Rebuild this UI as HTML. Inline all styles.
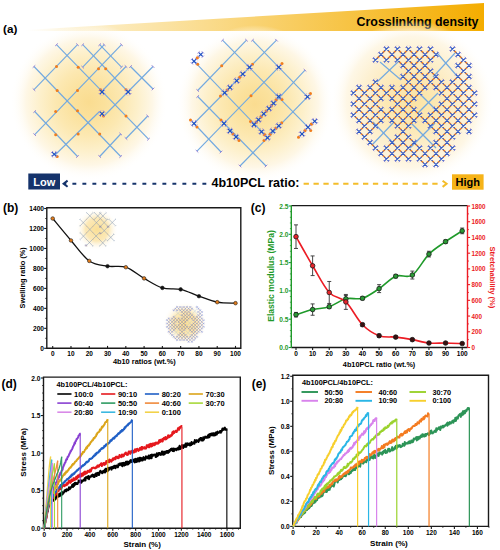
<!DOCTYPE html>
<html><head><meta charset="utf-8"><style>
html,body{margin:0;padding:0;background:#fff;width:500px;height:550px;overflow:hidden}
svg{display:block}
text{font-family:'Liberation Sans',sans-serif;font-weight:bold}
.mini1 line,.mini1 path,.mini1 circle{vector-effect:non-scaling-stroke}
.mini1 line{stroke:#8a9cb4;stroke-width:0.55px}
.mini1 path{stroke:#a08aa8;stroke-width:0.7px}
.mini1 circle{opacity:0.35}
.mini3 path,.mini3 line{vector-effect:non-scaling-stroke}
.mini3 line{stroke-width:0.4px}
.mini3 path{stroke-width:0.75px}
.mini3{opacity:0.5}
</style></head><body>
<svg width="500" height="550" viewBox="0 0 500 550">
<defs>
<linearGradient id="wedge" x1="25" y1="0" x2="484" y2="0" gradientUnits="userSpaceOnUse">
<stop offset="0" stop-color="#fdf6e0" stop-opacity="0"/>
<stop offset="0.12" stop-color="#fcecc0" stop-opacity="0.85"/>
<stop offset="0.5" stop-color="#f9d373"/>
<stop offset="1" stop-color="#f4ad00"/>
</linearGradient>
<radialGradient id="glow" cx="0.5" cy="0.5" r="0.5">
<stop offset="0" stop-color="#fadc90"/>
<stop offset="0.2" stop-color="#fbe19c"/>
<stop offset="0.42" stop-color="#fce8b1"/>
<stop offset="0.62" stop-color="#fdf0cb"/>
<stop offset="0.8" stop-color="#fef7e6"/>
<stop offset="1" stop-color="#ffffff" stop-opacity="0"/>
</radialGradient>
<radialGradient id="glow3" cx="0.5" cy="0.5" r="0.5">
<stop offset="0" stop-color="#fbe3a4"/>
<stop offset="0.3" stop-color="#fce8b4"/>
<stop offset="0.6" stop-color="#fdf0d0"/>
<stop offset="0.8" stop-color="#fef7e6"/>
<stop offset="1" stop-color="#ffffff" stop-opacity="0"/>
</radialGradient>
<radialGradient id="glow2" cx="0.5" cy="0.5" r="0.5">
<stop offset="0" stop-color="#fadf96"/>
<stop offset="0.55" stop-color="#fce9b8"/>
<stop offset="1" stop-color="#ffffff" stop-opacity="0"/>
</radialGradient>
</defs>
<rect x="0" y="0" width="500" height="550" fill="#fff"/>
<polygon points="25,30 484,3 484,31 25,31" fill="url(#wedge)"/>
<text x="10.2" y="28.4" font-size="11.7" fill="#000" text-anchor="middle" dominant-baseline="central" >(a)</text>
<text x="417.5" y="21.5" font-size="12.4" fill="#000" text-anchor="middle" dominant-baseline="central" >Crosslinking density</text>
<circle cx="89" cy="102" r="79" fill="url(#glow)"/>
<circle cx="255" cy="104" r="79" fill="url(#glow)"/>
<circle cx="412" cy="102" r="82" fill="url(#glow3)"/>
<line x1="56.50" y1="44.70" x2="148.50" y2="139.20" stroke="#72a9e0" stroke-width="1.15"/>
<line x1="57.79" y1="43.44" x2="55.21" y2="45.96" stroke="#9a86d6" stroke-width="1"/>
<line x1="149.79" y1="137.94" x2="147.21" y2="140.46" stroke="#9a86d6" stroke-width="1"/>
<line x1="82.70" y1="44.70" x2="128.20" y2="92.00" stroke="#72a9e0" stroke-width="1.15"/>
<line x1="84.00" y1="43.45" x2="81.40" y2="45.95" stroke="#9a86d6" stroke-width="1"/>
<line x1="34.00" y1="66.50" x2="120.70" y2="156.50" stroke="#72a9e0" stroke-width="1.15"/>
<line x1="35.30" y1="65.25" x2="32.70" y2="67.75" stroke="#9a86d6" stroke-width="1"/>
<line x1="122.00" y1="155.25" x2="119.40" y2="157.75" stroke="#9a86d6" stroke-width="1"/>
<line x1="34.70" y1="111.50" x2="77.50" y2="156.50" stroke="#72a9e0" stroke-width="1.15"/>
<line x1="36.00" y1="110.26" x2="33.40" y2="112.74" stroke="#9a86d6" stroke-width="1"/>
<line x1="78.80" y1="155.26" x2="76.20" y2="157.74" stroke="#9a86d6" stroke-width="1"/>
<line x1="130.50" y1="66.50" x2="153.00" y2="89.00" stroke="#72a9e0" stroke-width="1.15"/>
<line x1="131.77" y1="65.23" x2="129.23" y2="67.77" stroke="#9a86d6" stroke-width="1"/>
<line x1="154.27" y1="87.73" x2="151.73" y2="90.27" stroke="#9a86d6" stroke-width="1"/>
<line x1="99.70" y1="44.70" x2="121.50" y2="67.20" stroke="#72a9e0" stroke-width="1.15"/>
<line x1="100.99" y1="43.45" x2="98.41" y2="45.95" stroke="#9a86d6" stroke-width="1"/>
<line x1="122.79" y1="65.95" x2="120.21" y2="68.45" stroke="#9a86d6" stroke-width="1"/>
<line x1="77.50" y1="44.70" x2="34.00" y2="89.70" stroke="#72a9e0" stroke-width="1.15"/>
<line x1="78.79" y1="45.95" x2="76.21" y2="43.45" stroke="#9a86d6" stroke-width="1"/>
<line x1="35.29" y1="90.95" x2="32.71" y2="88.45" stroke="#9a86d6" stroke-width="1"/>
<line x1="104.20" y1="44.70" x2="82.70" y2="67.20" stroke="#72a9e0" stroke-width="1.15"/>
<line x1="105.50" y1="45.94" x2="102.90" y2="43.46" stroke="#9a86d6" stroke-width="1"/>
<line x1="84.00" y1="68.44" x2="81.40" y2="65.96" stroke="#9a86d6" stroke-width="1"/>
<line x1="121.50" y1="44.70" x2="34.70" y2="134.70" stroke="#72a9e0" stroke-width="1.15"/>
<line x1="122.80" y1="45.95" x2="120.20" y2="43.45" stroke="#9a86d6" stroke-width="1"/>
<line x1="36.00" y1="135.95" x2="33.40" y2="133.45" stroke="#9a86d6" stroke-width="1"/>
<line x1="126.00" y1="66.50" x2="101.20" y2="92.00" stroke="#72a9e0" stroke-width="1.15"/>
<line x1="127.29" y1="67.75" x2="124.71" y2="65.25" stroke="#9a86d6" stroke-width="1"/>
<line x1="153.00" y1="66.50" x2="104.50" y2="115.50" stroke="#72a9e0" stroke-width="1.15"/>
<line x1="154.28" y1="67.77" x2="151.72" y2="65.23" stroke="#9a86d6" stroke-width="1"/>
<line x1="99.50" y1="111.50" x2="55.00" y2="155.00" stroke="#72a9e0" stroke-width="1.15"/>
<line x1="147.70" y1="116.00" x2="126.00" y2="138.50" stroke="#72a9e0" stroke-width="1.15"/>
<line x1="149.00" y1="117.25" x2="146.40" y2="114.75" stroke="#9a86d6" stroke-width="1"/>
<line x1="127.30" y1="139.75" x2="124.70" y2="137.25" stroke="#9a86d6" stroke-width="1"/>
<line x1="120.70" y1="134.00" x2="99.70" y2="156.50" stroke="#72a9e0" stroke-width="1.15"/>
<line x1="122.02" y1="135.23" x2="119.38" y2="132.77" stroke="#9a86d6" stroke-width="1"/>
<line x1="101.02" y1="157.73" x2="98.38" y2="155.27" stroke="#9a86d6" stroke-width="1"/>
<circle cx="56.50" cy="66.50" r="1.5" fill="#f07d1e"/>
<circle cx="78.20" cy="67.20" r="1.5" fill="#f07d1e"/>
<circle cx="57.20" cy="90.50" r="1.5" fill="#f07d1e"/>
<circle cx="77.50" cy="90.50" r="1.5" fill="#f07d1e"/>
<circle cx="98.50" cy="68.70" r="1.5" fill="#f07d1e"/>
<circle cx="105.70" cy="68.70" r="1.5" fill="#f07d1e"/>
<circle cx="100.50" cy="89.70" r="1.5" fill="#f07d1e"/>
<circle cx="126.00" cy="89.70" r="1.5" fill="#f07d1e"/>
<circle cx="55.70" cy="111.50" r="1.5" fill="#f07d1e"/>
<circle cx="77.50" cy="110.70" r="1.5" fill="#f07d1e"/>
<circle cx="55.70" cy="134.70" r="1.5" fill="#f07d1e"/>
<circle cx="78.20" cy="134.00" r="1.5" fill="#f07d1e"/>
<circle cx="57.20" cy="156.50" r="1.5" fill="#f07d1e"/>
<circle cx="126.00" cy="116.00" r="1.5" fill="#f07d1e"/>
<circle cx="103.50" cy="116.00" r="1.5" fill="#f07d1e"/>
<circle cx="99.70" cy="134.00" r="1.5" fill="#f07d1e"/>
<path d="M99.85,89.85 L104.15,94.15 M99.85,94.15 L104.15,89.85" stroke="#1e4fc4" stroke-width="1.2"/>
<line x1="100.95" y1="88.75" x2="98.75" y2="90.95" stroke="#9a86d6" stroke-width="0.9"/>
<line x1="103.05" y1="95.25" x2="105.25" y2="93.05" stroke="#9a86d6" stroke-width="0.9"/>
<line x1="98.75" y1="93.05" x2="100.95" y2="95.25" stroke="#9a86d6" stroke-width="0.9"/>
<line x1="105.25" y1="90.95" x2="103.05" y2="88.75" stroke="#9a86d6" stroke-width="0.9"/>
<path d="M126.05,89.85 L130.35,94.15 M126.05,94.15 L130.35,89.85" stroke="#1e4fc4" stroke-width="1.2"/>
<line x1="127.15" y1="88.75" x2="124.95" y2="90.95" stroke="#9a86d6" stroke-width="0.9"/>
<line x1="129.25" y1="95.25" x2="131.45" y2="93.05" stroke="#9a86d6" stroke-width="0.9"/>
<line x1="124.95" y1="93.05" x2="127.15" y2="95.25" stroke="#9a86d6" stroke-width="0.9"/>
<line x1="131.45" y1="90.95" x2="129.25" y2="88.75" stroke="#9a86d6" stroke-width="0.9"/>
<path d="M52.05,152.05 L56.35,156.35 M52.05,156.35 L56.35,152.05" stroke="#1e4fc4" stroke-width="1.2"/>
<line x1="53.15" y1="150.95" x2="50.95" y2="153.15" stroke="#9a86d6" stroke-width="0.9"/>
<line x1="55.25" y1="157.45" x2="57.45" y2="155.25" stroke="#9a86d6" stroke-width="0.9"/>
<line x1="50.95" y1="155.25" x2="53.15" y2="157.45" stroke="#9a86d6" stroke-width="0.9"/>
<line x1="57.45" y1="153.15" x2="55.25" y2="150.95" stroke="#9a86d6" stroke-width="0.9"/>
<path d="M99.85,111.55 L104.15,115.85 M99.85,115.85 L104.15,111.55" stroke="#1e4fc4" stroke-width="1.2"/>
<line x1="100.95" y1="110.45" x2="98.75" y2="112.65" stroke="#9a86d6" stroke-width="0.9"/>
<line x1="103.05" y1="116.95" x2="105.25" y2="114.75" stroke="#9a86d6" stroke-width="0.9"/>
<line x1="98.75" y1="114.75" x2="100.95" y2="116.95" stroke="#9a86d6" stroke-width="0.9"/>
<line x1="105.25" y1="112.65" x2="103.05" y2="110.45" stroke="#9a86d6" stroke-width="0.9"/>
<line x1="197.70" y1="96.50" x2="266.00" y2="166.00" stroke="#72a9e0" stroke-width="1.15"/>
<line x1="198.98" y1="95.24" x2="196.42" y2="97.76" stroke="#9a86d6" stroke-width="1"/>
<line x1="267.28" y1="164.74" x2="264.72" y2="167.26" stroke="#9a86d6" stroke-width="1"/>
<line x1="194.00" y1="61.20" x2="267.50" y2="137.70" stroke="#72a9e0" stroke-width="1.15"/>
<line x1="222.50" y1="40.20" x2="308.00" y2="127.20" stroke="#72a9e0" stroke-width="1.15"/>
<line x1="223.78" y1="38.94" x2="221.22" y2="41.46" stroke="#9a86d6" stroke-width="1"/>
<line x1="252.50" y1="40.20" x2="307.50" y2="96.80" stroke="#72a9e0" stroke-width="1.15"/>
<line x1="253.79" y1="38.95" x2="251.21" y2="41.45" stroke="#9a86d6" stroke-width="1"/>
<line x1="194.00" y1="123.50" x2="221.00" y2="152.00" stroke="#72a9e0" stroke-width="1.15"/>
<line x1="222.31" y1="150.76" x2="219.69" y2="153.24" stroke="#9a86d6" stroke-width="1"/>
<line x1="246.50" y1="40.20" x2="197.70" y2="90.50" stroke="#72a9e0" stroke-width="1.15"/>
<line x1="247.79" y1="41.45" x2="245.21" y2="38.95" stroke="#9a86d6" stroke-width="1"/>
<line x1="198.99" y1="91.75" x2="196.41" y2="89.25" stroke="#9a86d6" stroke-width="1"/>
<line x1="276.50" y1="40.20" x2="194.00" y2="123.50" stroke="#72a9e0" stroke-width="1.15"/>
<line x1="277.78" y1="41.47" x2="275.22" y2="38.93" stroke="#9a86d6" stroke-width="1"/>
<line x1="278.70" y1="67.20" x2="197.00" y2="151.20" stroke="#72a9e0" stroke-width="1.15"/>
<line x1="198.29" y1="152.46" x2="195.71" y2="149.94" stroke="#9a86d6" stroke-width="1"/>
<line x1="305.00" y1="70.20" x2="254.00" y2="124.60" stroke="#72a9e0" stroke-width="1.15"/>
<line x1="306.31" y1="71.43" x2="303.69" y2="68.97" stroke="#9a86d6" stroke-width="1"/>
<line x1="307.50" y1="96.80" x2="240.00" y2="166.00" stroke="#72a9e0" stroke-width="1.15"/>
<line x1="241.29" y1="167.26" x2="238.71" y2="164.74" stroke="#9a86d6" stroke-width="1"/>
<circle cx="197.35" cy="57.85" r="1.6" fill="#f07d1e"/>
<circle cx="239.70" cy="77.35" r="1.6" fill="#f07d1e"/>
<circle cx="227.35" cy="90.10" r="1.6" fill="#f07d1e"/>
<circle cx="233.00" cy="134.00" r="1.6" fill="#f07d1e"/>
<circle cx="276.10" cy="99.85" r="1.6" fill="#f07d1e"/>
<circle cx="305.00" cy="130.60" r="1.6" fill="#f07d1e"/>
<circle cx="311.35" cy="124.20" r="1.6" fill="#f07d1e"/>
<circle cx="271.25" cy="105.85" r="1.6" fill="#f07d1e"/>
<circle cx="266.35" cy="111.10" r="1.6" fill="#f07d1e"/>
<circle cx="261.10" cy="116.70" r="1.6" fill="#f07d1e"/>
<circle cx="256.25" cy="122.15" r="1.6" fill="#f07d1e"/>
<circle cx="264.50" cy="134.70" r="1.6" fill="#f07d1e"/>
<circle cx="270.10" cy="134.35" r="1.6" fill="#f07d1e"/>
<circle cx="275.70" cy="128.35" r="1.6" fill="#f07d1e"/>
<circle cx="221.70" cy="65.70" r="1.5" fill="#f07d1e"/>
<circle cx="251.00" cy="95.70" r="1.5" fill="#f07d1e"/>
<circle cx="281.70" cy="122.70" r="1.5" fill="#f07d1e"/>
<circle cx="197.70" cy="64.20" r="1.5" fill="#f07d1e"/>
<circle cx="252.50" cy="64.20" r="1.5" fill="#f07d1e"/>
<circle cx="220.50" cy="96.00" r="1.5" fill="#f07d1e"/>
<circle cx="282.00" cy="63.50" r="1.5" fill="#f07d1e"/>
<circle cx="282.00" cy="99.50" r="1.5" fill="#f07d1e"/>
<circle cx="310.50" cy="93.50" r="1.5" fill="#f07d1e"/>
<circle cx="310.70" cy="130.50" r="1.5" fill="#f07d1e"/>
<circle cx="298.50" cy="137.20" r="1.5" fill="#f07d1e"/>
<circle cx="190.50" cy="120.00" r="1.5" fill="#f07d1e"/>
<circle cx="197.00" cy="127.00" r="1.5" fill="#f07d1e"/>
<circle cx="250.50" cy="121.50" r="1.5" fill="#f07d1e"/>
<circle cx="239.00" cy="140.50" r="1.5" fill="#f07d1e"/>
<circle cx="221.00" cy="120.00" r="1.5" fill="#f07d1e"/>
<circle cx="264.00" cy="140.50" r="1.5" fill="#f07d1e"/>
<path d="M191.85,59.05 L196.15,63.35 M191.85,63.35 L196.15,59.05" stroke="#1e4fc4" stroke-width="1.2"/>
<line x1="192.95" y1="57.95" x2="190.75" y2="60.15" stroke="#9a86d6" stroke-width="0.9"/>
<line x1="195.05" y1="64.45" x2="197.25" y2="62.25" stroke="#9a86d6" stroke-width="0.9"/>
<line x1="190.75" y1="62.25" x2="192.95" y2="64.45" stroke="#9a86d6" stroke-width="0.9"/>
<line x1="197.25" y1="60.15" x2="195.05" y2="57.95" stroke="#9a86d6" stroke-width="0.9"/>
<path d="M198.55,52.35 L202.85,56.65 M198.55,56.65 L202.85,52.35" stroke="#1e4fc4" stroke-width="1.2"/>
<line x1="199.65" y1="51.25" x2="197.45" y2="53.45" stroke="#9a86d6" stroke-width="0.9"/>
<line x1="201.75" y1="57.75" x2="203.95" y2="55.55" stroke="#9a86d6" stroke-width="0.9"/>
<line x1="197.45" y1="55.55" x2="199.65" y2="57.75" stroke="#9a86d6" stroke-width="0.9"/>
<line x1="203.95" y1="53.45" x2="201.75" y2="51.25" stroke="#9a86d6" stroke-width="0.9"/>
<path d="M247.35,65.05 L251.65,69.35 M247.35,69.35 L251.65,65.05" stroke="#1e4fc4" stroke-width="1.2"/>
<line x1="248.45" y1="63.95" x2="246.25" y2="66.15" stroke="#9a86d6" stroke-width="0.9"/>
<line x1="250.55" y1="70.45" x2="252.75" y2="68.25" stroke="#9a86d6" stroke-width="0.9"/>
<line x1="246.25" y1="68.25" x2="248.45" y2="70.45" stroke="#9a86d6" stroke-width="0.9"/>
<line x1="252.75" y1="66.15" x2="250.55" y2="63.95" stroke="#9a86d6" stroke-width="0.9"/>
<path d="M240.55,71.85 L244.85,76.15 M240.55,76.15 L244.85,71.85" stroke="#1e4fc4" stroke-width="1.2"/>
<line x1="241.65" y1="70.75" x2="239.45" y2="72.95" stroke="#9a86d6" stroke-width="0.9"/>
<line x1="243.75" y1="77.25" x2="245.95" y2="75.05" stroke="#9a86d6" stroke-width="0.9"/>
<line x1="239.45" y1="75.05" x2="241.65" y2="77.25" stroke="#9a86d6" stroke-width="0.9"/>
<line x1="245.95" y1="72.95" x2="243.75" y2="70.75" stroke="#9a86d6" stroke-width="0.9"/>
<path d="M234.55,78.55 L238.85,82.85 M234.55,82.85 L238.85,78.55" stroke="#1e4fc4" stroke-width="1.2"/>
<line x1="235.65" y1="77.45" x2="233.45" y2="79.65" stroke="#9a86d6" stroke-width="0.9"/>
<line x1="237.75" y1="83.95" x2="239.95" y2="81.75" stroke="#9a86d6" stroke-width="0.9"/>
<line x1="233.45" y1="81.75" x2="235.65" y2="83.95" stroke="#9a86d6" stroke-width="0.9"/>
<line x1="239.95" y1="79.65" x2="237.75" y2="77.45" stroke="#9a86d6" stroke-width="0.9"/>
<path d="M227.85,85.35 L232.15,89.65 M227.85,89.65 L232.15,85.35" stroke="#1e4fc4" stroke-width="1.2"/>
<line x1="228.95" y1="84.25" x2="226.75" y2="86.45" stroke="#9a86d6" stroke-width="0.9"/>
<line x1="231.05" y1="90.75" x2="233.25" y2="88.55" stroke="#9a86d6" stroke-width="0.9"/>
<line x1="226.75" y1="88.55" x2="228.95" y2="90.75" stroke="#9a86d6" stroke-width="0.9"/>
<line x1="233.25" y1="86.45" x2="231.05" y2="84.25" stroke="#9a86d6" stroke-width="0.9"/>
<path d="M222.55,90.55 L226.85,94.85 M222.55,94.85 L226.85,90.55" stroke="#1e4fc4" stroke-width="1.2"/>
<line x1="223.65" y1="89.45" x2="221.45" y2="91.65" stroke="#9a86d6" stroke-width="0.9"/>
<line x1="225.75" y1="95.95" x2="227.95" y2="93.75" stroke="#9a86d6" stroke-width="0.9"/>
<line x1="221.45" y1="93.75" x2="223.65" y2="95.95" stroke="#9a86d6" stroke-width="0.9"/>
<line x1="227.95" y1="91.65" x2="225.75" y2="89.45" stroke="#9a86d6" stroke-width="0.9"/>
<path d="M191.85,121.35 L196.15,125.65 M191.85,125.65 L196.15,121.35" stroke="#1e4fc4" stroke-width="1.2"/>
<line x1="192.95" y1="120.25" x2="190.75" y2="122.45" stroke="#9a86d6" stroke-width="0.9"/>
<line x1="195.05" y1="126.75" x2="197.25" y2="124.55" stroke="#9a86d6" stroke-width="0.9"/>
<line x1="190.75" y1="124.55" x2="192.95" y2="126.75" stroke="#9a86d6" stroke-width="0.9"/>
<line x1="197.25" y1="122.45" x2="195.05" y2="120.25" stroke="#9a86d6" stroke-width="0.9"/>
<path d="M221.85,121.35 L226.15,125.65 M221.85,125.65 L226.15,121.35" stroke="#1e4fc4" stroke-width="1.2"/>
<line x1="222.95" y1="120.25" x2="220.75" y2="122.45" stroke="#9a86d6" stroke-width="0.9"/>
<line x1="225.05" y1="126.75" x2="227.25" y2="124.55" stroke="#9a86d6" stroke-width="0.9"/>
<line x1="220.75" y1="124.55" x2="222.95" y2="126.75" stroke="#9a86d6" stroke-width="0.9"/>
<line x1="227.25" y1="122.45" x2="225.05" y2="120.25" stroke="#9a86d6" stroke-width="0.9"/>
<path d="M227.85,128.85 L232.15,133.15 M227.85,133.15 L232.15,128.85" stroke="#1e4fc4" stroke-width="1.2"/>
<line x1="228.95" y1="127.75" x2="226.75" y2="129.95" stroke="#9a86d6" stroke-width="0.9"/>
<line x1="231.05" y1="134.25" x2="233.25" y2="132.05" stroke="#9a86d6" stroke-width="0.9"/>
<line x1="226.75" y1="132.05" x2="228.95" y2="134.25" stroke="#9a86d6" stroke-width="0.9"/>
<line x1="233.25" y1="129.95" x2="231.05" y2="127.75" stroke="#9a86d6" stroke-width="0.9"/>
<path d="M233.85,134.85 L238.15,139.15 M233.85,139.15 L238.15,134.85" stroke="#1e4fc4" stroke-width="1.2"/>
<line x1="234.95" y1="133.75" x2="232.75" y2="135.95" stroke="#9a86d6" stroke-width="0.9"/>
<line x1="237.05" y1="140.25" x2="239.25" y2="138.05" stroke="#9a86d6" stroke-width="0.9"/>
<line x1="232.75" y1="138.05" x2="234.95" y2="140.25" stroke="#9a86d6" stroke-width="0.9"/>
<line x1="239.25" y1="135.95" x2="237.05" y2="133.75" stroke="#9a86d6" stroke-width="0.9"/>
<path d="M276.55,94.35 L280.85,98.65 M276.55,98.65 L280.85,94.35" stroke="#1e4fc4" stroke-width="1.2"/>
<line x1="277.65" y1="93.25" x2="275.45" y2="95.45" stroke="#9a86d6" stroke-width="0.9"/>
<line x1="279.75" y1="99.75" x2="281.95" y2="97.55" stroke="#9a86d6" stroke-width="0.9"/>
<line x1="275.45" y1="97.55" x2="277.65" y2="99.75" stroke="#9a86d6" stroke-width="0.9"/>
<line x1="281.95" y1="95.45" x2="279.75" y2="93.25" stroke="#9a86d6" stroke-width="0.9"/>
<path d="M305.85,125.05 L310.15,129.35 M305.85,129.35 L310.15,125.05" stroke="#1e4fc4" stroke-width="1.2"/>
<line x1="306.95" y1="123.95" x2="304.75" y2="126.15" stroke="#9a86d6" stroke-width="0.9"/>
<line x1="309.05" y1="130.45" x2="311.25" y2="128.25" stroke="#9a86d6" stroke-width="0.9"/>
<line x1="304.75" y1="128.25" x2="306.95" y2="130.45" stroke="#9a86d6" stroke-width="0.9"/>
<line x1="311.25" y1="126.15" x2="309.05" y2="123.95" stroke="#9a86d6" stroke-width="0.9"/>
<path d="M276.55,65.05 L280.85,69.35 M276.55,69.35 L280.85,65.05" stroke="#1e4fc4" stroke-width="1.2"/>
<line x1="277.65" y1="63.95" x2="275.45" y2="66.15" stroke="#9a86d6" stroke-width="0.9"/>
<line x1="279.75" y1="70.45" x2="281.95" y2="68.25" stroke="#9a86d6" stroke-width="0.9"/>
<line x1="275.45" y1="68.25" x2="277.65" y2="70.45" stroke="#9a86d6" stroke-width="0.9"/>
<line x1="281.95" y1="66.15" x2="279.75" y2="63.95" stroke="#9a86d6" stroke-width="0.9"/>
<path d="M305.35,94.65 L309.65,98.95 M305.35,98.95 L309.65,94.65" stroke="#1e4fc4" stroke-width="1.2"/>
<line x1="306.45" y1="93.55" x2="304.25" y2="95.75" stroke="#9a86d6" stroke-width="0.9"/>
<line x1="308.55" y1="100.05" x2="310.75" y2="97.85" stroke="#9a86d6" stroke-width="0.9"/>
<line x1="304.25" y1="97.85" x2="306.45" y2="100.05" stroke="#9a86d6" stroke-width="0.9"/>
<line x1="310.75" y1="95.75" x2="308.55" y2="93.55" stroke="#9a86d6" stroke-width="0.9"/>
<path d="M271.35,101.05 L275.65,105.35 M271.35,105.35 L275.65,101.05" stroke="#1e4fc4" stroke-width="1.2"/>
<line x1="272.45" y1="99.95" x2="270.25" y2="102.15" stroke="#9a86d6" stroke-width="0.9"/>
<line x1="274.55" y1="106.45" x2="276.75" y2="104.25" stroke="#9a86d6" stroke-width="0.9"/>
<line x1="270.25" y1="104.25" x2="272.45" y2="106.45" stroke="#9a86d6" stroke-width="0.9"/>
<line x1="276.75" y1="102.15" x2="274.55" y2="99.95" stroke="#9a86d6" stroke-width="0.9"/>
<path d="M266.85,106.35 L271.15,110.65 M266.85,110.65 L271.15,106.35" stroke="#1e4fc4" stroke-width="1.2"/>
<line x1="267.95" y1="105.25" x2="265.75" y2="107.45" stroke="#9a86d6" stroke-width="0.9"/>
<line x1="270.05" y1="111.75" x2="272.25" y2="109.55" stroke="#9a86d6" stroke-width="0.9"/>
<line x1="265.75" y1="109.55" x2="267.95" y2="111.75" stroke="#9a86d6" stroke-width="0.9"/>
<line x1="272.25" y1="107.45" x2="270.05" y2="105.25" stroke="#9a86d6" stroke-width="0.9"/>
<path d="M261.55,111.55 L265.85,115.85 M261.55,115.85 L265.85,111.55" stroke="#1e4fc4" stroke-width="1.2"/>
<line x1="262.65" y1="110.45" x2="260.45" y2="112.65" stroke="#9a86d6" stroke-width="0.9"/>
<line x1="264.75" y1="116.95" x2="266.95" y2="114.75" stroke="#9a86d6" stroke-width="0.9"/>
<line x1="260.45" y1="114.75" x2="262.65" y2="116.95" stroke="#9a86d6" stroke-width="0.9"/>
<line x1="266.95" y1="112.65" x2="264.75" y2="110.45" stroke="#9a86d6" stroke-width="0.9"/>
<path d="M256.35,117.55 L260.65,121.85 M256.35,121.85 L260.65,117.55" stroke="#1e4fc4" stroke-width="1.2"/>
<line x1="257.45" y1="116.45" x2="255.25" y2="118.65" stroke="#9a86d6" stroke-width="0.9"/>
<line x1="259.55" y1="122.95" x2="261.75" y2="120.75" stroke="#9a86d6" stroke-width="0.9"/>
<line x1="255.25" y1="120.75" x2="257.45" y2="122.95" stroke="#9a86d6" stroke-width="0.9"/>
<line x1="261.75" y1="118.65" x2="259.55" y2="116.45" stroke="#9a86d6" stroke-width="0.9"/>
<path d="M251.85,122.45 L256.15,126.75 M251.85,126.75 L256.15,122.45" stroke="#1e4fc4" stroke-width="1.2"/>
<line x1="252.95" y1="121.35" x2="250.75" y2="123.55" stroke="#9a86d6" stroke-width="0.9"/>
<line x1="255.05" y1="127.85" x2="257.25" y2="125.65" stroke="#9a86d6" stroke-width="0.9"/>
<line x1="250.75" y1="125.65" x2="252.95" y2="127.85" stroke="#9a86d6" stroke-width="0.9"/>
<line x1="257.25" y1="123.55" x2="255.05" y2="121.35" stroke="#9a86d6" stroke-width="0.9"/>
<path d="M259.35,129.55 L263.65,133.85 M259.35,133.85 L263.65,129.55" stroke="#1e4fc4" stroke-width="1.2"/>
<line x1="260.45" y1="128.45" x2="258.25" y2="130.65" stroke="#9a86d6" stroke-width="0.9"/>
<line x1="262.55" y1="134.95" x2="264.75" y2="132.75" stroke="#9a86d6" stroke-width="0.9"/>
<line x1="258.25" y1="132.75" x2="260.45" y2="134.95" stroke="#9a86d6" stroke-width="0.9"/>
<line x1="264.75" y1="130.65" x2="262.55" y2="128.45" stroke="#9a86d6" stroke-width="0.9"/>
<path d="M265.35,135.55 L269.65,139.85 M265.35,139.85 L269.65,135.55" stroke="#1e4fc4" stroke-width="1.2"/>
<line x1="266.45" y1="134.45" x2="264.25" y2="136.65" stroke="#9a86d6" stroke-width="0.9"/>
<line x1="268.55" y1="140.95" x2="270.75" y2="138.75" stroke="#9a86d6" stroke-width="0.9"/>
<line x1="264.25" y1="138.75" x2="266.45" y2="140.95" stroke="#9a86d6" stroke-width="0.9"/>
<line x1="270.75" y1="136.65" x2="268.55" y2="134.45" stroke="#9a86d6" stroke-width="0.9"/>
<path d="M276.55,123.55 L280.85,127.85 M276.55,127.85 L280.85,123.55" stroke="#1e4fc4" stroke-width="1.2"/>
<line x1="277.65" y1="122.45" x2="275.45" y2="124.65" stroke="#9a86d6" stroke-width="0.9"/>
<line x1="279.75" y1="128.95" x2="281.95" y2="126.75" stroke="#9a86d6" stroke-width="0.9"/>
<line x1="275.45" y1="126.75" x2="277.65" y2="128.95" stroke="#9a86d6" stroke-width="0.9"/>
<line x1="281.95" y1="124.65" x2="279.75" y2="122.45" stroke="#9a86d6" stroke-width="0.9"/>
<path d="M270.55,128.85 L274.85,133.15 M270.55,133.15 L274.85,128.85" stroke="#1e4fc4" stroke-width="1.2"/>
<line x1="271.65" y1="127.75" x2="269.45" y2="129.95" stroke="#9a86d6" stroke-width="0.9"/>
<line x1="273.75" y1="134.25" x2="275.95" y2="132.05" stroke="#9a86d6" stroke-width="0.9"/>
<line x1="269.45" y1="132.05" x2="271.65" y2="134.25" stroke="#9a86d6" stroke-width="0.9"/>
<line x1="275.95" y1="129.95" x2="273.75" y2="127.75" stroke="#9a86d6" stroke-width="0.9"/>
<path d="M299.85,131.85 L304.15,136.15 M299.85,136.15 L304.15,131.85" stroke="#1e4fc4" stroke-width="1.2"/>
<line x1="300.95" y1="130.75" x2="298.75" y2="132.95" stroke="#9a86d6" stroke-width="0.9"/>
<line x1="303.05" y1="137.25" x2="305.25" y2="135.05" stroke="#9a86d6" stroke-width="0.9"/>
<line x1="298.75" y1="135.05" x2="300.95" y2="137.25" stroke="#9a86d6" stroke-width="0.9"/>
<line x1="305.25" y1="132.95" x2="303.05" y2="130.75" stroke="#9a86d6" stroke-width="0.9"/>
<path d="M312.55,119.05 L316.85,123.35 M312.55,123.35 L316.85,119.05" stroke="#1e4fc4" stroke-width="1.2"/>
<line x1="313.65" y1="117.95" x2="311.45" y2="120.15" stroke="#9a86d6" stroke-width="0.9"/>
<line x1="315.75" y1="124.45" x2="317.95" y2="122.25" stroke="#9a86d6" stroke-width="0.9"/>
<line x1="311.45" y1="122.25" x2="313.65" y2="124.45" stroke="#9a86d6" stroke-width="0.9"/>
<line x1="317.95" y1="120.15" x2="315.75" y2="117.95" stroke="#9a86d6" stroke-width="0.9"/>
<line x1="380.00" y1="62.00" x2="401.00" y2="80.00" stroke="#72a9e0" stroke-width="1.15"/>
<line x1="399.00" y1="61.00" x2="377.00" y2="82.00" stroke="#72a9e0" stroke-width="1.15"/>
<line x1="437.00" y1="53.00" x2="457.00" y2="76.00" stroke="#72a9e0" stroke-width="1.15"/>
<line x1="455.00" y1="53.00" x2="433.00" y2="77.00" stroke="#72a9e0" stroke-width="1.15"/>
<line x1="419.00" y1="93.00" x2="439.00" y2="113.00" stroke="#72a9e0" stroke-width="1.15"/>
<line x1="438.00" y1="93.00" x2="418.00" y2="113.00" stroke="#72a9e0" stroke-width="1.15"/>
<line x1="411.00" y1="123.00" x2="436.00" y2="148.00" stroke="#72a9e0" stroke-width="1.15"/>
<line x1="435.00" y1="123.00" x2="410.00" y2="148.00" stroke="#72a9e0" stroke-width="1.15"/>
<line x1="373.00" y1="122.00" x2="395.00" y2="145.00" stroke="#72a9e0" stroke-width="1.15"/>
<line x1="394.00" y1="122.00" x2="372.00" y2="145.00" stroke="#72a9e0" stroke-width="1.15"/>
<path d="M384.2,86.3L382.2,84.3M401.8,84.3L399.8,86.3M415.2,123.7L417.2,121.7M422.7,113.8L420.7,111.8M388.8,99.7L390.8,101.7M382.2,101.7L384.2,99.7M444.7,80.8L442.7,78.8M461.2,53.3L459.2,51.3M454.8,55.7L456.8,57.7M390.8,106.3L388.8,108.3M451.3,78.8L449.3,80.8M466.7,58.8L464.7,56.8M432.8,132.7L434.8,134.7M362.2,86.3L360.2,84.3M357.8,84.3L355.8,86.3M454.8,66.7L456.8,68.7M456.8,62.3L454.8,64.3M388.8,121.7L390.8,123.7M470.2,134.7L472.2,132.7M472.2,130.3L470.2,128.3M465.8,132.7L467.8,134.7M422.7,47.8L420.7,45.8M418.3,45.8L416.3,47.8M434.8,139.3L432.8,141.3M453.7,140.2L455.7,138.2M429.3,111.8L427.3,113.8M456.8,73.3L454.8,75.3M394.3,127.2L396.3,129.2M437.2,57.7L439.2,55.7M439.2,53.3L437.2,51.3M455.7,47.8L453.7,45.8M449.3,50.2L451.3,52.2M451.3,45.8L449.3,47.8M421.8,121.7L423.8,123.7M453.7,151.2L455.7,149.2M455.7,146.8L453.7,144.8M409.7,129.2L411.7,127.2M427.3,127.2L429.3,129.2M442.7,162.2L444.7,160.2M448.2,156.7L450.2,154.7M396.3,133.8L394.3,135.8M389.7,47.8L387.7,45.8M385.3,45.8L383.3,47.8M384.2,108.3L382.2,106.3M385.3,144.8L383.3,146.8M437.2,167.7L439.2,165.7M432.8,165.7L434.8,167.7M411.7,135.8L409.7,133.8M400.7,47.8L398.7,45.8M396.3,45.8L394.3,47.8M417.2,141.3L415.2,139.3M470.2,68.7L472.2,66.7M472.2,64.3L470.2,62.3M378.7,80.8L376.7,78.8M374.3,78.8L372.3,80.8M387.7,63.2L389.7,61.2M383.3,61.2L385.3,63.2M439.2,75.3L437.2,73.3M411.7,47.8L409.7,45.8M407.3,45.8L405.3,47.8M376.7,129.2L378.7,127.2M382.2,123.7L384.2,121.7M387.7,162.2L389.7,160.2M383.3,160.2L385.3,162.2M433.7,47.8L431.7,45.8M429.3,45.8L427.3,47.8M394.3,61.2L396.3,63.2M361.3,138.2L363.3,140.2M371.2,134.7L373.2,132.7M422.7,146.8L420.7,144.8M429.3,144.8L427.3,146.8M470.2,79.7L472.2,77.7M472.2,75.3L470.2,73.3M432.8,88.7L434.8,90.7M431.7,63.2L433.7,61.2M416.3,160.2L418.3,162.2M373.2,141.3L371.2,139.3M366.8,143.7L368.8,145.7M472.2,86.3L470.2,84.3M390.8,139.3L388.8,141.3M426.2,167.7L428.2,165.7M421.8,165.7L423.8,167.7M378.7,146.8L376.7,144.8M372.3,149.2L374.3,151.2M433.7,69.8L431.7,67.8M355.8,121.7L357.8,123.7M475.7,96.2L477.7,94.2M477.7,91.8L475.7,89.8M376.7,63.2L378.7,61.2M372.3,61.2L374.3,63.2M374.3,56.8L372.3,58.8M379.8,51.3L377.8,53.3M434.8,106.3L432.8,108.3M377.8,154.7L379.8,156.7M355.8,132.7L357.8,134.7M357.8,128.3L355.8,130.3M350.3,94.2L352.3,96.2M352.3,89.8L350.3,91.8M426.2,90.7L428.2,88.7M475.7,107.2L477.7,105.2M477.7,102.8L475.7,100.8M398.7,162.2L400.7,160.2M394.3,160.2L396.3,162.2M399.8,66.7L401.8,68.7M415.2,101.7L417.2,99.7M420.7,96.2L422.7,94.2M409.7,162.2L411.7,160.2M405.3,160.2L407.3,162.2M438.3,94.2L440.3,96.2M470.2,123.7L472.2,121.7M350.3,105.2L352.3,107.2M352.3,100.8L350.3,102.8M475.7,118.2L477.7,116.2M477.7,113.8L475.7,111.8M399.8,77.7L401.8,79.7M401.8,73.3L399.8,75.3M417.2,108.3L415.2,106.3M368.8,84.3L366.8,86.3M440.3,100.8L438.3,102.8M395.2,86.3L393.2,84.3M390.8,84.3L388.8,86.3M459.2,134.7L461.2,132.7M350.3,116.2L352.3,118.2M352.3,111.8L350.3,113.8" stroke="#9a86d6" stroke-width="0.9" opacity="0.9"/>
<path d="M382.6,89.2L384.9,91.3M388.1,94.7L390.4,96.8M388.1,91.3L390.4,89.2M404.6,89.2L406.9,91.3M404.6,85.8L406.9,83.7M454.1,105.7L456.4,107.8M454.1,102.3L456.4,100.2M415.6,118.8L417.9,116.7M421.1,116.7L423.4,118.8M371.6,100.2L373.9,102.3M371.6,96.8L373.9,94.7M443.1,116.7L445.4,118.8M443.1,113.3L445.4,111.2M393.6,100.2L395.9,102.3M393.6,96.8L395.9,94.7M399.1,94.7L401.4,96.8M399.1,91.3L401.4,89.2M382.6,96.8L384.9,94.7M454.1,116.7L456.4,118.8M454.1,113.3L456.4,111.2M404.6,100.2L406.9,102.3M404.6,96.8L406.9,94.7M410.1,94.7L412.4,96.8M410.1,91.3L412.4,89.2M421.1,83.7L423.4,85.8M421.1,80.3L423.4,78.2M371.6,111.2L373.9,113.3M371.6,107.8L373.9,105.7M443.1,83.7L445.4,85.8M459.6,56.1L461.9,58.4M443.1,127.7L445.4,129.8M443.1,124.3L445.4,122.2M393.6,111.2L395.9,113.3M393.6,107.8L395.9,105.7M448.6,122.2L450.9,124.3M448.6,118.8L450.9,116.7M399.1,105.7L401.4,107.8M399.1,102.3L401.4,100.2M454.1,83.7L456.4,85.8M454.1,80.3L456.4,78.2M465.1,61.6L467.4,63.9M437.6,133.2L439.9,135.3M437.6,129.8L439.9,127.7M388.1,116.7L390.4,118.8M388.1,113.3L390.4,111.2M404.6,111.2L406.9,113.3M404.6,107.8L406.9,105.7M454.1,127.7L456.4,129.8M454.1,124.3L456.4,122.2M410.1,105.7L412.4,107.8M410.1,102.3L412.4,100.2M360.6,89.2L362.9,91.3M459.6,67.2L461.9,69.3M459.6,63.9L461.9,61.6M443.1,138.7L445.4,140.8M443.1,135.3L445.4,133.2M393.6,122.2L395.9,124.3M393.6,118.8L395.9,116.7M448.6,133.2L450.9,135.3M448.6,129.8L450.9,127.7M399.1,116.7L401.4,118.8M399.1,113.3L401.4,111.2M377.1,94.7L379.4,96.8M377.1,91.3L379.4,89.2M465.1,72.7L467.4,74.8M465.1,69.3L467.4,67.2M415.6,56.1L417.9,58.4M415.6,52.9L417.9,50.6M421.1,50.6L423.4,52.9M437.6,144.2L439.9,146.3M437.6,140.8L439.9,138.7M454.1,135.3L456.4,133.2M410.1,116.7L412.4,118.8M410.1,113.3L412.4,111.2M360.6,100.2L362.9,102.3M360.6,96.8L362.9,94.7M366.1,105.7L368.4,107.8M366.1,102.3L368.4,100.2M432.1,116.7L434.4,118.8M432.1,113.3L434.4,111.2M459.6,78.2L461.9,80.3M459.6,74.8L461.9,72.7M443.1,149.7L445.4,151.8M443.1,146.3L445.4,144.2M448.6,144.2L450.9,146.3M448.6,140.8L450.9,138.7M399.1,127.7L401.4,129.8M399.1,124.3L401.4,122.2M454.1,50.6L456.4,52.9M426.6,122.2L428.9,124.3M426.6,118.8L428.9,116.7M377.1,105.7L379.4,107.8M377.1,102.3L379.4,100.2M410.1,83.7L412.4,85.8M410.1,80.3L412.4,78.2M421.1,61.6L423.4,63.9M421.1,58.4L423.4,56.1M437.6,155.2L439.9,157.3M437.6,151.8L439.9,149.7M410.1,124.3L412.4,122.2M432.1,83.7L434.4,85.8M432.1,80.3L434.4,78.2M366.1,116.7L368.4,118.8M366.1,113.3L368.4,111.2M432.1,127.7L434.4,129.8M432.1,124.3L434.4,122.2M459.6,89.2L461.9,91.3M459.6,85.8L461.9,83.7M443.1,157.3L445.4,155.2M448.6,151.8L450.9,149.7M399.1,138.7L401.4,140.8M399.1,135.3L401.4,133.2M388.1,50.6L390.4,52.9M377.1,116.7L379.4,118.8M377.1,113.3L379.4,111.2M382.6,111.2L384.9,113.3M421.1,72.7L423.4,74.8M421.1,69.3L423.4,67.2M388.1,149.7L390.4,151.8M388.1,146.3L390.4,144.2M437.6,162.8L439.9,160.7M410.1,138.7L412.4,140.8M393.6,56.1L395.9,58.4M393.6,52.9L395.9,50.6M399.1,50.6L401.4,52.9M366.1,127.7L368.4,129.8M366.1,124.3L368.4,122.2M415.6,144.2L417.9,146.3M371.6,122.2L373.9,124.3M371.6,118.8L373.9,116.7M459.6,100.2L461.9,102.3M459.6,96.8L461.9,94.7M399.1,149.7L401.4,151.8M399.1,146.3L401.4,144.2M377.1,83.7L379.4,85.8M388.1,58.4L390.4,56.1M437.6,78.2L439.9,80.3M410.1,50.6L412.4,52.9M377.1,124.3L379.4,122.2M382.6,118.8L384.9,116.7M388.1,157.3L390.4,155.2M432.1,50.6L434.4,52.9M404.6,122.2L406.9,124.3M404.6,118.8L406.9,116.7M399.1,61.6L401.4,63.9M399.1,58.4L401.4,56.1M366.1,138.7L368.4,140.8M366.1,135.3L368.4,133.2M415.6,155.2L417.9,157.3M415.6,151.8L417.9,149.7M371.6,129.8L373.9,127.7M421.1,149.7L423.4,151.8M432.1,149.7L434.4,151.8M432.1,146.3L434.4,144.2M459.6,111.2L461.9,113.3M459.6,107.8L461.9,105.7M426.6,56.1L428.9,58.4M426.6,52.9L428.9,50.6M437.6,89.2L439.9,91.3M437.6,85.8L439.9,83.7M410.1,61.6L412.4,63.9M410.1,58.4L412.4,56.1M426.6,155.2L428.9,157.3M426.6,151.8L428.9,149.7M415.6,67.2L417.9,69.3M415.6,63.9L417.9,61.6M432.1,58.4L434.4,56.1M404.6,133.2L406.9,135.3M404.6,129.8L406.9,127.7M360.6,111.2L362.9,113.3M360.6,107.8L362.9,105.7M448.6,89.2L450.9,91.3M448.6,85.8L450.9,83.7M421.1,160.7L423.4,162.8M421.1,157.3L423.4,155.2M371.6,144.2L373.9,146.3M470.6,89.2L472.9,91.3M426.6,67.2L428.9,69.3M426.6,63.9L428.9,61.6M393.6,144.2L395.9,146.3M393.6,140.8L395.9,138.7M426.6,162.8L428.9,160.7M377.1,149.7L379.4,151.8M465.1,94.7L467.4,96.8M465.1,91.3L467.4,89.2M415.6,78.2L417.9,80.3M415.6,74.8L417.9,72.7M432.1,72.7L434.4,74.8M404.6,144.2L406.9,146.3M404.6,140.8L406.9,138.7M360.6,122.2L362.9,124.3M360.6,118.8L362.9,116.7M448.6,100.2L450.9,102.3M448.6,96.8L450.9,94.7M470.6,100.2L472.9,102.3M470.6,96.8L472.9,94.7M426.6,78.2L428.9,80.3M426.6,74.8L428.9,72.7M377.1,58.4L379.4,56.1M393.6,155.2L395.9,157.3M393.6,151.8L395.9,149.7M382.6,56.1L384.9,58.4M382.6,52.9L384.9,50.6M437.6,111.2L439.9,113.3M437.6,107.8L439.9,105.7M382.6,155.2L384.9,157.3M382.6,151.8L384.9,149.7M404.6,56.1L406.9,58.4M404.6,52.9L406.9,50.6M465.1,105.7L467.4,107.8M465.1,102.3L467.4,100.2M415.6,89.2L417.9,91.3M415.6,85.8L417.9,83.7M404.6,155.2L406.9,157.3M404.6,151.8L406.9,149.7M410.1,149.7L412.4,151.8M410.1,146.3L412.4,144.2M360.6,133.2L362.9,135.3M360.6,129.8L362.9,127.7M448.6,111.2L450.9,113.3M448.6,107.8L450.9,105.7M470.6,111.2L472.9,113.3M470.6,107.8L472.9,105.7M355.1,94.7L357.4,96.8M355.1,91.3L357.4,89.2M426.6,85.8L428.9,83.7M399.1,157.3L401.4,155.2M437.6,122.2L439.9,124.3M437.6,118.8L439.9,116.7M404.6,67.2L406.9,69.3M404.6,63.9L406.9,61.6M465.1,116.7L467.4,118.8M465.1,113.3L467.4,111.2M415.6,96.8L417.9,94.7M421.1,91.3L423.4,89.2M410.1,157.3L412.4,155.2M443.1,94.7L445.4,96.8M443.1,91.3L445.4,89.2M432.1,160.7L434.4,162.8M432.1,157.3L434.4,155.2M470.6,118.8L472.9,116.7M459.6,122.2L461.9,124.3M459.6,118.8L461.9,116.7M355.1,105.7L357.4,107.8M355.1,102.3L357.4,100.2M454.1,94.7L456.4,96.8M454.1,91.3L456.4,89.2M404.6,78.2L406.9,80.3M404.6,74.8L406.9,72.7M465.1,83.7L467.4,85.8M465.1,80.3L467.4,78.2M410.1,72.7L412.4,74.8M410.1,69.3L412.4,67.2M465.1,127.7L467.4,129.8M465.1,124.3L467.4,122.2M415.6,111.2L417.9,113.3M366.1,94.7L368.4,96.8M366.1,91.3L368.4,89.2M371.6,89.2L373.9,91.3M371.6,85.8L373.9,83.7M443.1,105.7L445.4,107.8M443.1,102.3L445.4,100.2M393.6,89.2L395.9,91.3M459.6,129.8L461.9,127.7M355.1,116.7L357.4,118.8M355.1,113.3L357.4,111.2" stroke="#f07d1e" stroke-width="1.5"/>
<path d="M378.8,85.3L383.2,89.7M378.8,89.7L383.2,85.3M384.3,90.8L388.7,95.2M384.3,95.2L388.7,90.8M400.8,85.3L405.2,89.7M400.8,89.7L405.2,85.3M450.3,101.8L454.7,106.2M450.3,106.2L454.7,101.8M411.8,118.3L416.2,122.7M411.8,122.7L416.2,118.3M417.3,112.8L421.7,117.2M417.3,117.2L421.7,112.8M367.8,96.3L372.2,100.7M367.8,100.7L372.2,96.3M439.3,112.8L443.7,117.2M439.3,117.2L443.7,112.8M389.8,96.3L394.2,100.7M389.8,100.7L394.2,96.3M395.3,90.8L399.7,95.2M395.3,95.2L399.7,90.8M378.8,96.3L383.2,100.7M378.8,100.7L383.2,96.3M450.3,112.8L454.7,117.2M450.3,117.2L454.7,112.8M400.8,96.3L405.2,100.7M400.8,100.7L405.2,96.3M406.3,90.8L410.7,95.2M406.3,95.2L410.7,90.8M417.3,79.8L421.7,84.2M417.3,84.2L421.7,79.8M367.8,107.3L372.2,111.7M367.8,111.7L372.2,107.3M439.3,79.8L443.7,84.2M439.3,84.2L443.7,79.8M455.8,52.3L460.2,56.7M455.8,56.7L460.2,52.3M439.3,123.8L443.7,128.2M439.3,128.2L443.7,123.8M389.8,107.3L394.2,111.7M389.8,111.7L394.2,107.3M444.8,118.3L449.2,122.7M444.8,122.7L449.2,118.3M395.3,101.8L399.7,106.2M395.3,106.2L399.7,101.8M450.3,79.8L454.7,84.2M450.3,84.2L454.7,79.8M461.3,57.8L465.7,62.2M461.3,62.2L465.7,57.8M433.8,129.3L438.2,133.7M433.8,133.7L438.2,129.3M384.3,112.8L388.7,117.2M384.3,117.2L388.7,112.8M400.8,107.3L405.2,111.7M400.8,111.7L405.2,107.3M450.3,123.8L454.7,128.2M450.3,128.2L454.7,123.8M406.3,101.8L410.7,106.2M406.3,106.2L410.7,101.8M356.8,85.3L361.2,89.7M356.8,89.7L361.2,85.3M455.8,63.3L460.2,67.7M455.8,67.7L460.2,63.3M439.3,134.8L443.7,139.2M439.3,139.2L443.7,134.8M389.8,118.3L394.2,122.7M389.8,122.7L394.2,118.3M444.8,129.3L449.2,133.7M444.8,133.7L449.2,129.3M395.3,112.8L399.7,117.2M395.3,117.2L399.7,112.8M466.8,129.3L471.2,133.7M466.8,133.7L471.2,129.3M373.3,90.8L377.7,95.2M373.3,95.2L377.7,90.8M461.3,68.8L465.7,73.2M461.3,73.2L465.7,68.8M411.8,52.3L416.2,56.7M411.8,56.7L416.2,52.3M417.3,46.8L421.7,51.2M417.3,51.2L421.7,46.8M433.8,140.3L438.2,144.7M433.8,144.7L438.2,140.3M450.3,134.8L454.7,139.2M450.3,139.2L454.7,134.8M406.3,112.8L410.7,117.2M406.3,117.2L410.7,112.8M356.8,96.3L361.2,100.7M356.8,100.7L361.2,96.3M362.3,101.8L366.7,106.2M362.3,106.2L366.7,101.8M428.3,112.8L432.7,117.2M428.3,117.2L432.7,112.8M455.8,74.3L460.2,78.7M455.8,78.7L460.2,74.3M439.3,145.8L443.7,150.2M439.3,150.2L443.7,145.8M444.8,140.3L449.2,144.7M444.8,144.7L449.2,140.3M395.3,123.8L399.7,128.2M395.3,128.2L399.7,123.8M433.8,52.3L438.2,56.7M433.8,56.7L438.2,52.3M450.3,46.8L454.7,51.2M450.3,51.2L454.7,46.8M422.8,118.3L427.2,122.7M422.8,122.7L427.2,118.3M373.3,101.8L377.7,106.2M373.3,106.2L377.7,101.8M406.3,79.8L410.7,84.2M406.3,84.2L410.7,79.8M417.3,57.8L421.7,62.2M417.3,62.2L421.7,57.8M433.8,151.3L438.2,155.7M433.8,155.7L438.2,151.3M450.3,145.8L454.7,150.2M450.3,150.2L454.7,145.8M406.3,123.8L410.7,128.2M406.3,128.2L410.7,123.8M428.3,79.8L432.7,84.2M428.3,84.2L432.7,79.8M362.3,112.8L366.7,117.2M362.3,117.2L366.7,112.8M428.3,123.8L432.7,128.2M428.3,128.2L432.7,123.8M455.8,85.3L460.2,89.7M455.8,89.7L460.2,85.3M439.3,156.8L443.7,161.2M439.3,161.2L443.7,156.8M444.8,151.3L449.2,155.7M444.8,155.7L449.2,151.3M395.3,134.8L399.7,139.2M395.3,139.2L399.7,134.8M384.3,46.8L388.7,51.2M384.3,51.2L388.7,46.8M373.3,112.8L377.7,117.2M373.3,117.2L377.7,112.8M378.8,107.3L383.2,111.7M378.8,111.7L383.2,107.3M417.3,68.8L421.7,73.2M417.3,73.2L421.7,68.8M384.3,145.8L388.7,150.2M384.3,150.2L388.7,145.8M433.8,162.3L438.2,166.7M433.8,166.7L438.2,162.3M406.3,134.8L410.7,139.2M406.3,139.2L410.7,134.8M389.8,52.3L394.2,56.7M389.8,56.7L394.2,52.3M395.3,46.8L399.7,51.2M395.3,51.2L399.7,46.8M362.3,123.8L366.7,128.2M362.3,128.2L366.7,123.8M411.8,140.3L416.2,144.7M411.8,144.7L416.2,140.3M367.8,118.3L372.2,122.7M367.8,122.7L372.2,118.3M455.8,96.3L460.2,100.7M455.8,100.7L460.2,96.3M395.3,145.8L399.7,150.2M395.3,150.2L399.7,145.8M466.8,63.3L471.2,67.7M466.8,67.7L471.2,63.3M373.3,79.8L377.7,84.2M373.3,84.2L377.7,79.8M384.3,57.8L388.7,62.2M384.3,62.2L388.7,57.8M433.8,74.3L438.2,78.7M433.8,78.7L438.2,74.3M406.3,46.8L410.7,51.2M406.3,51.2L410.7,46.8M373.3,123.8L377.7,128.2M373.3,128.2L377.7,123.8M378.8,118.3L383.2,122.7M378.8,122.7L383.2,118.3M384.3,156.8L388.7,161.2M384.3,161.2L388.7,156.8M428.3,46.8L432.7,51.2M428.3,51.2L432.7,46.8M400.8,118.3L405.2,122.7M400.8,122.7L405.2,118.3M395.3,57.8L399.7,62.2M395.3,62.2L399.7,57.8M362.3,134.8L366.7,139.2M362.3,139.2L366.7,134.8M411.8,151.3L416.2,155.7M411.8,155.7L416.2,151.3M367.8,129.3L372.2,133.7M367.8,133.7L372.2,129.3M417.3,145.8L421.7,150.2M417.3,150.2L421.7,145.8M428.3,145.8L432.7,150.2M428.3,150.2L432.7,145.8M455.8,107.3L460.2,111.7M455.8,111.7L460.2,107.3M466.8,74.3L471.2,78.7M466.8,78.7L471.2,74.3M422.8,52.3L427.2,56.7M422.8,56.7L427.2,52.3M433.8,85.3L438.2,89.7M433.8,89.7L438.2,85.3M406.3,57.8L410.7,62.2M406.3,62.2L410.7,57.8M422.8,151.3L427.2,155.7M422.8,155.7L427.2,151.3M411.8,63.3L416.2,67.7M411.8,67.7L416.2,63.3M428.3,57.8L432.7,62.2M428.3,62.2L432.7,57.8M400.8,129.3L405.2,133.7M400.8,133.7L405.2,129.3M356.8,107.3L361.2,111.7M356.8,111.7L361.2,107.3M444.8,85.3L449.2,89.7M444.8,89.7L449.2,85.3M417.3,156.8L421.7,161.2M417.3,161.2L421.7,156.8M367.8,140.3L372.2,144.7M367.8,144.7L372.2,140.3M466.8,85.3L471.2,89.7M466.8,89.7L471.2,85.3M422.8,63.3L427.2,67.7M422.8,67.7L427.2,63.3M389.8,140.3L394.2,144.7M389.8,144.7L394.2,140.3M422.8,162.3L427.2,166.7M422.8,166.7L427.2,162.3M373.3,145.8L377.7,150.2M373.3,150.2L377.7,145.8M461.3,90.8L465.7,95.2M461.3,95.2L465.7,90.8M411.8,74.3L416.2,78.7M411.8,78.7L416.2,74.3M428.3,68.8L432.7,73.2M428.3,73.2L432.7,68.8M400.8,140.3L405.2,144.7M400.8,144.7L405.2,140.3M356.8,118.3L361.2,122.7M356.8,122.7L361.2,118.3M444.8,96.3L449.2,100.7M444.8,100.7L449.2,96.3M466.8,96.3L471.2,100.7M466.8,100.7L471.2,96.3M472.3,90.8L476.7,95.2M472.3,95.2L476.7,90.8M422.8,74.3L427.2,78.7M422.8,78.7L427.2,74.3M373.3,57.8L377.7,62.2M373.3,62.2L377.7,57.8M389.8,151.3L394.2,155.7M389.8,155.7L394.2,151.3M378.8,52.3L383.2,56.7M378.8,56.7L383.2,52.3M433.8,107.3L438.2,111.7M433.8,111.7L438.2,107.3M378.8,151.3L383.2,155.7M378.8,155.7L383.2,151.3M400.8,52.3L405.2,56.7M400.8,56.7L405.2,52.3M461.3,101.8L465.7,106.2M461.3,106.2L465.7,101.8M411.8,85.3L416.2,89.7M411.8,89.7L416.2,85.3M400.8,151.3L405.2,155.7M400.8,155.7L405.2,151.3M406.3,145.8L410.7,150.2M406.3,150.2L410.7,145.8M356.8,129.3L361.2,133.7M356.8,133.7L361.2,129.3M444.8,107.3L449.2,111.7M444.8,111.7L449.2,107.3M466.8,107.3L471.2,111.7M466.8,111.7L471.2,107.3M351.3,90.8L355.7,95.2M351.3,95.2L355.7,90.8M422.8,85.3L427.2,89.7M422.8,89.7L427.2,85.3M472.3,101.8L476.7,106.2M472.3,106.2L476.7,101.8M395.3,156.8L399.7,161.2M395.3,161.2L399.7,156.8M433.8,118.3L438.2,122.7M433.8,122.7L438.2,118.3M400.8,63.3L405.2,67.7M400.8,67.7L405.2,63.3M461.3,112.8L465.7,117.2M461.3,117.2L465.7,112.8M411.8,96.3L416.2,100.7M411.8,100.7L416.2,96.3M417.3,90.8L421.7,95.2M417.3,95.2L421.7,90.8M406.3,156.8L410.7,161.2M406.3,161.2L410.7,156.8M439.3,90.8L443.7,95.2M439.3,95.2L443.7,90.8M428.3,156.8L432.7,161.2M428.3,161.2L432.7,156.8M466.8,118.3L471.2,122.7M466.8,122.7L471.2,118.3M455.8,118.3L460.2,122.7M455.8,122.7L460.2,118.3M351.3,101.8L355.7,106.2M351.3,106.2L355.7,101.8M472.3,112.8L476.7,117.2M472.3,117.2L476.7,112.8M450.3,90.8L454.7,95.2M450.3,95.2L454.7,90.8M400.8,74.3L405.2,78.7M400.8,78.7L405.2,74.3M461.3,79.8L465.7,84.2M461.3,84.2L465.7,79.8M406.3,68.8L410.7,73.2M406.3,73.2L410.7,68.8M461.3,123.8L465.7,128.2M461.3,128.2L465.7,123.8M411.8,107.3L416.2,111.7M411.8,111.7L416.2,107.3M362.3,90.8L366.7,95.2M362.3,95.2L366.7,90.8M367.8,85.3L372.2,89.7M367.8,89.7L372.2,85.3M439.3,101.8L443.7,106.2M439.3,106.2L443.7,101.8M389.8,85.3L394.2,89.7M389.8,89.7L394.2,85.3M455.8,129.3L460.2,133.7M455.8,133.7L460.2,129.3M351.3,112.8L355.7,117.2M351.3,117.2L355.7,112.8" stroke="#2d56c8" stroke-width="1.1"/>
<rect x="28.3" y="173.5" width="31.7" height="16" fill="#15336b"/>
<text x="44.2" y="182" font-size="11" fill="#fff" text-anchor="middle" dominant-baseline="central" >Low</text>
<path d="M67.6,180.6 L63.6,183.7 L67.6,186.8" fill="none" stroke="#15336b" stroke-width="2"/>
<line x1="64" y1="183.7" x2="207" y2="183.7" stroke="#15336b" stroke-width="1.9" stroke-dasharray="3.9,6.1" stroke-dashoffset="-8.4"/>
<text x="255.5" y="183.3" font-size="12.5" fill="#000" text-anchor="middle" dominant-baseline="central" >4b10PCL ratio:</text>
<line x1="303.6" y1="183.8" x2="441" y2="183.8" stroke="#f4bd2a" stroke-width="1.9" stroke-dasharray="5.3,4.6"/>
<path d="M442.6,180.7 L446.6,183.8 L442.6,186.9" fill="none" stroke="#f4bd2a" stroke-width="2"/>
<rect x="452" y="174.3" width="31.6" height="15.4" fill="#f6b318"/>
<text x="467.8" y="182.3" font-size="11" fill="#000" text-anchor="middle" dominant-baseline="central" >High</text>
<g>
<text x="10.6" y="207.9" font-size="12" fill="#000" text-anchor="middle" dominant-baseline="central" >(b)</text>
<path d="M46.8,207.7 H240.8 V348.3 H46.8 Z" fill="none" stroke="#1a1a1a" stroke-width="1.4"/>
<line x1="44.20" y1="348.30" x2="46.80" y2="348.30" stroke="#1a1a1a" stroke-width="1.1" />
<text x="44" y="348.3" font-size="6.6" fill="#000" text-anchor="end" dominant-baseline="central" >0</text>
<line x1="45.30" y1="338.31" x2="46.80" y2="338.31" stroke="#1a1a1a" stroke-width="0.9" />
<line x1="44.20" y1="328.33" x2="46.80" y2="328.33" stroke="#1a1a1a" stroke-width="1.1" />
<text x="44" y="328.33" font-size="6.6" fill="#000" text-anchor="end" dominant-baseline="central" >200</text>
<line x1="45.30" y1="318.35" x2="46.80" y2="318.35" stroke="#1a1a1a" stroke-width="0.9" />
<line x1="44.20" y1="308.36" x2="46.80" y2="308.36" stroke="#1a1a1a" stroke-width="1.1" />
<text x="44" y="308.36" font-size="6.6" fill="#000" text-anchor="end" dominant-baseline="central" >400</text>
<line x1="45.30" y1="298.38" x2="46.80" y2="298.38" stroke="#1a1a1a" stroke-width="0.9" />
<line x1="44.20" y1="288.39" x2="46.80" y2="288.39" stroke="#1a1a1a" stroke-width="1.1" />
<text x="44" y="288.39" font-size="6.6" fill="#000" text-anchor="end" dominant-baseline="central" >600</text>
<line x1="45.30" y1="278.41" x2="46.80" y2="278.41" stroke="#1a1a1a" stroke-width="0.9" />
<line x1="44.20" y1="268.42" x2="46.80" y2="268.42" stroke="#1a1a1a" stroke-width="1.1" />
<text x="44" y="268.42" font-size="6.6" fill="#000" text-anchor="end" dominant-baseline="central" >800</text>
<line x1="45.30" y1="258.44" x2="46.80" y2="258.44" stroke="#1a1a1a" stroke-width="0.9" />
<line x1="44.20" y1="248.45" x2="46.80" y2="248.45" stroke="#1a1a1a" stroke-width="1.1" />
<text x="44" y="248.45" font-size="6.6" fill="#000" text-anchor="end" dominant-baseline="central" >1000</text>
<line x1="45.30" y1="238.47" x2="46.80" y2="238.47" stroke="#1a1a1a" stroke-width="0.9" />
<line x1="44.20" y1="228.48" x2="46.80" y2="228.48" stroke="#1a1a1a" stroke-width="1.1" />
<text x="44" y="228.48" font-size="6.6" fill="#000" text-anchor="end" dominant-baseline="central" >1200</text>
<line x1="45.30" y1="218.50" x2="46.80" y2="218.50" stroke="#1a1a1a" stroke-width="0.9" />
<line x1="44.20" y1="208.51" x2="46.80" y2="208.51" stroke="#1a1a1a" stroke-width="1.1" />
<text x="44" y="208.51" font-size="6.6" fill="#000" text-anchor="end" dominant-baseline="central" >1400</text>
<line x1="52.70" y1="345.90" x2="52.70" y2="348.30" stroke="#1a1a1a" stroke-width="1.1" />
<text x="52.7" y="353.4" font-size="6.5" fill="#000" text-anchor="middle" dominant-baseline="central" >0</text>
<line x1="70.98" y1="345.90" x2="70.98" y2="348.30" stroke="#1a1a1a" stroke-width="1.1" />
<text x="70.98" y="353.4" font-size="6.5" fill="#000" text-anchor="middle" dominant-baseline="central" >10</text>
<line x1="89.26" y1="345.90" x2="89.26" y2="348.30" stroke="#1a1a1a" stroke-width="1.1" />
<text x="89.26" y="353.4" font-size="6.5" fill="#000" text-anchor="middle" dominant-baseline="central" >20</text>
<line x1="107.54" y1="345.90" x2="107.54" y2="348.30" stroke="#1a1a1a" stroke-width="1.1" />
<text x="107.54" y="353.4" font-size="6.5" fill="#000" text-anchor="middle" dominant-baseline="central" >30</text>
<line x1="125.82" y1="345.90" x2="125.82" y2="348.30" stroke="#1a1a1a" stroke-width="1.1" />
<text x="125.82" y="353.4" font-size="6.5" fill="#000" text-anchor="middle" dominant-baseline="central" >40</text>
<line x1="144.10" y1="345.90" x2="144.10" y2="348.30" stroke="#1a1a1a" stroke-width="1.1" />
<text x="144.1" y="353.4" font-size="6.5" fill="#000" text-anchor="middle" dominant-baseline="central" >50</text>
<line x1="162.38" y1="345.90" x2="162.38" y2="348.30" stroke="#1a1a1a" stroke-width="1.1" />
<text x="162.38" y="353.4" font-size="6.5" fill="#000" text-anchor="middle" dominant-baseline="central" >60</text>
<line x1="180.66" y1="345.90" x2="180.66" y2="348.30" stroke="#1a1a1a" stroke-width="1.1" />
<text x="180.66" y="353.4" font-size="6.5" fill="#000" text-anchor="middle" dominant-baseline="central" >70</text>
<line x1="198.94" y1="345.90" x2="198.94" y2="348.30" stroke="#1a1a1a" stroke-width="1.1" />
<text x="198.94" y="353.4" font-size="6.5" fill="#000" text-anchor="middle" dominant-baseline="central" >80</text>
<line x1="217.22" y1="345.90" x2="217.22" y2="348.30" stroke="#1a1a1a" stroke-width="1.1" />
<text x="217.22" y="353.4" font-size="6.5" fill="#000" text-anchor="middle" dominant-baseline="central" >90</text>
<line x1="235.50" y1="345.90" x2="235.50" y2="348.30" stroke="#1a1a1a" stroke-width="1.1" />
<text x="235.5" y="353.4" font-size="6.5" fill="#000" text-anchor="middle" dominant-baseline="central" >100</text>
<text x="144.3" y="361.8" font-size="7.4" fill="#000" text-anchor="middle" dominant-baseline="central" >4b10 ratios (wt.%)</text>
<text x="22.2" y="277.8" font-size="7.35" fill="#000" text-anchor="middle" dominant-baseline="central" transform="rotate(-90 22.2 277.8)" >Swelling ratio (%)</text>
<circle cx="97" cy="229.5" r="21" fill="url(#glow2)"/>
<g class="mini1" transform="translate(97 229.5) scale(0.3) translate(-91 -101)"><line x1="56.50" y1="44.70" x2="148.50" y2="139.20" stroke="#72a9e0" stroke-width="1.15"/><line x1="57.79" y1="43.44" x2="55.21" y2="45.96" stroke="#9a86d6" stroke-width="1"/><line x1="149.79" y1="137.94" x2="147.21" y2="140.46" stroke="#9a86d6" stroke-width="1"/><line x1="82.70" y1="44.70" x2="128.20" y2="92.00" stroke="#72a9e0" stroke-width="1.15"/><line x1="84.00" y1="43.45" x2="81.40" y2="45.95" stroke="#9a86d6" stroke-width="1"/><line x1="34.00" y1="66.50" x2="120.70" y2="156.50" stroke="#72a9e0" stroke-width="1.15"/><line x1="35.30" y1="65.25" x2="32.70" y2="67.75" stroke="#9a86d6" stroke-width="1"/><line x1="122.00" y1="155.25" x2="119.40" y2="157.75" stroke="#9a86d6" stroke-width="1"/><line x1="34.70" y1="111.50" x2="77.50" y2="156.50" stroke="#72a9e0" stroke-width="1.15"/><line x1="36.00" y1="110.26" x2="33.40" y2="112.74" stroke="#9a86d6" stroke-width="1"/><line x1="78.80" y1="155.26" x2="76.20" y2="157.74" stroke="#9a86d6" stroke-width="1"/><line x1="130.50" y1="66.50" x2="153.00" y2="89.00" stroke="#72a9e0" stroke-width="1.15"/><line x1="131.77" y1="65.23" x2="129.23" y2="67.77" stroke="#9a86d6" stroke-width="1"/><line x1="154.27" y1="87.73" x2="151.73" y2="90.27" stroke="#9a86d6" stroke-width="1"/><line x1="99.70" y1="44.70" x2="121.50" y2="67.20" stroke="#72a9e0" stroke-width="1.15"/><line x1="100.99" y1="43.45" x2="98.41" y2="45.95" stroke="#9a86d6" stroke-width="1"/><line x1="122.79" y1="65.95" x2="120.21" y2="68.45" stroke="#9a86d6" stroke-width="1"/><line x1="77.50" y1="44.70" x2="34.00" y2="89.70" stroke="#72a9e0" stroke-width="1.15"/><line x1="78.79" y1="45.95" x2="76.21" y2="43.45" stroke="#9a86d6" stroke-width="1"/><line x1="35.29" y1="90.95" x2="32.71" y2="88.45" stroke="#9a86d6" stroke-width="1"/><line x1="104.20" y1="44.70" x2="82.70" y2="67.20" stroke="#72a9e0" stroke-width="1.15"/><line x1="105.50" y1="45.94" x2="102.90" y2="43.46" stroke="#9a86d6" stroke-width="1"/><line x1="84.00" y1="68.44" x2="81.40" y2="65.96" stroke="#9a86d6" stroke-width="1"/><line x1="121.50" y1="44.70" x2="34.70" y2="134.70" stroke="#72a9e0" stroke-width="1.15"/><line x1="122.80" y1="45.95" x2="120.20" y2="43.45" stroke="#9a86d6" stroke-width="1"/><line x1="36.00" y1="135.95" x2="33.40" y2="133.45" stroke="#9a86d6" stroke-width="1"/><line x1="126.00" y1="66.50" x2="101.20" y2="92.00" stroke="#72a9e0" stroke-width="1.15"/><line x1="127.29" y1="67.75" x2="124.71" y2="65.25" stroke="#9a86d6" stroke-width="1"/><line x1="153.00" y1="66.50" x2="104.50" y2="115.50" stroke="#72a9e0" stroke-width="1.15"/><line x1="154.28" y1="67.77" x2="151.72" y2="65.23" stroke="#9a86d6" stroke-width="1"/><line x1="99.50" y1="111.50" x2="55.00" y2="155.00" stroke="#72a9e0" stroke-width="1.15"/><line x1="147.70" y1="116.00" x2="126.00" y2="138.50" stroke="#72a9e0" stroke-width="1.15"/><line x1="149.00" y1="117.25" x2="146.40" y2="114.75" stroke="#9a86d6" stroke-width="1"/><line x1="127.30" y1="139.75" x2="124.70" y2="137.25" stroke="#9a86d6" stroke-width="1"/><line x1="120.70" y1="134.00" x2="99.70" y2="156.50" stroke="#72a9e0" stroke-width="1.15"/><line x1="122.02" y1="135.23" x2="119.38" y2="132.77" stroke="#9a86d6" stroke-width="1"/><line x1="101.02" y1="157.73" x2="98.38" y2="155.27" stroke="#9a86d6" stroke-width="1"/><circle cx="56.50" cy="66.50" r="1.5" fill="#f07d1e"/><circle cx="78.20" cy="67.20" r="1.5" fill="#f07d1e"/><circle cx="57.20" cy="90.50" r="1.5" fill="#f07d1e"/><circle cx="77.50" cy="90.50" r="1.5" fill="#f07d1e"/><circle cx="98.50" cy="68.70" r="1.5" fill="#f07d1e"/><circle cx="105.70" cy="68.70" r="1.5" fill="#f07d1e"/><circle cx="100.50" cy="89.70" r="1.5" fill="#f07d1e"/><circle cx="126.00" cy="89.70" r="1.5" fill="#f07d1e"/><circle cx="55.70" cy="111.50" r="1.5" fill="#f07d1e"/><circle cx="77.50" cy="110.70" r="1.5" fill="#f07d1e"/><circle cx="55.70" cy="134.70" r="1.5" fill="#f07d1e"/><circle cx="78.20" cy="134.00" r="1.5" fill="#f07d1e"/><circle cx="57.20" cy="156.50" r="1.5" fill="#f07d1e"/><circle cx="126.00" cy="116.00" r="1.5" fill="#f07d1e"/><circle cx="103.50" cy="116.00" r="1.5" fill="#f07d1e"/><circle cx="99.70" cy="134.00" r="1.5" fill="#f07d1e"/><path d="M99.85,89.85 L104.15,94.15 M99.85,94.15 L104.15,89.85" stroke="#1e4fc4" stroke-width="1.2"/><line x1="100.95" y1="88.75" x2="98.75" y2="90.95" stroke="#9a86d6" stroke-width="0.9"/><line x1="103.05" y1="95.25" x2="105.25" y2="93.05" stroke="#9a86d6" stroke-width="0.9"/><line x1="98.75" y1="93.05" x2="100.95" y2="95.25" stroke="#9a86d6" stroke-width="0.9"/><line x1="105.25" y1="90.95" x2="103.05" y2="88.75" stroke="#9a86d6" stroke-width="0.9"/><path d="M126.05,89.85 L130.35,94.15 M126.05,94.15 L130.35,89.85" stroke="#1e4fc4" stroke-width="1.2"/><line x1="127.15" y1="88.75" x2="124.95" y2="90.95" stroke="#9a86d6" stroke-width="0.9"/><line x1="129.25" y1="95.25" x2="131.45" y2="93.05" stroke="#9a86d6" stroke-width="0.9"/><line x1="124.95" y1="93.05" x2="127.15" y2="95.25" stroke="#9a86d6" stroke-width="0.9"/><line x1="131.45" y1="90.95" x2="129.25" y2="88.75" stroke="#9a86d6" stroke-width="0.9"/><path d="M52.05,152.05 L56.35,156.35 M52.05,156.35 L56.35,152.05" stroke="#1e4fc4" stroke-width="1.2"/><line x1="53.15" y1="150.95" x2="50.95" y2="153.15" stroke="#9a86d6" stroke-width="0.9"/><line x1="55.25" y1="157.45" x2="57.45" y2="155.25" stroke="#9a86d6" stroke-width="0.9"/><line x1="50.95" y1="155.25" x2="53.15" y2="157.45" stroke="#9a86d6" stroke-width="0.9"/><line x1="57.45" y1="153.15" x2="55.25" y2="150.95" stroke="#9a86d6" stroke-width="0.9"/><path d="M99.85,111.55 L104.15,115.85 M99.85,115.85 L104.15,111.55" stroke="#1e4fc4" stroke-width="1.2"/><line x1="100.95" y1="110.45" x2="98.75" y2="112.65" stroke="#9a86d6" stroke-width="0.9"/><line x1="103.05" y1="116.95" x2="105.25" y2="114.75" stroke="#9a86d6" stroke-width="0.9"/><line x1="98.75" y1="114.75" x2="100.95" y2="116.95" stroke="#9a86d6" stroke-width="0.9"/><line x1="105.25" y1="112.65" x2="103.05" y2="110.45" stroke="#9a86d6" stroke-width="0.9"/></g>
<circle cx="185" cy="323.5" r="22" fill="url(#glow2)"/>
<g class="mini3" transform="translate(185 323.5) scale(0.3) translate(-413 -104)"><line x1="380.00" y1="62.00" x2="401.00" y2="80.00" stroke="#72a9e0" stroke-width="1.15"/><line x1="399.00" y1="61.00" x2="377.00" y2="82.00" stroke="#72a9e0" stroke-width="1.15"/><line x1="437.00" y1="53.00" x2="457.00" y2="76.00" stroke="#72a9e0" stroke-width="1.15"/><line x1="455.00" y1="53.00" x2="433.00" y2="77.00" stroke="#72a9e0" stroke-width="1.15"/><line x1="419.00" y1="93.00" x2="439.00" y2="113.00" stroke="#72a9e0" stroke-width="1.15"/><line x1="438.00" y1="93.00" x2="418.00" y2="113.00" stroke="#72a9e0" stroke-width="1.15"/><line x1="411.00" y1="123.00" x2="436.00" y2="148.00" stroke="#72a9e0" stroke-width="1.15"/><line x1="435.00" y1="123.00" x2="410.00" y2="148.00" stroke="#72a9e0" stroke-width="1.15"/><line x1="373.00" y1="122.00" x2="395.00" y2="145.00" stroke="#72a9e0" stroke-width="1.15"/><line x1="394.00" y1="122.00" x2="372.00" y2="145.00" stroke="#72a9e0" stroke-width="1.15"/><path d="M384.2,86.3L382.2,84.3M401.8,84.3L399.8,86.3M415.2,123.7L417.2,121.7M422.7,113.8L420.7,111.8M388.8,99.7L390.8,101.7M382.2,101.7L384.2,99.7M444.7,80.8L442.7,78.8M461.2,53.3L459.2,51.3M454.8,55.7L456.8,57.7M390.8,106.3L388.8,108.3M451.3,78.8L449.3,80.8M466.7,58.8L464.7,56.8M432.8,132.7L434.8,134.7M362.2,86.3L360.2,84.3M357.8,84.3L355.8,86.3M454.8,66.7L456.8,68.7M456.8,62.3L454.8,64.3M388.8,121.7L390.8,123.7M470.2,134.7L472.2,132.7M472.2,130.3L470.2,128.3M465.8,132.7L467.8,134.7M422.7,47.8L420.7,45.8M418.3,45.8L416.3,47.8M434.8,139.3L432.8,141.3M453.7,140.2L455.7,138.2M429.3,111.8L427.3,113.8M456.8,73.3L454.8,75.3M394.3,127.2L396.3,129.2M437.2,57.7L439.2,55.7M439.2,53.3L437.2,51.3M455.7,47.8L453.7,45.8M449.3,50.2L451.3,52.2M451.3,45.8L449.3,47.8M421.8,121.7L423.8,123.7M453.7,151.2L455.7,149.2M455.7,146.8L453.7,144.8M409.7,129.2L411.7,127.2M427.3,127.2L429.3,129.2M442.7,162.2L444.7,160.2M448.2,156.7L450.2,154.7M396.3,133.8L394.3,135.8M389.7,47.8L387.7,45.8M385.3,45.8L383.3,47.8M384.2,108.3L382.2,106.3M385.3,144.8L383.3,146.8M437.2,167.7L439.2,165.7M432.8,165.7L434.8,167.7M411.7,135.8L409.7,133.8M400.7,47.8L398.7,45.8M396.3,45.8L394.3,47.8M417.2,141.3L415.2,139.3M470.2,68.7L472.2,66.7M472.2,64.3L470.2,62.3M378.7,80.8L376.7,78.8M374.3,78.8L372.3,80.8M387.7,63.2L389.7,61.2M383.3,61.2L385.3,63.2M439.2,75.3L437.2,73.3M411.7,47.8L409.7,45.8M407.3,45.8L405.3,47.8M376.7,129.2L378.7,127.2M382.2,123.7L384.2,121.7M387.7,162.2L389.7,160.2M383.3,160.2L385.3,162.2M433.7,47.8L431.7,45.8M429.3,45.8L427.3,47.8M394.3,61.2L396.3,63.2M361.3,138.2L363.3,140.2M371.2,134.7L373.2,132.7M422.7,146.8L420.7,144.8M429.3,144.8L427.3,146.8M470.2,79.7L472.2,77.7M472.2,75.3L470.2,73.3M432.8,88.7L434.8,90.7M431.7,63.2L433.7,61.2M416.3,160.2L418.3,162.2M373.2,141.3L371.2,139.3M366.8,143.7L368.8,145.7M472.2,86.3L470.2,84.3M390.8,139.3L388.8,141.3M426.2,167.7L428.2,165.7M421.8,165.7L423.8,167.7M378.7,146.8L376.7,144.8M372.3,149.2L374.3,151.2M433.7,69.8L431.7,67.8M355.8,121.7L357.8,123.7M475.7,96.2L477.7,94.2M477.7,91.8L475.7,89.8M376.7,63.2L378.7,61.2M372.3,61.2L374.3,63.2M374.3,56.8L372.3,58.8M379.8,51.3L377.8,53.3M434.8,106.3L432.8,108.3M377.8,154.7L379.8,156.7M355.8,132.7L357.8,134.7M357.8,128.3L355.8,130.3M350.3,94.2L352.3,96.2M352.3,89.8L350.3,91.8M426.2,90.7L428.2,88.7M475.7,107.2L477.7,105.2M477.7,102.8L475.7,100.8M398.7,162.2L400.7,160.2M394.3,160.2L396.3,162.2M399.8,66.7L401.8,68.7M415.2,101.7L417.2,99.7M420.7,96.2L422.7,94.2M409.7,162.2L411.7,160.2M405.3,160.2L407.3,162.2M438.3,94.2L440.3,96.2M470.2,123.7L472.2,121.7M350.3,105.2L352.3,107.2M352.3,100.8L350.3,102.8M475.7,118.2L477.7,116.2M477.7,113.8L475.7,111.8M399.8,77.7L401.8,79.7M401.8,73.3L399.8,75.3M417.2,108.3L415.2,106.3M368.8,84.3L366.8,86.3M440.3,100.8L438.3,102.8M395.2,86.3L393.2,84.3M390.8,84.3L388.8,86.3M459.2,134.7L461.2,132.7M350.3,116.2L352.3,118.2M352.3,111.8L350.3,113.8" stroke="#9a86d6" stroke-width="0.9" opacity="0.9"/><path d="M382.6,89.2L384.9,91.3M388.1,94.7L390.4,96.8M388.1,91.3L390.4,89.2M404.6,89.2L406.9,91.3M404.6,85.8L406.9,83.7M454.1,105.7L456.4,107.8M454.1,102.3L456.4,100.2M415.6,118.8L417.9,116.7M421.1,116.7L423.4,118.8M371.6,100.2L373.9,102.3M371.6,96.8L373.9,94.7M443.1,116.7L445.4,118.8M443.1,113.3L445.4,111.2M393.6,100.2L395.9,102.3M393.6,96.8L395.9,94.7M399.1,94.7L401.4,96.8M399.1,91.3L401.4,89.2M382.6,96.8L384.9,94.7M454.1,116.7L456.4,118.8M454.1,113.3L456.4,111.2M404.6,100.2L406.9,102.3M404.6,96.8L406.9,94.7M410.1,94.7L412.4,96.8M410.1,91.3L412.4,89.2M421.1,83.7L423.4,85.8M421.1,80.3L423.4,78.2M371.6,111.2L373.9,113.3M371.6,107.8L373.9,105.7M443.1,83.7L445.4,85.8M459.6,56.1L461.9,58.4M443.1,127.7L445.4,129.8M443.1,124.3L445.4,122.2M393.6,111.2L395.9,113.3M393.6,107.8L395.9,105.7M448.6,122.2L450.9,124.3M448.6,118.8L450.9,116.7M399.1,105.7L401.4,107.8M399.1,102.3L401.4,100.2M454.1,83.7L456.4,85.8M454.1,80.3L456.4,78.2M465.1,61.6L467.4,63.9M437.6,133.2L439.9,135.3M437.6,129.8L439.9,127.7M388.1,116.7L390.4,118.8M388.1,113.3L390.4,111.2M404.6,111.2L406.9,113.3M404.6,107.8L406.9,105.7M454.1,127.7L456.4,129.8M454.1,124.3L456.4,122.2M410.1,105.7L412.4,107.8M410.1,102.3L412.4,100.2M360.6,89.2L362.9,91.3M459.6,67.2L461.9,69.3M459.6,63.9L461.9,61.6M443.1,138.7L445.4,140.8M443.1,135.3L445.4,133.2M393.6,122.2L395.9,124.3M393.6,118.8L395.9,116.7M448.6,133.2L450.9,135.3M448.6,129.8L450.9,127.7M399.1,116.7L401.4,118.8M399.1,113.3L401.4,111.2M377.1,94.7L379.4,96.8M377.1,91.3L379.4,89.2M465.1,72.7L467.4,74.8M465.1,69.3L467.4,67.2M415.6,56.1L417.9,58.4M415.6,52.9L417.9,50.6M421.1,50.6L423.4,52.9M437.6,144.2L439.9,146.3M437.6,140.8L439.9,138.7M454.1,135.3L456.4,133.2M410.1,116.7L412.4,118.8M410.1,113.3L412.4,111.2M360.6,100.2L362.9,102.3M360.6,96.8L362.9,94.7M366.1,105.7L368.4,107.8M366.1,102.3L368.4,100.2M432.1,116.7L434.4,118.8M432.1,113.3L434.4,111.2M459.6,78.2L461.9,80.3M459.6,74.8L461.9,72.7M443.1,149.7L445.4,151.8M443.1,146.3L445.4,144.2M448.6,144.2L450.9,146.3M448.6,140.8L450.9,138.7M399.1,127.7L401.4,129.8M399.1,124.3L401.4,122.2M454.1,50.6L456.4,52.9M426.6,122.2L428.9,124.3M426.6,118.8L428.9,116.7M377.1,105.7L379.4,107.8M377.1,102.3L379.4,100.2M410.1,83.7L412.4,85.8M410.1,80.3L412.4,78.2M421.1,61.6L423.4,63.9M421.1,58.4L423.4,56.1M437.6,155.2L439.9,157.3M437.6,151.8L439.9,149.7M410.1,124.3L412.4,122.2M432.1,83.7L434.4,85.8M432.1,80.3L434.4,78.2M366.1,116.7L368.4,118.8M366.1,113.3L368.4,111.2M432.1,127.7L434.4,129.8M432.1,124.3L434.4,122.2M459.6,89.2L461.9,91.3M459.6,85.8L461.9,83.7M443.1,157.3L445.4,155.2M448.6,151.8L450.9,149.7M399.1,138.7L401.4,140.8M399.1,135.3L401.4,133.2M388.1,50.6L390.4,52.9M377.1,116.7L379.4,118.8M377.1,113.3L379.4,111.2M382.6,111.2L384.9,113.3M421.1,72.7L423.4,74.8M421.1,69.3L423.4,67.2M388.1,149.7L390.4,151.8M388.1,146.3L390.4,144.2M437.6,162.8L439.9,160.7M410.1,138.7L412.4,140.8M393.6,56.1L395.9,58.4M393.6,52.9L395.9,50.6M399.1,50.6L401.4,52.9M366.1,127.7L368.4,129.8M366.1,124.3L368.4,122.2M415.6,144.2L417.9,146.3M371.6,122.2L373.9,124.3M371.6,118.8L373.9,116.7M459.6,100.2L461.9,102.3M459.6,96.8L461.9,94.7M399.1,149.7L401.4,151.8M399.1,146.3L401.4,144.2M377.1,83.7L379.4,85.8M388.1,58.4L390.4,56.1M437.6,78.2L439.9,80.3M410.1,50.6L412.4,52.9M377.1,124.3L379.4,122.2M382.6,118.8L384.9,116.7M388.1,157.3L390.4,155.2M432.1,50.6L434.4,52.9M404.6,122.2L406.9,124.3M404.6,118.8L406.9,116.7M399.1,61.6L401.4,63.9M399.1,58.4L401.4,56.1M366.1,138.7L368.4,140.8M366.1,135.3L368.4,133.2M415.6,155.2L417.9,157.3M415.6,151.8L417.9,149.7M371.6,129.8L373.9,127.7M421.1,149.7L423.4,151.8M432.1,149.7L434.4,151.8M432.1,146.3L434.4,144.2M459.6,111.2L461.9,113.3M459.6,107.8L461.9,105.7M426.6,56.1L428.9,58.4M426.6,52.9L428.9,50.6M437.6,89.2L439.9,91.3M437.6,85.8L439.9,83.7M410.1,61.6L412.4,63.9M410.1,58.4L412.4,56.1M426.6,155.2L428.9,157.3M426.6,151.8L428.9,149.7M415.6,67.2L417.9,69.3M415.6,63.9L417.9,61.6M432.1,58.4L434.4,56.1M404.6,133.2L406.9,135.3M404.6,129.8L406.9,127.7M360.6,111.2L362.9,113.3M360.6,107.8L362.9,105.7M448.6,89.2L450.9,91.3M448.6,85.8L450.9,83.7M421.1,160.7L423.4,162.8M421.1,157.3L423.4,155.2M371.6,144.2L373.9,146.3M470.6,89.2L472.9,91.3M426.6,67.2L428.9,69.3M426.6,63.9L428.9,61.6M393.6,144.2L395.9,146.3M393.6,140.8L395.9,138.7M426.6,162.8L428.9,160.7M377.1,149.7L379.4,151.8M465.1,94.7L467.4,96.8M465.1,91.3L467.4,89.2M415.6,78.2L417.9,80.3M415.6,74.8L417.9,72.7M432.1,72.7L434.4,74.8M404.6,144.2L406.9,146.3M404.6,140.8L406.9,138.7M360.6,122.2L362.9,124.3M360.6,118.8L362.9,116.7M448.6,100.2L450.9,102.3M448.6,96.8L450.9,94.7M470.6,100.2L472.9,102.3M470.6,96.8L472.9,94.7M426.6,78.2L428.9,80.3M426.6,74.8L428.9,72.7M377.1,58.4L379.4,56.1M393.6,155.2L395.9,157.3M393.6,151.8L395.9,149.7M382.6,56.1L384.9,58.4M382.6,52.9L384.9,50.6M437.6,111.2L439.9,113.3M437.6,107.8L439.9,105.7M382.6,155.2L384.9,157.3M382.6,151.8L384.9,149.7M404.6,56.1L406.9,58.4M404.6,52.9L406.9,50.6M465.1,105.7L467.4,107.8M465.1,102.3L467.4,100.2M415.6,89.2L417.9,91.3M415.6,85.8L417.9,83.7M404.6,155.2L406.9,157.3M404.6,151.8L406.9,149.7M410.1,149.7L412.4,151.8M410.1,146.3L412.4,144.2M360.6,133.2L362.9,135.3M360.6,129.8L362.9,127.7M448.6,111.2L450.9,113.3M448.6,107.8L450.9,105.7M470.6,111.2L472.9,113.3M470.6,107.8L472.9,105.7M355.1,94.7L357.4,96.8M355.1,91.3L357.4,89.2M426.6,85.8L428.9,83.7M399.1,157.3L401.4,155.2M437.6,122.2L439.9,124.3M437.6,118.8L439.9,116.7M404.6,67.2L406.9,69.3M404.6,63.9L406.9,61.6M465.1,116.7L467.4,118.8M465.1,113.3L467.4,111.2M415.6,96.8L417.9,94.7M421.1,91.3L423.4,89.2M410.1,157.3L412.4,155.2M443.1,94.7L445.4,96.8M443.1,91.3L445.4,89.2M432.1,160.7L434.4,162.8M432.1,157.3L434.4,155.2M470.6,118.8L472.9,116.7M459.6,122.2L461.9,124.3M459.6,118.8L461.9,116.7M355.1,105.7L357.4,107.8M355.1,102.3L357.4,100.2M454.1,94.7L456.4,96.8M454.1,91.3L456.4,89.2M404.6,78.2L406.9,80.3M404.6,74.8L406.9,72.7M465.1,83.7L467.4,85.8M465.1,80.3L467.4,78.2M410.1,72.7L412.4,74.8M410.1,69.3L412.4,67.2M465.1,127.7L467.4,129.8M465.1,124.3L467.4,122.2M415.6,111.2L417.9,113.3M366.1,94.7L368.4,96.8M366.1,91.3L368.4,89.2M371.6,89.2L373.9,91.3M371.6,85.8L373.9,83.7M443.1,105.7L445.4,107.8M443.1,102.3L445.4,100.2M393.6,89.2L395.9,91.3M459.6,129.8L461.9,127.7M355.1,116.7L357.4,118.8M355.1,113.3L357.4,111.2" stroke="#f07d1e" stroke-width="1.5"/><path d="M378.8,85.3L383.2,89.7M378.8,89.7L383.2,85.3M384.3,90.8L388.7,95.2M384.3,95.2L388.7,90.8M400.8,85.3L405.2,89.7M400.8,89.7L405.2,85.3M450.3,101.8L454.7,106.2M450.3,106.2L454.7,101.8M411.8,118.3L416.2,122.7M411.8,122.7L416.2,118.3M417.3,112.8L421.7,117.2M417.3,117.2L421.7,112.8M367.8,96.3L372.2,100.7M367.8,100.7L372.2,96.3M439.3,112.8L443.7,117.2M439.3,117.2L443.7,112.8M389.8,96.3L394.2,100.7M389.8,100.7L394.2,96.3M395.3,90.8L399.7,95.2M395.3,95.2L399.7,90.8M378.8,96.3L383.2,100.7M378.8,100.7L383.2,96.3M450.3,112.8L454.7,117.2M450.3,117.2L454.7,112.8M400.8,96.3L405.2,100.7M400.8,100.7L405.2,96.3M406.3,90.8L410.7,95.2M406.3,95.2L410.7,90.8M417.3,79.8L421.7,84.2M417.3,84.2L421.7,79.8M367.8,107.3L372.2,111.7M367.8,111.7L372.2,107.3M439.3,79.8L443.7,84.2M439.3,84.2L443.7,79.8M455.8,52.3L460.2,56.7M455.8,56.7L460.2,52.3M439.3,123.8L443.7,128.2M439.3,128.2L443.7,123.8M389.8,107.3L394.2,111.7M389.8,111.7L394.2,107.3M444.8,118.3L449.2,122.7M444.8,122.7L449.2,118.3M395.3,101.8L399.7,106.2M395.3,106.2L399.7,101.8M450.3,79.8L454.7,84.2M450.3,84.2L454.7,79.8M461.3,57.8L465.7,62.2M461.3,62.2L465.7,57.8M433.8,129.3L438.2,133.7M433.8,133.7L438.2,129.3M384.3,112.8L388.7,117.2M384.3,117.2L388.7,112.8M400.8,107.3L405.2,111.7M400.8,111.7L405.2,107.3M450.3,123.8L454.7,128.2M450.3,128.2L454.7,123.8M406.3,101.8L410.7,106.2M406.3,106.2L410.7,101.8M356.8,85.3L361.2,89.7M356.8,89.7L361.2,85.3M455.8,63.3L460.2,67.7M455.8,67.7L460.2,63.3M439.3,134.8L443.7,139.2M439.3,139.2L443.7,134.8M389.8,118.3L394.2,122.7M389.8,122.7L394.2,118.3M444.8,129.3L449.2,133.7M444.8,133.7L449.2,129.3M395.3,112.8L399.7,117.2M395.3,117.2L399.7,112.8M466.8,129.3L471.2,133.7M466.8,133.7L471.2,129.3M373.3,90.8L377.7,95.2M373.3,95.2L377.7,90.8M461.3,68.8L465.7,73.2M461.3,73.2L465.7,68.8M411.8,52.3L416.2,56.7M411.8,56.7L416.2,52.3M417.3,46.8L421.7,51.2M417.3,51.2L421.7,46.8M433.8,140.3L438.2,144.7M433.8,144.7L438.2,140.3M450.3,134.8L454.7,139.2M450.3,139.2L454.7,134.8M406.3,112.8L410.7,117.2M406.3,117.2L410.7,112.8M356.8,96.3L361.2,100.7M356.8,100.7L361.2,96.3M362.3,101.8L366.7,106.2M362.3,106.2L366.7,101.8M428.3,112.8L432.7,117.2M428.3,117.2L432.7,112.8M455.8,74.3L460.2,78.7M455.8,78.7L460.2,74.3M439.3,145.8L443.7,150.2M439.3,150.2L443.7,145.8M444.8,140.3L449.2,144.7M444.8,144.7L449.2,140.3M395.3,123.8L399.7,128.2M395.3,128.2L399.7,123.8M433.8,52.3L438.2,56.7M433.8,56.7L438.2,52.3M450.3,46.8L454.7,51.2M450.3,51.2L454.7,46.8M422.8,118.3L427.2,122.7M422.8,122.7L427.2,118.3M373.3,101.8L377.7,106.2M373.3,106.2L377.7,101.8M406.3,79.8L410.7,84.2M406.3,84.2L410.7,79.8M417.3,57.8L421.7,62.2M417.3,62.2L421.7,57.8M433.8,151.3L438.2,155.7M433.8,155.7L438.2,151.3M450.3,145.8L454.7,150.2M450.3,150.2L454.7,145.8M406.3,123.8L410.7,128.2M406.3,128.2L410.7,123.8M428.3,79.8L432.7,84.2M428.3,84.2L432.7,79.8M362.3,112.8L366.7,117.2M362.3,117.2L366.7,112.8M428.3,123.8L432.7,128.2M428.3,128.2L432.7,123.8M455.8,85.3L460.2,89.7M455.8,89.7L460.2,85.3M439.3,156.8L443.7,161.2M439.3,161.2L443.7,156.8M444.8,151.3L449.2,155.7M444.8,155.7L449.2,151.3M395.3,134.8L399.7,139.2M395.3,139.2L399.7,134.8M384.3,46.8L388.7,51.2M384.3,51.2L388.7,46.8M373.3,112.8L377.7,117.2M373.3,117.2L377.7,112.8M378.8,107.3L383.2,111.7M378.8,111.7L383.2,107.3M417.3,68.8L421.7,73.2M417.3,73.2L421.7,68.8M384.3,145.8L388.7,150.2M384.3,150.2L388.7,145.8M433.8,162.3L438.2,166.7M433.8,166.7L438.2,162.3M406.3,134.8L410.7,139.2M406.3,139.2L410.7,134.8M389.8,52.3L394.2,56.7M389.8,56.7L394.2,52.3M395.3,46.8L399.7,51.2M395.3,51.2L399.7,46.8M362.3,123.8L366.7,128.2M362.3,128.2L366.7,123.8M411.8,140.3L416.2,144.7M411.8,144.7L416.2,140.3M367.8,118.3L372.2,122.7M367.8,122.7L372.2,118.3M455.8,96.3L460.2,100.7M455.8,100.7L460.2,96.3M395.3,145.8L399.7,150.2M395.3,150.2L399.7,145.8M466.8,63.3L471.2,67.7M466.8,67.7L471.2,63.3M373.3,79.8L377.7,84.2M373.3,84.2L377.7,79.8M384.3,57.8L388.7,62.2M384.3,62.2L388.7,57.8M433.8,74.3L438.2,78.7M433.8,78.7L438.2,74.3M406.3,46.8L410.7,51.2M406.3,51.2L410.7,46.8M373.3,123.8L377.7,128.2M373.3,128.2L377.7,123.8M378.8,118.3L383.2,122.7M378.8,122.7L383.2,118.3M384.3,156.8L388.7,161.2M384.3,161.2L388.7,156.8M428.3,46.8L432.7,51.2M428.3,51.2L432.7,46.8M400.8,118.3L405.2,122.7M400.8,122.7L405.2,118.3M395.3,57.8L399.7,62.2M395.3,62.2L399.7,57.8M362.3,134.8L366.7,139.2M362.3,139.2L366.7,134.8M411.8,151.3L416.2,155.7M411.8,155.7L416.2,151.3M367.8,129.3L372.2,133.7M367.8,133.7L372.2,129.3M417.3,145.8L421.7,150.2M417.3,150.2L421.7,145.8M428.3,145.8L432.7,150.2M428.3,150.2L432.7,145.8M455.8,107.3L460.2,111.7M455.8,111.7L460.2,107.3M466.8,74.3L471.2,78.7M466.8,78.7L471.2,74.3M422.8,52.3L427.2,56.7M422.8,56.7L427.2,52.3M433.8,85.3L438.2,89.7M433.8,89.7L438.2,85.3M406.3,57.8L410.7,62.2M406.3,62.2L410.7,57.8M422.8,151.3L427.2,155.7M422.8,155.7L427.2,151.3M411.8,63.3L416.2,67.7M411.8,67.7L416.2,63.3M428.3,57.8L432.7,62.2M428.3,62.2L432.7,57.8M400.8,129.3L405.2,133.7M400.8,133.7L405.2,129.3M356.8,107.3L361.2,111.7M356.8,111.7L361.2,107.3M444.8,85.3L449.2,89.7M444.8,89.7L449.2,85.3M417.3,156.8L421.7,161.2M417.3,161.2L421.7,156.8M367.8,140.3L372.2,144.7M367.8,144.7L372.2,140.3M466.8,85.3L471.2,89.7M466.8,89.7L471.2,85.3M422.8,63.3L427.2,67.7M422.8,67.7L427.2,63.3M389.8,140.3L394.2,144.7M389.8,144.7L394.2,140.3M422.8,162.3L427.2,166.7M422.8,166.7L427.2,162.3M373.3,145.8L377.7,150.2M373.3,150.2L377.7,145.8M461.3,90.8L465.7,95.2M461.3,95.2L465.7,90.8M411.8,74.3L416.2,78.7M411.8,78.7L416.2,74.3M428.3,68.8L432.7,73.2M428.3,73.2L432.7,68.8M400.8,140.3L405.2,144.7M400.8,144.7L405.2,140.3M356.8,118.3L361.2,122.7M356.8,122.7L361.2,118.3M444.8,96.3L449.2,100.7M444.8,100.7L449.2,96.3M466.8,96.3L471.2,100.7M466.8,100.7L471.2,96.3M472.3,90.8L476.7,95.2M472.3,95.2L476.7,90.8M422.8,74.3L427.2,78.7M422.8,78.7L427.2,74.3M373.3,57.8L377.7,62.2M373.3,62.2L377.7,57.8M389.8,151.3L394.2,155.7M389.8,155.7L394.2,151.3M378.8,52.3L383.2,56.7M378.8,56.7L383.2,52.3M433.8,107.3L438.2,111.7M433.8,111.7L438.2,107.3M378.8,151.3L383.2,155.7M378.8,155.7L383.2,151.3M400.8,52.3L405.2,56.7M400.8,56.7L405.2,52.3M461.3,101.8L465.7,106.2M461.3,106.2L465.7,101.8M411.8,85.3L416.2,89.7M411.8,89.7L416.2,85.3M400.8,151.3L405.2,155.7M400.8,155.7L405.2,151.3M406.3,145.8L410.7,150.2M406.3,150.2L410.7,145.8M356.8,129.3L361.2,133.7M356.8,133.7L361.2,129.3M444.8,107.3L449.2,111.7M444.8,111.7L449.2,107.3M466.8,107.3L471.2,111.7M466.8,111.7L471.2,107.3M351.3,90.8L355.7,95.2M351.3,95.2L355.7,90.8M422.8,85.3L427.2,89.7M422.8,89.7L427.2,85.3M472.3,101.8L476.7,106.2M472.3,106.2L476.7,101.8M395.3,156.8L399.7,161.2M395.3,161.2L399.7,156.8M433.8,118.3L438.2,122.7M433.8,122.7L438.2,118.3M400.8,63.3L405.2,67.7M400.8,67.7L405.2,63.3M461.3,112.8L465.7,117.2M461.3,117.2L465.7,112.8M411.8,96.3L416.2,100.7M411.8,100.7L416.2,96.3M417.3,90.8L421.7,95.2M417.3,95.2L421.7,90.8M406.3,156.8L410.7,161.2M406.3,161.2L410.7,156.8M439.3,90.8L443.7,95.2M439.3,95.2L443.7,90.8M428.3,156.8L432.7,161.2M428.3,161.2L432.7,156.8M466.8,118.3L471.2,122.7M466.8,122.7L471.2,118.3M455.8,118.3L460.2,122.7M455.8,122.7L460.2,118.3M351.3,101.8L355.7,106.2M351.3,106.2L355.7,101.8M472.3,112.8L476.7,117.2M472.3,117.2L476.7,112.8M450.3,90.8L454.7,95.2M450.3,95.2L454.7,90.8M400.8,74.3L405.2,78.7M400.8,78.7L405.2,74.3M461.3,79.8L465.7,84.2M461.3,84.2L465.7,79.8M406.3,68.8L410.7,73.2M406.3,73.2L410.7,68.8M461.3,123.8L465.7,128.2M461.3,128.2L465.7,123.8M411.8,107.3L416.2,111.7M411.8,111.7L416.2,107.3M362.3,90.8L366.7,95.2M362.3,95.2L366.7,90.8M367.8,85.3L372.2,89.7M367.8,89.7L372.2,85.3M439.3,101.8L443.7,106.2M439.3,106.2L443.7,101.8M389.8,85.3L394.2,89.7M389.8,89.7L394.2,85.3M455.8,129.3L460.2,133.7M455.8,133.7L460.2,129.3M351.3,112.8L355.7,117.2M351.3,117.2L355.7,112.8" stroke="#2d56c8" stroke-width="1.1"/></g>
<path d="M52.70,218.50 C55.75,222.16 64.89,233.39 70.98,240.46 C77.07,247.53 83.17,256.64 89.26,260.93 C95.35,265.22 101.45,265.17 107.54,266.22 C113.63,267.27 119.73,265.19 125.82,267.22 C131.91,269.25 138.01,274.96 144.10,278.41 C150.19,281.85 156.29,286.06 162.38,287.89 C168.47,289.72 174.57,288.01 180.66,289.39 C186.75,290.77 192.85,294.05 198.94,296.18 C205.03,298.31 211.13,301.00 217.22,302.17 C223.31,303.33 232.45,303.00 235.50,303.17" fill="none" stroke="#111" stroke-width="1.3"/>
<circle cx="52.70" cy="218.50" r="1.8" fill="#e07b1c" stroke="#222" stroke-width="0.6"/>
<circle cx="70.98" cy="240.46" r="1.8" fill="#e07b1c" stroke="#222" stroke-width="0.6"/>
<circle cx="89.26" cy="260.93" r="1.8" fill="#e07b1c" stroke="#222" stroke-width="0.6"/>
<circle cx="107.54" cy="266.22" r="1.8" fill="#111" stroke="#222" stroke-width="0.6"/>
<circle cx="125.82" cy="267.22" r="1.8" fill="#e07b1c" stroke="#222" stroke-width="0.6"/>
<circle cx="144.10" cy="278.41" r="1.8" fill="#e07b1c" stroke="#222" stroke-width="0.6"/>
<circle cx="162.38" cy="287.89" r="1.8" fill="#111" stroke="#222" stroke-width="0.6"/>
<circle cx="180.66" cy="289.39" r="1.8" fill="#111" stroke="#222" stroke-width="0.6"/>
<circle cx="198.94" cy="296.18" r="1.8" fill="#111" stroke="#222" stroke-width="0.6"/>
<circle cx="217.22" cy="302.17" r="1.8" fill="#e07b1c" stroke="#222" stroke-width="0.6"/>
<circle cx="235.50" cy="303.17" r="1.8" fill="#e07b1c" stroke="#222" stroke-width="0.6"/>
</g>
<text x="258.2" y="207.9" font-size="12" fill="#000" text-anchor="middle" dominant-baseline="central" >(c)</text>
<line x1="291.30" y1="205.60" x2="467.50" y2="205.60" stroke="#1a1a1a" stroke-width="1.4" />
<line x1="291.30" y1="347.50" x2="467.50" y2="347.50" stroke="#1a1a1a" stroke-width="1.4" />
<line x1="291.30" y1="205.60" x2="291.30" y2="347.50" stroke="#1f9a2a" stroke-width="1.4" />
<line x1="467.50" y1="205.60" x2="467.50" y2="347.50" stroke="#ec1c24" stroke-width="1.4" />
<line x1="288.70" y1="347.50" x2="291.30" y2="347.50" stroke="#1f9a2a" stroke-width="1.1" />
<text x="288.5" y="347.5" font-size="6.6" fill="#1f9a2a" text-anchor="end" dominant-baseline="central" >0.0</text>
<line x1="289.90" y1="341.84" x2="291.30" y2="341.84" stroke="#1f9a2a" stroke-width="0.8" />
<line x1="289.90" y1="336.18" x2="291.30" y2="336.18" stroke="#1f9a2a" stroke-width="0.8" />
<line x1="289.90" y1="330.52" x2="291.30" y2="330.52" stroke="#1f9a2a" stroke-width="0.8" />
<line x1="289.90" y1="324.86" x2="291.30" y2="324.86" stroke="#1f9a2a" stroke-width="0.8" />
<line x1="288.70" y1="319.20" x2="291.30" y2="319.20" stroke="#1f9a2a" stroke-width="1.1" />
<text x="288.5" y="319.2" font-size="6.6" fill="#1f9a2a" text-anchor="end" dominant-baseline="central" >0.5</text>
<line x1="289.90" y1="313.54" x2="291.30" y2="313.54" stroke="#1f9a2a" stroke-width="0.8" />
<line x1="289.90" y1="307.88" x2="291.30" y2="307.88" stroke="#1f9a2a" stroke-width="0.8" />
<line x1="289.90" y1="302.22" x2="291.30" y2="302.22" stroke="#1f9a2a" stroke-width="0.8" />
<line x1="289.90" y1="296.56" x2="291.30" y2="296.56" stroke="#1f9a2a" stroke-width="0.8" />
<line x1="288.70" y1="290.90" x2="291.30" y2="290.90" stroke="#1f9a2a" stroke-width="1.1" />
<text x="288.5" y="290.9" font-size="6.6" fill="#1f9a2a" text-anchor="end" dominant-baseline="central" >1.0</text>
<line x1="289.90" y1="285.24" x2="291.30" y2="285.24" stroke="#1f9a2a" stroke-width="0.8" />
<line x1="289.90" y1="279.58" x2="291.30" y2="279.58" stroke="#1f9a2a" stroke-width="0.8" />
<line x1="289.90" y1="273.92" x2="291.30" y2="273.92" stroke="#1f9a2a" stroke-width="0.8" />
<line x1="289.90" y1="268.26" x2="291.30" y2="268.26" stroke="#1f9a2a" stroke-width="0.8" />
<line x1="288.70" y1="262.60" x2="291.30" y2="262.60" stroke="#1f9a2a" stroke-width="1.1" />
<text x="288.5" y="262.6" font-size="6.6" fill="#1f9a2a" text-anchor="end" dominant-baseline="central" >1.5</text>
<line x1="289.90" y1="256.94" x2="291.30" y2="256.94" stroke="#1f9a2a" stroke-width="0.8" />
<line x1="289.90" y1="251.28" x2="291.30" y2="251.28" stroke="#1f9a2a" stroke-width="0.8" />
<line x1="289.90" y1="245.62" x2="291.30" y2="245.62" stroke="#1f9a2a" stroke-width="0.8" />
<line x1="289.90" y1="239.96" x2="291.30" y2="239.96" stroke="#1f9a2a" stroke-width="0.8" />
<line x1="288.70" y1="234.30" x2="291.30" y2="234.30" stroke="#1f9a2a" stroke-width="1.1" />
<text x="288.5" y="234.3" font-size="6.6" fill="#1f9a2a" text-anchor="end" dominant-baseline="central" >2.0</text>
<line x1="289.90" y1="228.64" x2="291.30" y2="228.64" stroke="#1f9a2a" stroke-width="0.8" />
<line x1="289.90" y1="222.98" x2="291.30" y2="222.98" stroke="#1f9a2a" stroke-width="0.8" />
<line x1="289.90" y1="217.32" x2="291.30" y2="217.32" stroke="#1f9a2a" stroke-width="0.8" />
<line x1="289.90" y1="211.66" x2="291.30" y2="211.66" stroke="#1f9a2a" stroke-width="0.8" />
<line x1="288.70" y1="206.00" x2="291.30" y2="206.00" stroke="#1f9a2a" stroke-width="1.1" />
<text x="288.5" y="206" font-size="6.6" fill="#1f9a2a" text-anchor="end" dominant-baseline="central" >2.5</text>
<line x1="467.50" y1="347.50" x2="470.10" y2="347.50" stroke="#ec1c24" stroke-width="1.1" />
<text x="471.4" y="347.5" font-size="6.3" fill="#ec1c24" text-anchor="start" dominant-baseline="central" >0</text>
<line x1="467.50" y1="339.64" x2="469.00" y2="339.64" stroke="#ec1c24" stroke-width="0.8" />
<line x1="467.50" y1="331.78" x2="470.10" y2="331.78" stroke="#ec1c24" stroke-width="1.1" />
<text x="471.4" y="331.78" font-size="6.3" fill="#ec1c24" text-anchor="start" dominant-baseline="central" >200</text>
<line x1="467.50" y1="323.92" x2="469.00" y2="323.92" stroke="#ec1c24" stroke-width="0.8" />
<line x1="467.50" y1="316.06" x2="470.10" y2="316.06" stroke="#ec1c24" stroke-width="1.1" />
<text x="471.4" y="316.06" font-size="6.3" fill="#ec1c24" text-anchor="start" dominant-baseline="central" >400</text>
<line x1="467.50" y1="308.20" x2="469.00" y2="308.20" stroke="#ec1c24" stroke-width="0.8" />
<line x1="467.50" y1="300.34" x2="470.10" y2="300.34" stroke="#ec1c24" stroke-width="1.1" />
<text x="471.4" y="300.34" font-size="6.3" fill="#ec1c24" text-anchor="start" dominant-baseline="central" >600</text>
<line x1="467.50" y1="292.48" x2="469.00" y2="292.48" stroke="#ec1c24" stroke-width="0.8" />
<line x1="467.50" y1="284.62" x2="470.10" y2="284.62" stroke="#ec1c24" stroke-width="1.1" />
<text x="471.4" y="284.62" font-size="6.3" fill="#ec1c24" text-anchor="start" dominant-baseline="central" >800</text>
<line x1="467.50" y1="276.76" x2="469.00" y2="276.76" stroke="#ec1c24" stroke-width="0.8" />
<line x1="467.50" y1="268.90" x2="470.10" y2="268.90" stroke="#ec1c24" stroke-width="1.1" />
<text x="471.4" y="268.9" font-size="6.3" fill="#ec1c24" text-anchor="start" dominant-baseline="central" >1000</text>
<line x1="467.50" y1="261.04" x2="469.00" y2="261.04" stroke="#ec1c24" stroke-width="0.8" />
<line x1="467.50" y1="253.18" x2="470.10" y2="253.18" stroke="#ec1c24" stroke-width="1.1" />
<text x="471.4" y="253.18" font-size="6.3" fill="#ec1c24" text-anchor="start" dominant-baseline="central" >1200</text>
<line x1="467.50" y1="245.32" x2="469.00" y2="245.32" stroke="#ec1c24" stroke-width="0.8" />
<line x1="467.50" y1="237.46" x2="470.10" y2="237.46" stroke="#ec1c24" stroke-width="1.1" />
<text x="471.4" y="237.46" font-size="6.3" fill="#ec1c24" text-anchor="start" dominant-baseline="central" >1400</text>
<line x1="467.50" y1="229.60" x2="469.00" y2="229.60" stroke="#ec1c24" stroke-width="0.8" />
<line x1="467.50" y1="221.74" x2="470.10" y2="221.74" stroke="#ec1c24" stroke-width="1.1" />
<text x="471.4" y="221.74" font-size="6.3" fill="#ec1c24" text-anchor="start" dominant-baseline="central" >1600</text>
<line x1="467.50" y1="213.88" x2="469.00" y2="213.88" stroke="#ec1c24" stroke-width="0.8" />
<line x1="467.50" y1="206.02" x2="470.10" y2="206.02" stroke="#ec1c24" stroke-width="1.1" />
<text x="471.4" y="206.02" font-size="6.3" fill="#ec1c24" text-anchor="start" dominant-baseline="central" >1800</text>
<line x1="296.00" y1="347.50" x2="296.00" y2="349.90" stroke="#1a1a1a" stroke-width="1.1" />
<text x="296" y="353.6" font-size="6.5" fill="#000" text-anchor="middle" dominant-baseline="central" >0</text>
<line x1="312.62" y1="347.50" x2="312.62" y2="349.90" stroke="#1a1a1a" stroke-width="1.1" />
<text x="312.62" y="353.6" font-size="6.5" fill="#000" text-anchor="middle" dominant-baseline="central" >10</text>
<line x1="329.24" y1="347.50" x2="329.24" y2="349.90" stroke="#1a1a1a" stroke-width="1.1" />
<text x="329.24" y="353.6" font-size="6.5" fill="#000" text-anchor="middle" dominant-baseline="central" >20</text>
<line x1="345.86" y1="347.50" x2="345.86" y2="349.90" stroke="#1a1a1a" stroke-width="1.1" />
<text x="345.86" y="353.6" font-size="6.5" fill="#000" text-anchor="middle" dominant-baseline="central" >30</text>
<line x1="362.48" y1="347.50" x2="362.48" y2="349.90" stroke="#1a1a1a" stroke-width="1.1" />
<text x="362.48" y="353.6" font-size="6.5" fill="#000" text-anchor="middle" dominant-baseline="central" >40</text>
<line x1="379.10" y1="347.50" x2="379.10" y2="349.90" stroke="#1a1a1a" stroke-width="1.1" />
<text x="379.1" y="353.6" font-size="6.5" fill="#000" text-anchor="middle" dominant-baseline="central" >50</text>
<line x1="395.72" y1="347.50" x2="395.72" y2="349.90" stroke="#1a1a1a" stroke-width="1.1" />
<text x="395.72" y="353.6" font-size="6.5" fill="#000" text-anchor="middle" dominant-baseline="central" >60</text>
<line x1="412.34" y1="347.50" x2="412.34" y2="349.90" stroke="#1a1a1a" stroke-width="1.1" />
<text x="412.34" y="353.6" font-size="6.5" fill="#000" text-anchor="middle" dominant-baseline="central" >70</text>
<line x1="428.96" y1="347.50" x2="428.96" y2="349.90" stroke="#1a1a1a" stroke-width="1.1" />
<text x="428.96" y="353.6" font-size="6.5" fill="#000" text-anchor="middle" dominant-baseline="central" >80</text>
<line x1="445.58" y1="347.50" x2="445.58" y2="349.90" stroke="#1a1a1a" stroke-width="1.1" />
<text x="445.58" y="353.6" font-size="6.5" fill="#000" text-anchor="middle" dominant-baseline="central" >90</text>
<line x1="462.20" y1="347.50" x2="462.20" y2="349.90" stroke="#1a1a1a" stroke-width="1.1" />
<text x="462.2" y="353.6" font-size="6.5" fill="#000" text-anchor="middle" dominant-baseline="central" >100</text>
<text x="379.1" y="364.8" font-size="7.3" fill="#000" text-anchor="middle" dominant-baseline="central" >4b10PCL ratio (wt.%)</text>
<text x="270.8" y="276" font-size="8.6" fill="#1f9a2a" text-anchor="middle" dominant-baseline="central" transform="rotate(-90 270.8 276)" >Elastic modulus (MPa)</text>
<text x="492.2" y="277.4" font-size="7.55" fill="#ec1c24" text-anchor="middle" dominant-baseline="central" transform="rotate(90 492.2 277.4)" >Stretchability (%)</text>
<line x1="296.00" y1="316.94" x2="296.00" y2="312.41" stroke="#333" stroke-width="0.9" />
<line x1="294.00" y1="316.94" x2="298.00" y2="316.94" stroke="#333" stroke-width="0.9" />
<line x1="294.00" y1="312.41" x2="298.00" y2="312.41" stroke="#333" stroke-width="0.9" />
<line x1="312.62" y1="315.24" x2="312.62" y2="303.92" stroke="#333" stroke-width="0.9" />
<line x1="310.62" y1="315.24" x2="314.62" y2="315.24" stroke="#333" stroke-width="0.9" />
<line x1="310.62" y1="303.92" x2="314.62" y2="303.92" stroke="#333" stroke-width="0.9" />
<line x1="329.24" y1="308.45" x2="329.24" y2="305.05" stroke="#333" stroke-width="0.9" />
<line x1="327.24" y1="308.45" x2="331.24" y2="308.45" stroke="#333" stroke-width="0.9" />
<line x1="327.24" y1="305.05" x2="331.24" y2="305.05" stroke="#333" stroke-width="0.9" />
<line x1="345.86" y1="302.22" x2="345.86" y2="295.43" stroke="#333" stroke-width="0.9" />
<line x1="343.86" y1="302.22" x2="347.86" y2="302.22" stroke="#333" stroke-width="0.9" />
<line x1="343.86" y1="295.43" x2="347.86" y2="295.43" stroke="#333" stroke-width="0.9" />
<line x1="362.48" y1="299.96" x2="362.48" y2="296.56" stroke="#333" stroke-width="0.9" />
<line x1="360.48" y1="299.96" x2="364.48" y2="299.96" stroke="#333" stroke-width="0.9" />
<line x1="360.48" y1="296.56" x2="364.48" y2="296.56" stroke="#333" stroke-width="0.9" />
<line x1="379.10" y1="292.60" x2="379.10" y2="284.67" stroke="#333" stroke-width="0.9" />
<line x1="377.10" y1="292.60" x2="381.10" y2="292.60" stroke="#333" stroke-width="0.9" />
<line x1="377.10" y1="284.67" x2="381.10" y2="284.67" stroke="#333" stroke-width="0.9" />
<line x1="395.72" y1="277.88" x2="395.72" y2="274.49" stroke="#333" stroke-width="0.9" />
<line x1="393.72" y1="277.88" x2="397.72" y2="277.88" stroke="#333" stroke-width="0.9" />
<line x1="393.72" y1="274.49" x2="397.72" y2="274.49" stroke="#333" stroke-width="0.9" />
<line x1="412.34" y1="279.01" x2="412.34" y2="271.09" stroke="#333" stroke-width="0.9" />
<line x1="410.34" y1="279.01" x2="414.34" y2="279.01" stroke="#333" stroke-width="0.9" />
<line x1="410.34" y1="271.09" x2="414.34" y2="271.09" stroke="#333" stroke-width="0.9" />
<line x1="428.96" y1="256.94" x2="428.96" y2="251.28" stroke="#333" stroke-width="0.9" />
<line x1="426.96" y1="256.94" x2="430.96" y2="256.94" stroke="#333" stroke-width="0.9" />
<line x1="426.96" y1="251.28" x2="430.96" y2="251.28" stroke="#333" stroke-width="0.9" />
<line x1="445.58" y1="243.36" x2="445.58" y2="239.96" stroke="#333" stroke-width="0.9" />
<line x1="443.58" y1="243.36" x2="447.58" y2="243.36" stroke="#333" stroke-width="0.9" />
<line x1="443.58" y1="239.96" x2="447.58" y2="239.96" stroke="#333" stroke-width="0.9" />
<line x1="462.20" y1="233.73" x2="462.20" y2="228.07" stroke="#333" stroke-width="0.9" />
<line x1="460.20" y1="233.73" x2="464.20" y2="233.73" stroke="#333" stroke-width="0.9" />
<line x1="460.20" y1="228.07" x2="464.20" y2="228.07" stroke="#333" stroke-width="0.9" />
<line x1="296.00" y1="248.46" x2="296.00" y2="224.88" stroke="#333" stroke-width="0.9" />
<line x1="294.00" y1="248.46" x2="298.00" y2="248.46" stroke="#333" stroke-width="0.9" />
<line x1="294.00" y1="224.88" x2="298.00" y2="224.88" stroke="#333" stroke-width="0.9" />
<line x1="312.62" y1="275.58" x2="312.62" y2="255.93" stroke="#333" stroke-width="0.9" />
<line x1="310.62" y1="275.58" x2="314.62" y2="275.58" stroke="#333" stroke-width="0.9" />
<line x1="310.62" y1="255.93" x2="314.62" y2="255.93" stroke="#333" stroke-width="0.9" />
<line x1="329.24" y1="303.48" x2="329.24" y2="281.48" stroke="#333" stroke-width="0.9" />
<line x1="327.24" y1="303.48" x2="331.24" y2="303.48" stroke="#333" stroke-width="0.9" />
<line x1="327.24" y1="281.48" x2="331.24" y2="281.48" stroke="#333" stroke-width="0.9" />
<line x1="345.86" y1="309.38" x2="345.86" y2="294.44" stroke="#333" stroke-width="0.9" />
<line x1="343.86" y1="309.38" x2="347.86" y2="309.38" stroke="#333" stroke-width="0.9" />
<line x1="343.86" y1="294.44" x2="347.86" y2="294.44" stroke="#333" stroke-width="0.9" />
<line x1="362.48" y1="326.28" x2="362.48" y2="323.13" stroke="#333" stroke-width="0.9" />
<line x1="360.48" y1="326.28" x2="364.48" y2="326.28" stroke="#333" stroke-width="0.9" />
<line x1="360.48" y1="323.13" x2="364.48" y2="323.13" stroke="#333" stroke-width="0.9" />
<line x1="379.10" y1="337.28" x2="379.10" y2="334.14" stroke="#333" stroke-width="0.9" />
<line x1="377.10" y1="337.28" x2="381.10" y2="337.28" stroke="#333" stroke-width="0.9" />
<line x1="377.10" y1="334.14" x2="381.10" y2="334.14" stroke="#333" stroke-width="0.9" />
<line x1="395.72" y1="338.30" x2="395.72" y2="335.95" stroke="#333" stroke-width="0.9" />
<line x1="393.72" y1="338.30" x2="397.72" y2="338.30" stroke="#333" stroke-width="0.9" />
<line x1="393.72" y1="335.95" x2="397.72" y2="335.95" stroke="#333" stroke-width="0.9" />
<line x1="412.34" y1="340.82" x2="412.34" y2="338.46" stroke="#333" stroke-width="0.9" />
<line x1="410.34" y1="340.82" x2="414.34" y2="340.82" stroke="#333" stroke-width="0.9" />
<line x1="410.34" y1="338.46" x2="414.34" y2="338.46" stroke="#333" stroke-width="0.9" />
<line x1="428.96" y1="343.81" x2="428.96" y2="342.23" stroke="#333" stroke-width="0.9" />
<line x1="426.96" y1="343.81" x2="430.96" y2="343.81" stroke="#333" stroke-width="0.9" />
<line x1="426.96" y1="342.23" x2="430.96" y2="342.23" stroke="#333" stroke-width="0.9" />
<line x1="445.58" y1="343.81" x2="445.58" y2="342.23" stroke="#333" stroke-width="0.9" />
<line x1="443.58" y1="343.81" x2="447.58" y2="343.81" stroke="#333" stroke-width="0.9" />
<line x1="443.58" y1="342.23" x2="447.58" y2="342.23" stroke="#333" stroke-width="0.9" />
<line x1="462.20" y1="344.36" x2="462.20" y2="342.78" stroke="#333" stroke-width="0.9" />
<line x1="460.20" y1="344.36" x2="464.20" y2="344.36" stroke="#333" stroke-width="0.9" />
<line x1="460.20" y1="342.78" x2="464.20" y2="342.78" stroke="#333" stroke-width="0.9" />
<path d="M296.00,314.67 C298.77,313.82 307.08,310.90 312.62,309.58 C318.16,308.26 323.70,308.54 329.24,306.75 C334.78,304.96 340.32,300.24 345.86,298.82 C351.40,297.41 356.94,299.96 362.48,298.26 C368.02,296.56 373.56,292.31 379.10,288.64 C384.64,284.96 390.18,278.45 395.72,276.18 C401.26,273.92 406.80,278.73 412.34,275.05 C417.88,271.37 423.42,259.68 428.96,254.11 C434.50,248.54 440.04,245.53 445.58,241.66 C451.12,237.79 459.43,232.70 462.20,230.90" fill="none" stroke="#1f9a2a" stroke-width="1.6"/>
<path d="M296.00,236.67 C298.77,241.52 307.08,256.45 312.62,265.76 C318.16,275.06 323.70,286.45 329.24,292.48 C334.78,298.51 340.32,296.54 345.86,301.91 C351.40,307.28 356.94,319.07 362.48,324.71 C368.02,330.34 373.56,333.64 379.10,335.71 C384.64,337.78 390.18,336.47 395.72,337.12 C401.26,337.78 406.80,338.66 412.34,339.64 C417.88,340.62 423.42,342.46 428.96,343.02 C434.50,343.58 440.04,342.93 445.58,343.02 C451.12,343.11 459.43,343.48 462.20,343.57" fill="none" stroke="#ec1c24" stroke-width="1.6"/>
<circle cx="296.00" cy="314.67" r="2.3" fill="#2a9a35" stroke="#1a1a1a" stroke-width="0.8"/>
<circle cx="312.62" cy="309.58" r="2.3" fill="#2a9a35" stroke="#1a1a1a" stroke-width="0.8"/>
<circle cx="329.24" cy="306.75" r="2.3" fill="#2a9a35" stroke="#1a1a1a" stroke-width="0.8"/>
<circle cx="345.86" cy="298.82" r="2.3" fill="#2a9a35" stroke="#1a1a1a" stroke-width="0.8"/>
<circle cx="362.48" cy="298.26" r="2.3" fill="#2a9a35" stroke="#1a1a1a" stroke-width="0.8"/>
<circle cx="379.10" cy="288.64" r="2.3" fill="#2a9a35" stroke="#1a1a1a" stroke-width="0.8"/>
<circle cx="395.72" cy="276.18" r="2.3" fill="#2a9a35" stroke="#1a1a1a" stroke-width="0.8"/>
<circle cx="412.34" cy="275.05" r="2.3" fill="#2a9a35" stroke="#1a1a1a" stroke-width="0.8"/>
<circle cx="428.96" cy="254.11" r="2.3" fill="#2a9a35" stroke="#1a1a1a" stroke-width="0.8"/>
<circle cx="445.58" cy="241.66" r="2.3" fill="#2a9a35" stroke="#1a1a1a" stroke-width="0.8"/>
<circle cx="462.20" cy="230.90" r="2.3" fill="#2a9a35" stroke="#1a1a1a" stroke-width="0.8"/>
<circle cx="296.00" cy="236.67" r="2.3" fill="#e8262b" stroke="#1a1a1a" stroke-width="0.8"/>
<circle cx="312.62" cy="265.76" r="2.3" fill="#e8262b" stroke="#1a1a1a" stroke-width="0.8"/>
<circle cx="329.24" cy="292.48" r="2.3" fill="#e8262b" stroke="#1a1a1a" stroke-width="0.8"/>
<circle cx="345.86" cy="301.91" r="2.3" fill="#e8262b" stroke="#1a1a1a" stroke-width="0.8"/>
<circle cx="362.48" cy="324.71" r="2.3" fill="#3a1010" stroke="#1a1a1a" stroke-width="0.8"/>
<circle cx="379.10" cy="335.71" r="2.3" fill="#3a1010" stroke="#1a1a1a" stroke-width="0.8"/>
<circle cx="395.72" cy="337.12" r="2.3" fill="#3a1010" stroke="#1a1a1a" stroke-width="0.8"/>
<circle cx="412.34" cy="339.64" r="2.3" fill="#3a1010" stroke="#1a1a1a" stroke-width="0.8"/>
<circle cx="428.96" cy="343.02" r="2.3" fill="#3a1010" stroke="#1a1a1a" stroke-width="0.8"/>
<circle cx="445.58" cy="343.02" r="2.3" fill="#3a1010" stroke="#1a1a1a" stroke-width="0.8"/>
<circle cx="462.20" cy="343.57" r="2.3" fill="#3a1010" stroke="#1a1a1a" stroke-width="0.8"/>
<text x="9.2" y="384" font-size="12" fill="#000" text-anchor="middle" dominant-baseline="central" >(d)</text>
<path d="M43.5,377.1 H240.3 V528.2 H43.5 Z" fill="none" stroke="#1a1a1a" stroke-width="1.4"/>
<line x1="40.90" y1="528.20" x2="43.50" y2="528.20" stroke="#1a1a1a" stroke-width="1.1" />
<text x="40.5" y="528.2" font-size="6.6" fill="#000" text-anchor="end" dominant-baseline="central" >0.0</text>
<line x1="42.10" y1="520.69" x2="43.50" y2="520.69" stroke="#1a1a1a" stroke-width="0.8" />
<line x1="42.10" y1="513.18" x2="43.50" y2="513.18" stroke="#1a1a1a" stroke-width="0.8" />
<line x1="42.10" y1="505.67" x2="43.50" y2="505.67" stroke="#1a1a1a" stroke-width="0.8" />
<line x1="42.10" y1="498.16" x2="43.50" y2="498.16" stroke="#1a1a1a" stroke-width="0.8" />
<line x1="40.90" y1="490.65" x2="43.50" y2="490.65" stroke="#1a1a1a" stroke-width="1.1" />
<text x="40.5" y="490.65" font-size="6.6" fill="#000" text-anchor="end" dominant-baseline="central" >0.5</text>
<line x1="42.10" y1="483.14" x2="43.50" y2="483.14" stroke="#1a1a1a" stroke-width="0.8" />
<line x1="42.10" y1="475.63" x2="43.50" y2="475.63" stroke="#1a1a1a" stroke-width="0.8" />
<line x1="42.10" y1="468.12" x2="43.50" y2="468.12" stroke="#1a1a1a" stroke-width="0.8" />
<line x1="42.10" y1="460.61" x2="43.50" y2="460.61" stroke="#1a1a1a" stroke-width="0.8" />
<line x1="40.90" y1="453.10" x2="43.50" y2="453.10" stroke="#1a1a1a" stroke-width="1.1" />
<text x="40.5" y="453.1" font-size="6.6" fill="#000" text-anchor="end" dominant-baseline="central" >1.0</text>
<line x1="42.10" y1="445.59" x2="43.50" y2="445.59" stroke="#1a1a1a" stroke-width="0.8" />
<line x1="42.10" y1="438.08" x2="43.50" y2="438.08" stroke="#1a1a1a" stroke-width="0.8" />
<line x1="42.10" y1="430.57" x2="43.50" y2="430.57" stroke="#1a1a1a" stroke-width="0.8" />
<line x1="42.10" y1="423.06" x2="43.50" y2="423.06" stroke="#1a1a1a" stroke-width="0.8" />
<line x1="40.90" y1="415.55" x2="43.50" y2="415.55" stroke="#1a1a1a" stroke-width="1.1" />
<text x="40.5" y="415.55" font-size="6.6" fill="#000" text-anchor="end" dominant-baseline="central" >1.5</text>
<line x1="42.10" y1="408.04" x2="43.50" y2="408.04" stroke="#1a1a1a" stroke-width="0.8" />
<line x1="42.10" y1="400.53" x2="43.50" y2="400.53" stroke="#1a1a1a" stroke-width="0.8" />
<line x1="42.10" y1="393.02" x2="43.50" y2="393.02" stroke="#1a1a1a" stroke-width="0.8" />
<line x1="42.10" y1="385.51" x2="43.50" y2="385.51" stroke="#1a1a1a" stroke-width="0.8" />
<line x1="40.90" y1="378.00" x2="43.50" y2="378.00" stroke="#1a1a1a" stroke-width="1.1" />
<text x="40.5" y="378" font-size="6.6" fill="#000" text-anchor="end" dominant-baseline="central" >2.0</text>
<line x1="44.20" y1="528.20" x2="44.20" y2="530.80" stroke="#1a1a1a" stroke-width="1.1" />
<text x="44.2" y="534.5" font-size="6.5" fill="#000" text-anchor="middle" dominant-baseline="central" >0</text>
<line x1="49.92" y1="528.20" x2="49.92" y2="529.70" stroke="#1a1a1a" stroke-width="0.8" />
<line x1="55.63" y1="528.20" x2="55.63" y2="529.70" stroke="#1a1a1a" stroke-width="0.8" />
<line x1="61.34" y1="528.20" x2="61.34" y2="529.70" stroke="#1a1a1a" stroke-width="0.8" />
<line x1="67.06" y1="528.20" x2="67.06" y2="530.80" stroke="#1a1a1a" stroke-width="1.1" />
<text x="67.06" y="534.5" font-size="6.5" fill="#000" text-anchor="middle" dominant-baseline="central" >200</text>
<line x1="72.78" y1="528.20" x2="72.78" y2="529.70" stroke="#1a1a1a" stroke-width="0.8" />
<line x1="78.49" y1="528.20" x2="78.49" y2="529.70" stroke="#1a1a1a" stroke-width="0.8" />
<line x1="84.21" y1="528.20" x2="84.21" y2="529.70" stroke="#1a1a1a" stroke-width="0.8" />
<line x1="89.92" y1="528.20" x2="89.92" y2="530.80" stroke="#1a1a1a" stroke-width="1.1" />
<text x="89.92" y="534.5" font-size="6.5" fill="#000" text-anchor="middle" dominant-baseline="central" >400</text>
<line x1="95.64" y1="528.20" x2="95.64" y2="529.70" stroke="#1a1a1a" stroke-width="0.8" />
<line x1="101.35" y1="528.20" x2="101.35" y2="529.70" stroke="#1a1a1a" stroke-width="0.8" />
<line x1="107.06" y1="528.20" x2="107.06" y2="529.70" stroke="#1a1a1a" stroke-width="0.8" />
<line x1="112.78" y1="528.20" x2="112.78" y2="530.80" stroke="#1a1a1a" stroke-width="1.1" />
<text x="112.78" y="534.5" font-size="6.5" fill="#000" text-anchor="middle" dominant-baseline="central" >600</text>
<line x1="118.50" y1="528.20" x2="118.50" y2="529.70" stroke="#1a1a1a" stroke-width="0.8" />
<line x1="124.21" y1="528.20" x2="124.21" y2="529.70" stroke="#1a1a1a" stroke-width="0.8" />
<line x1="129.93" y1="528.20" x2="129.93" y2="529.70" stroke="#1a1a1a" stroke-width="0.8" />
<line x1="135.64" y1="528.20" x2="135.64" y2="530.80" stroke="#1a1a1a" stroke-width="1.1" />
<text x="135.64" y="534.5" font-size="6.5" fill="#000" text-anchor="middle" dominant-baseline="central" >800</text>
<line x1="141.36" y1="528.20" x2="141.36" y2="529.70" stroke="#1a1a1a" stroke-width="0.8" />
<line x1="147.07" y1="528.20" x2="147.07" y2="529.70" stroke="#1a1a1a" stroke-width="0.8" />
<line x1="152.78" y1="528.20" x2="152.78" y2="529.70" stroke="#1a1a1a" stroke-width="0.8" />
<line x1="158.50" y1="528.20" x2="158.50" y2="530.80" stroke="#1a1a1a" stroke-width="1.1" />
<text x="158.5" y="534.5" font-size="6.5" fill="#000" text-anchor="middle" dominant-baseline="central" >1000</text>
<line x1="164.22" y1="528.20" x2="164.22" y2="529.70" stroke="#1a1a1a" stroke-width="0.8" />
<line x1="169.93" y1="528.20" x2="169.93" y2="529.70" stroke="#1a1a1a" stroke-width="0.8" />
<line x1="175.64" y1="528.20" x2="175.64" y2="529.70" stroke="#1a1a1a" stroke-width="0.8" />
<line x1="181.36" y1="528.20" x2="181.36" y2="530.80" stroke="#1a1a1a" stroke-width="1.1" />
<text x="181.36" y="534.5" font-size="6.5" fill="#000" text-anchor="middle" dominant-baseline="central" >1200</text>
<line x1="187.07" y1="528.20" x2="187.07" y2="529.70" stroke="#1a1a1a" stroke-width="0.8" />
<line x1="192.79" y1="528.20" x2="192.79" y2="529.70" stroke="#1a1a1a" stroke-width="0.8" />
<line x1="198.50" y1="528.20" x2="198.50" y2="529.70" stroke="#1a1a1a" stroke-width="0.8" />
<line x1="204.22" y1="528.20" x2="204.22" y2="530.80" stroke="#1a1a1a" stroke-width="1.1" />
<text x="204.22" y="534.5" font-size="6.5" fill="#000" text-anchor="middle" dominant-baseline="central" >1400</text>
<line x1="209.94" y1="528.20" x2="209.94" y2="529.70" stroke="#1a1a1a" stroke-width="0.8" />
<line x1="215.65" y1="528.20" x2="215.65" y2="529.70" stroke="#1a1a1a" stroke-width="0.8" />
<line x1="221.37" y1="528.20" x2="221.37" y2="529.70" stroke="#1a1a1a" stroke-width="0.8" />
<line x1="227.08" y1="528.20" x2="227.08" y2="530.80" stroke="#1a1a1a" stroke-width="1.1" />
<text x="227.08" y="534.5" font-size="6.5" fill="#000" text-anchor="middle" dominant-baseline="central" >1600</text>
<line x1="232.80" y1="528.20" x2="232.80" y2="529.70" stroke="#1a1a1a" stroke-width="0.8" />
<line x1="238.51" y1="528.20" x2="238.51" y2="529.70" stroke="#1a1a1a" stroke-width="0.8" />
<text x="142.2" y="544.2" font-size="8" fill="#000" text-anchor="middle" dominant-baseline="central" >Strain (%)</text>
<text x="23.4" y="452.4" font-size="8" fill="#000" text-anchor="middle" dominant-baseline="central" transform="rotate(-90 23.4 452.4)" >Stress (MPa)</text>
<polyline points="44.20,528.20 44.60,526.05 45.00,523.83 45.40,520.24 45.80,519.21 46.20,518.28 46.60,516.03 47.00,514.29 47.40,511.46 47.80,511.20 48.21,508.61 48.61,505.44 49.01,505.57 49.41,502.93 49.81,505.43 50.21,504.86 50.61,501.99 51.01,501.36 51.41,502.61 51.81,499.99 52.21,499.45 52.61,499.06 53.01,499.25 53.41,499.92 53.81,500.83 54.21,497.61 54.61,500.10 55.01,498.25 55.42,499.25 55.82,498.63 56.22,495.83 56.62,497.39 57.02,495.11 57.42,494.38 57.82,495.59 58.22,496.75 58.62,495.69 59.02,493.99 59.42,496.18 59.82,496.17 60.22,493.31 60.62,493.82 61.02,494.25 61.42,494.97 61.82,491.74 62.22,493.07 62.63,494.36 63.03,492.71 63.43,492.84 63.83,492.78 64.23,491.48 64.63,490.37 65.03,491.23 65.43,490.72 65.83,489.73 66.23,491.40 66.63,489.26 67.03,489.44 67.43,490.23 67.83,490.15 68.23,490.17 68.63,489.00 69.03,487.22 69.43,489.21 69.84,489.18 70.24,488.18 70.64,488.12 71.04,486.90 71.44,486.57 71.84,486.66 72.24,484.75 72.64,486.51 73.04,486.97 73.44,484.08 73.84,486.08 74.24,485.66 74.64,483.20 75.04,482.70 75.44,484.53 75.84,482.87 76.24,482.99 76.64,483.95 77.05,483.84 77.45,484.00 77.85,483.10 78.25,482.00 78.65,480.57 79.05,480.75 79.45,480.84 79.85,481.91 80.25,482.45 80.65,480.32 81.05,480.81 81.45,482.69 81.85,480.47 82.25,481.46 82.65,480.91 83.05,480.88 83.45,479.99 83.85,480.07 84.26,480.47 84.66,478.23 85.06,480.47 85.46,480.56 85.86,477.24 86.26,477.63 86.66,477.64 87.06,476.87 87.46,476.86 87.86,478.58 88.26,476.43 88.66,476.03 89.06,479.19 89.46,476.95 89.86,477.29 90.26,476.86 90.66,476.19 91.06,476.43 91.47,475.27 91.87,476.56 92.27,475.13 92.67,474.56 93.07,474.62 93.47,475.22 93.87,477.02 94.27,475.58 94.67,476.86 95.07,474.49 95.47,473.78 95.87,475.33 96.27,473.18 96.67,476.08 97.07,473.60 97.47,472.98 97.87,472.81 98.27,472.77 98.67,475.01 99.08,475.05 99.48,473.24 99.88,471.84 100.28,470.83 100.68,470.93 101.08,471.60 101.48,472.75 101.88,472.52 102.28,473.22 102.68,472.94 103.08,471.00 103.48,472.06 103.88,471.03 104.28,471.95 104.68,469.72 105.08,472.58 105.48,468.80 105.88,470.90 106.29,469.74 106.69,471.29 107.09,468.63 107.49,471.32 107.89,467.79 108.29,470.42 108.69,470.15 109.09,469.25 109.49,467.83 109.89,468.47 110.29,468.57 110.69,467.53 111.09,467.18 111.49,469.62 111.89,468.36 112.29,467.15 112.69,468.35 113.09,468.23 113.50,466.20 113.90,467.76 114.30,467.61 114.70,465.67 115.10,466.24 115.50,468.24 115.90,467.01 116.30,465.52 116.70,466.02 117.10,466.13 117.50,466.93 117.90,467.37 118.30,464.29 118.70,464.00 119.10,465.36 119.50,463.62 119.90,463.99 120.30,463.67 120.71,463.46 121.11,465.36 121.51,463.21 121.91,464.87 122.31,466.26 122.71,462.99 123.11,465.21 123.51,464.41 123.91,462.71 124.31,465.55 124.71,464.61 125.11,463.13 125.51,464.94 125.91,461.84 126.31,464.49 126.71,464.40 127.11,461.52 127.51,464.44 127.92,463.82 128.32,464.20 128.72,461.68 129.12,463.30 129.52,463.34 129.92,461.59 130.32,460.28 130.72,460.09 131.12,461.85 131.52,461.90 131.92,460.18 132.32,461.99 132.72,459.68 133.12,461.19 133.52,461.21 133.92,459.94 134.32,459.24 134.72,462.38 135.13,462.08 135.53,460.97 135.93,458.75 136.33,460.53 136.73,462.08 137.13,461.24 137.53,460.83 137.93,458.26 138.33,460.21 138.73,458.79 139.13,461.55 139.53,457.75 139.93,458.45 140.33,460.84 140.73,457.85 141.13,458.44 141.53,458.36 141.93,460.44 142.34,459.64 142.74,460.44 143.14,457.52 143.54,457.02 143.94,457.89 144.34,459.39 144.74,458.73 145.14,459.83 145.54,458.88 145.94,456.38 146.34,457.17 146.74,456.64 147.14,456.78 147.54,458.19 147.94,457.24 148.34,458.33 148.74,455.41 149.14,458.70 149.54,455.75 149.95,457.85 150.35,458.14 150.75,454.98 151.15,456.77 151.55,458.31 151.95,454.52 152.35,456.28 152.75,455.89 153.15,455.62 153.55,454.80 153.95,454.63 154.35,454.84 154.75,454.55 155.15,454.72 155.55,456.92 155.95,456.98 156.35,454.25 156.75,453.25 157.16,454.04 157.56,456.16 157.96,453.46 158.36,455.18 158.76,452.90 159.16,453.76 159.56,452.94 159.96,454.52 160.36,453.46 160.76,454.86 161.16,453.76 161.56,453.20 161.96,451.62 162.36,454.60 162.76,451.43 163.16,453.05 163.56,454.78 163.96,453.90 164.37,452.12 164.77,454.17 165.17,451.48 165.57,452.58 165.97,452.43 166.37,452.85 166.77,451.07 167.17,451.36 167.57,450.95 167.97,453.07 168.37,452.25 168.77,450.60 169.17,452.12 169.57,451.39 169.97,449.85 170.37,450.67 170.77,449.01 171.17,449.31 171.58,448.66 171.98,448.54 172.38,450.43 172.78,451.11 173.18,450.99 173.58,448.52 173.98,451.15 174.38,448.68 174.78,449.90 175.18,449.39 175.58,448.80 175.98,449.47 176.38,450.10 176.78,449.22 177.18,448.37 177.58,449.57 177.98,448.99 178.38,447.44 178.79,449.59 179.19,447.26 179.59,445.74 179.99,449.11 180.39,448.89 180.79,447.20 181.19,447.87 181.59,447.52 181.99,445.11 182.39,447.61 182.79,446.83 183.19,447.97 183.59,445.98 183.99,445.07 184.39,446.79 184.79,445.82 185.19,446.89 185.59,443.59 186.00,445.88 186.40,446.59 186.80,443.68 187.20,443.19 187.60,444.56 188.00,445.03 188.40,444.80 188.80,444.27 189.20,443.39 189.60,444.66 190.00,445.57 190.40,443.59 190.80,443.02 191.20,445.05 191.60,441.89 192.00,443.20 192.40,444.11 192.80,443.77 193.21,443.46 193.61,443.05 194.01,442.02 194.41,443.83 194.81,440.02 195.21,441.47 195.61,441.42 196.01,442.28 196.41,440.50 196.81,440.00 197.21,440.80 197.61,441.36 198.01,440.80 198.41,441.96 198.81,440.28 199.21,439.11 199.61,440.62 200.01,439.51 200.42,437.97 200.82,439.24 201.22,437.98 201.62,439.84 202.02,440.68 202.42,439.87 202.82,440.57 203.22,437.31 203.62,439.78 204.02,439.35 204.42,437.20 204.82,437.92 205.22,436.61 205.62,436.96 206.02,437.61 206.42,436.93 206.82,436.76 207.22,437.82 207.62,437.52 208.03,435.21 208.43,436.77 208.83,437.38 209.23,434.38 209.63,436.92 210.03,433.98 210.43,435.36 210.83,435.01 211.23,433.46 211.63,433.49 212.03,435.57 212.43,433.86 212.83,434.64 213.23,433.11 213.63,434.66 214.03,435.69 214.43,434.82 214.83,433.17 215.24,435.24 215.64,432.75 216.04,432.30 216.44,432.66 216.84,434.62 217.24,432.17 217.64,431.62 218.04,432.40 218.44,432.58 218.84,432.86 219.24,432.49 219.64,432.17 220.04,431.00 220.44,430.92 220.84,432.81 221.24,430.78 221.64,431.61 222.04,429.90 222.45,428.40 222.85,429.67 223.25,429.99 223.65,429.34 224.05,428.44 224.45,428.08 224.85,427.48 225.25,429.80 225.65,428.95 226.05,429.87 226.45,429.87 226.85,429.28" fill="none" stroke="#000000" stroke-width="2" stroke-linejoin="round"/>
<line x1="226.85" y1="428.32" x2="226.85" y2="528.20" stroke="#000000" stroke-width="1.1" />
<polyline points="44.20,528.20 44.60,526.05 45.00,523.85 45.40,521.89 45.80,518.46 46.20,518.80 46.60,516.65 47.00,513.32 47.40,512.19 47.80,509.04 48.20,507.41 48.60,506.08 49.00,505.97 49.40,503.21 49.81,504.63 50.21,500.97 50.61,500.64 51.01,499.60 51.41,501.09 51.81,499.13 52.21,498.81 52.61,497.71 53.01,498.09 53.41,496.73 53.81,495.52 54.21,495.66 54.61,494.69 55.01,493.53 55.41,495.29 55.81,494.32 56.21,493.77 56.61,493.98 57.01,491.95 57.41,491.45 57.81,491.15 58.21,490.66 58.61,491.10 59.01,488.58 59.41,489.65 59.81,489.51 60.22,488.54 60.62,487.15 61.02,488.98 61.42,486.42 61.82,487.85 62.22,486.20 62.62,485.49 63.02,485.63 63.42,484.94 63.82,484.90 64.22,486.30 64.62,486.13 65.02,484.65 65.42,485.28 65.82,484.41 66.22,484.20 66.62,485.11 67.02,483.02 67.42,484.53 67.82,483.68 68.22,483.38 68.62,480.94 69.02,480.92 69.42,480.49 69.82,481.23 70.22,482.89 70.63,482.41 71.03,482.03 71.43,479.48 71.83,481.11 72.23,481.08 72.63,480.95 73.03,480.65 73.43,478.32 73.83,478.21 74.23,479.93 74.63,479.53 75.03,479.79 75.43,478.13 75.83,479.32 76.23,476.69 76.63,479.08 77.03,478.62 77.43,476.64 77.83,475.56 78.23,476.87 78.63,477.10 79.03,475.79 79.43,474.64 79.83,475.12 80.23,476.65 80.63,474.08 81.04,476.58 81.44,474.16 81.84,473.80 82.24,473.28 82.64,475.85 83.04,475.38 83.44,473.30 83.84,472.37 84.24,473.94 84.64,474.48 85.04,471.46 85.44,473.24 85.84,473.74 86.24,472.25 86.64,472.40 87.04,472.94 87.44,470.92 87.84,470.82 88.24,471.85 88.64,471.30 89.04,471.03 89.44,470.18 89.84,471.91 90.24,469.62 90.64,470.67 91.04,471.15 91.45,469.37 91.85,468.05 92.25,468.38 92.65,467.69 93.05,467.74 93.45,467.45 93.85,467.96 94.25,467.85 94.65,467.90 95.05,468.39 95.45,468.23 95.85,468.06 96.25,466.83 96.65,467.59 97.05,467.03 97.45,465.48 97.85,466.62 98.25,465.70 98.65,466.65 99.05,466.64 99.45,464.86 99.85,465.29 100.25,465.16 100.65,464.46 101.05,463.45 101.45,463.28 101.86,466.11 102.26,465.11 102.66,463.96 103.06,464.49 103.46,463.03 103.86,464.25 104.26,464.83 104.66,464.08 105.06,462.90 105.46,464.37 105.86,463.99 106.26,461.04 106.66,461.98 107.06,461.92 107.46,461.17 107.86,462.08 108.26,460.38 108.66,462.13 109.06,462.30 109.46,459.57 109.86,461.40 110.26,459.86 110.66,460.86 111.06,460.85 111.46,461.58 111.86,460.83 112.26,459.18 112.67,460.25 113.07,458.21 113.47,459.84 113.87,458.71 114.27,458.05 114.67,457.79 115.07,457.54 115.47,459.22 115.87,456.80 116.27,457.06 116.67,456.76 117.07,456.47 117.47,458.13 117.87,457.49 118.27,457.57 118.67,458.15 119.07,456.53 119.47,455.04 119.87,455.35 120.27,456.23 120.67,456.69 121.07,457.17 121.47,455.70 121.87,454.62 122.27,455.63 122.67,456.56 123.08,454.47 123.48,456.23 123.88,455.98 124.28,454.78 124.68,454.31 125.08,453.03 125.48,452.82 125.88,452.44 126.28,454.12 126.68,454.29 127.08,455.04 127.48,453.64 127.88,454.74 128.28,452.71 128.68,451.70 129.08,451.32 129.48,451.91 129.88,452.54 130.28,453.86 130.68,451.51 131.08,451.17 131.48,452.60 131.88,451.39 132.28,451.79 132.68,450.35 133.08,452.46 133.49,452.54 133.89,451.87 134.29,452.32 134.69,450.25 135.09,449.16 135.49,449.89 135.89,451.66 136.29,450.15 136.69,449.16 137.09,448.87 137.49,448.78 137.89,449.52 138.29,450.95 138.69,450.68 139.09,450.14 139.49,450.00 139.89,448.06 140.29,449.81 140.69,447.90 141.09,448.73 141.49,447.02 141.89,449.64 142.29,447.06 142.69,448.41 143.09,448.50 143.49,448.30 143.90,448.29 144.30,447.15 144.70,448.37 145.10,448.70 145.50,447.53 145.90,448.55 146.30,448.00 146.70,445.31 147.10,447.14 147.50,445.15 147.90,446.83 148.30,445.75 148.70,447.16 149.10,444.42 149.50,447.16 149.90,444.12 150.30,444.01 150.70,443.69 151.10,443.93 151.50,446.54 151.90,445.90 152.30,446.01 152.70,443.51 153.10,444.96 153.50,445.14 153.90,444.77 154.31,443.14 154.71,445.22 155.11,444.28 155.51,443.97 155.91,442.53 156.31,442.72 156.71,443.70 157.11,442.76 157.51,442.49 157.91,443.70 158.31,441.92 158.71,443.14 159.11,440.36 159.51,441.73 159.91,442.12 160.31,439.69 160.71,441.69 161.11,440.19 161.51,441.07 161.91,440.86 162.31,439.09 162.71,441.46 163.11,438.99 163.51,438.43 163.91,439.18 164.31,437.73 164.72,437.61 165.12,439.48 165.52,437.11 165.92,438.28 166.32,439.12 166.72,437.48 167.12,438.37 167.52,438.16 167.92,435.76 168.32,435.21 168.72,437.20 169.12,437.18 169.52,436.86 169.92,436.14 170.32,435.20 170.72,436.35 171.12,435.36 171.52,435.15 171.92,435.34 172.32,432.30 172.72,434.21 173.12,433.41 173.52,431.29 173.92,431.77 174.32,432.95 174.72,432.06 175.13,431.87 175.53,430.70 175.93,431.30 176.33,432.00 176.73,432.03 177.13,430.37 177.53,430.65 177.93,428.30 178.33,428.18 178.73,429.23 179.13,429.80 179.53,427.26 179.93,427.06 180.33,427.91 180.73,427.01 181.13,426.21 181.53,425.99 181.93,426.57" fill="none" stroke="#e5181d" stroke-width="2" stroke-linejoin="round"/>
<line x1="181.93" y1="426.82" x2="181.93" y2="528.20" stroke="#e5181d" stroke-width="1.1" />
<polyline points="44.20,528.20 44.60,525.94 45.00,523.62 45.40,520.71 45.80,519.14 46.20,516.19 46.60,514.95 47.00,512.84 47.40,510.70 47.81,509.35 48.21,507.64 48.61,505.29 49.01,504.69 49.41,503.62 49.81,502.43 50.21,502.16 50.61,501.14 51.01,499.78 51.41,498.78 51.81,497.87 52.21,498.22 52.61,497.31 53.01,496.47 53.41,495.51 53.81,494.92 54.21,493.81 54.61,493.65 55.02,492.40 55.42,492.54 55.82,491.95 56.22,491.42 56.62,490.16 57.02,489.35 57.42,489.18 57.82,489.21 58.22,488.41 58.62,488.28 59.02,487.28 59.42,486.75 59.82,487.10 60.22,485.46 60.62,485.08 61.02,485.26 61.42,484.90 61.83,484.16 62.23,483.94 62.63,483.34 63.03,483.30 63.43,483.25 63.83,482.76 64.23,482.07 64.63,481.42 65.03,481.80 65.43,480.63 65.83,480.54 66.23,480.57 66.63,479.91 67.03,479.08 67.43,479.29 67.83,478.71 68.23,478.86 68.63,478.05 69.04,477.56 69.44,477.93 69.84,476.87 70.24,476.33 70.64,476.86 71.04,476.53 71.44,474.97 71.84,474.48 72.24,475.40 72.64,475.11 73.04,473.99 73.44,473.45 73.84,473.81 74.24,473.89 74.64,472.39 75.04,472.44 75.44,472.45 75.84,471.41 76.25,471.39 76.65,470.62 77.05,470.82 77.45,470.09 77.85,469.51 78.25,469.66 78.65,468.93 79.05,468.53 79.45,468.23 79.85,468.30 80.25,467.79 80.65,468.08 81.05,467.22 81.45,466.59 81.85,466.14 82.25,465.96 82.65,466.31 83.06,465.09 83.46,465.15 83.86,465.34 84.26,465.02 84.66,464.07 85.06,464.32 85.46,463.64 85.86,462.62 86.26,462.04 86.66,461.81 87.06,462.44 87.46,461.44 87.86,461.80 88.26,461.65 88.66,461.21 89.06,460.13 89.46,459.04 89.86,459.11 90.27,458.66 90.67,458.99 91.07,458.71 91.47,458.70 91.87,458.00 92.27,458.05 92.67,457.17 93.07,456.55 93.47,456.77 93.87,455.51 94.27,455.96 94.67,455.52 95.07,455.39 95.47,453.74 95.87,453.58 96.27,454.44 96.67,452.79 97.08,452.93 97.48,452.81 97.88,452.26 98.28,452.53 98.68,452.30 99.08,450.96 99.48,450.27 99.88,451.16 100.28,450.06 100.68,449.37 101.08,448.84 101.48,448.27 101.88,448.83 102.28,448.00 102.68,448.08 103.08,448.31 103.48,447.25 103.88,447.65 104.29,445.88 104.69,446.63 105.09,446.27 105.49,446.24 105.89,444.41 106.29,444.81 106.69,444.54 107.09,444.25 107.49,443.70 107.89,443.03 108.29,443.68 108.69,443.29 109.09,442.65 109.49,442.71 109.89,441.71 110.29,440.59 110.69,441.22 111.10,439.93 111.50,440.60 111.90,440.08 112.30,439.02 112.70,438.58 113.10,438.08 113.50,437.90 113.90,438.82 114.30,437.26 114.70,437.95 115.10,436.39 115.50,436.36 115.90,436.21 116.30,435.66 116.70,436.27 117.10,434.74 117.50,434.77 117.90,433.95 118.31,433.43 118.71,433.99 119.11,433.06 119.51,432.92 119.91,432.88 120.31,431.54 120.71,431.10 121.11,431.74 121.51,431.84 121.91,429.89 122.31,430.20 122.71,430.67 123.11,430.02 123.51,429.87 123.91,428.73 124.31,429.04 124.71,427.17 125.12,427.42 125.52,427.62 125.92,426.47 126.32,426.14 126.72,425.74 127.12,425.22 127.52,425.50 127.92,425.34 128.32,423.74 128.72,423.47 129.12,423.83 129.52,423.32 129.92,423.02 130.32,422.39 130.72,422.35 131.12,421.83 131.52,421.08 131.92,420.12 132.33,419.39" fill="none" stroke="#1f5fc6" stroke-width="2" stroke-linejoin="round"/>
<line x1="132.33" y1="420.06" x2="132.33" y2="528.20" stroke="#1f5fc6" stroke-width="1.1" />
<polyline points="44.20,528.20 44.60,525.83 45.00,523.40 45.41,521.73 45.81,518.48 46.21,516.55 46.61,514.34 47.02,511.43 47.42,509.25 47.82,508.16 48.22,505.55 48.62,504.22 49.03,503.43 49.43,501.98 49.83,499.56 50.23,498.50 50.64,497.77 51.04,497.79 51.44,495.58 51.84,494.99 52.24,493.90 52.65,493.05 53.05,492.81 53.45,491.42 53.85,490.94 54.26,490.64 54.66,489.81 55.06,488.53 55.46,488.35 55.86,487.25 56.27,486.91 56.67,485.26 57.07,484.74 57.47,484.39 57.88,484.29 58.28,483.11 58.68,482.23 59.08,481.24 59.48,480.68 59.89,479.97 60.29,480.62 60.69,479.89 61.09,479.34 61.50,478.20 61.90,477.94 62.30,476.74 62.70,476.51 63.10,475.44 63.51,475.36 63.91,474.58 64.31,473.83 64.71,474.64 65.12,472.83 65.52,473.49 65.92,472.82 66.32,471.37 66.72,471.52 67.13,471.87 67.53,471.39 67.93,470.25 68.33,470.12 68.74,469.56 69.14,468.44 69.54,468.39 69.94,468.02 70.34,467.24 70.75,467.48 71.15,466.43 71.55,466.47 71.95,464.93 72.36,465.09 72.76,464.00 73.16,464.52 73.56,464.44 73.96,463.46 74.37,463.05 74.77,462.69 75.17,461.61 75.57,461.40 75.98,461.25 76.38,460.90 76.78,460.01 77.18,459.70 77.58,459.00 77.99,458.88 78.39,458.60 78.79,457.56 79.19,457.65 79.60,457.42 80.00,456.42 80.40,456.63 80.80,455.05 81.20,455.52 81.61,453.83 82.01,453.62 82.41,453.83 82.81,452.07 83.22,452.49 83.62,452.38 84.02,451.99 84.42,451.05 84.82,450.00 85.23,449.46 85.63,449.42 86.03,448.00 86.43,447.42 86.84,448.26 87.24,447.33 87.64,446.07 88.04,445.97 88.44,445.22 88.85,445.62 89.25,444.16 89.65,444.34 90.05,443.84 90.46,442.63 90.86,442.00 91.26,441.90 91.66,441.17 92.06,440.95 92.47,440.00 92.87,440.21 93.27,439.08 93.67,438.09 94.08,438.58 94.48,438.24 94.88,437.36 95.28,436.61 95.68,436.60 96.09,436.16 96.49,434.15 96.89,434.38 97.29,433.09 97.70,433.06 98.10,432.38 98.50,432.19 98.90,432.00 99.30,431.75 99.71,430.26 100.11,429.32 100.51,430.36 100.91,429.47 101.32,428.55 101.72,427.30 102.12,426.64 102.52,427.49 102.92,426.27 103.33,426.23 103.73,425.53 104.13,424.90 104.53,424.41 104.94,422.95 105.34,422.36 105.74,422.08 106.14,422.03 106.54,421.50 106.95,420.86 107.35,420.00 107.75,419.27" fill="none" stroke="#dba418" stroke-width="2" stroke-linejoin="round"/>
<line x1="107.75" y1="419.31" x2="107.75" y2="528.20" stroke="#dba418" stroke-width="1.1" />
<polyline points="44.20,528.20 44.60,525.52 45.00,522.76 45.40,520.80 45.80,517.90 46.20,514.99 46.60,511.56 47.00,509.43 47.40,507.98 47.80,506.10 48.20,502.73 48.60,501.19 49.00,500.83 49.40,497.93 49.80,497.59 50.20,495.89 50.60,495.40 51.00,494.76 51.40,493.25 51.80,491.92 52.20,490.83 52.60,490.43 53.00,489.52 53.40,488.22 53.80,487.42 54.20,486.67 54.60,485.30 55.00,484.30 55.40,484.15 55.80,482.47 56.20,482.52 56.60,482.05 57.00,481.27 57.40,479.40 57.80,478.86 58.20,478.93 58.60,477.06 59.00,477.36 59.40,475.08 59.80,475.37 60.20,473.05 60.60,473.30 61.00,472.66 61.40,471.31 61.80,470.58 62.20,470.21 62.60,469.47 63.00,467.12 63.40,466.85 63.80,465.10 64.20,464.83 64.60,463.54 65.00,462.69 65.40,462.65 65.80,460.81 66.20,460.07 66.60,458.94 67.00,459.53 67.40,457.64 67.80,456.48 68.20,456.62 68.60,455.95 69.00,454.95 69.40,453.97 69.80,453.12 70.20,452.63 70.60,451.07 71.00,451.22 71.40,450.15 71.80,449.65 72.20,448.91 72.60,448.03 73.00,446.67 73.40,445.90 73.80,445.50 74.20,444.45 74.60,442.69 75.00,443.52 75.40,441.47 75.80,441.22 76.20,440.40 76.60,438.99 77.00,439.10 77.40,438.36 77.80,438.00 78.20,436.87 78.60,435.56 79.00,435.26 79.40,435.20 79.80,433.84 80.20,433.44" fill="none" stroke="#8840d2" stroke-width="2" stroke-linejoin="round"/>
<line x1="80.20" y1="432.82" x2="80.20" y2="528.20" stroke="#8840d2" stroke-width="1.1" />
<polyline points="44.20,528.20 44.73,521.33 45.27,514.46 45.80,507.37 46.33,500.98 46.87,494.97 47.40,488.20 47.93,482.54 48.47,475.76 49.00,469.45 49.53,464.36 50.07,460.13 50.60,456.47" fill="none" stroke="#f2d24a" stroke-width="1.3" stroke-linejoin="round"/>
<line x1="50.60" y1="456.86" x2="50.60" y2="528.20" stroke="#f2d24a" stroke-width="1.1" />
<polyline points="44.20,528.20 44.73,522.79 45.27,517.37 45.80,511.73 46.34,506.83 46.87,501.57 47.41,496.85 47.94,492.32 48.48,487.37 49.01,482.33 49.55,477.79 50.08,472.92 50.62,468.83 51.15,464.29 51.69,459.57" fill="none" stroke="#3cb8e0" stroke-width="1.3" stroke-linejoin="round"/>
<line x1="51.69" y1="459.86" x2="51.69" y2="528.20" stroke="#3cb8e0" stroke-width="1.1" />
<polyline points="44.20,528.20 44.72,522.99 45.24,517.92 45.75,513.43 46.27,508.69 46.79,503.94 47.31,499.36 47.83,495.55 48.34,491.97 48.86,488.11 49.38,485.12 49.90,480.99 50.42,477.74 50.93,473.78 51.45,470.30 51.97,466.66 52.49,463.15" fill="none" stroke="#d98ae8" stroke-width="1.3" stroke-linejoin="round"/>
<line x1="52.49" y1="462.86" x2="52.49" y2="528.20" stroke="#d98ae8" stroke-width="1.1" />
<polyline points="44.20,528.20 44.71,523.66 45.23,519.31 45.74,515.18 46.26,512.12 46.77,508.37 47.29,504.62 47.80,501.75 48.31,498.51 48.83,495.87 49.34,492.92 49.86,490.08 50.37,486.87 50.89,483.12 51.40,479.57 51.92,477.13 52.43,473.70 52.94,471.39 53.46,469.17 53.97,466.10 54.49,463.42" fill="none" stroke="#a8d83a" stroke-width="1.3" stroke-linejoin="round"/>
<line x1="54.49" y1="463.61" x2="54.49" y2="528.20" stroke="#a8d83a" stroke-width="1.1" />
<polyline points="44.20,528.20 44.72,523.54 45.24,519.18 45.76,515.60 46.27,512.05 46.79,509.31 47.31,506.00 47.83,503.54 48.35,500.83 48.87,498.64 49.39,495.82 49.91,494.14 50.42,491.16 50.94,488.92 51.46,487.20 51.98,485.26 52.50,483.05 53.02,480.99 53.54,478.46 54.06,476.53 54.57,474.62 55.09,472.55 55.61,470.39 56.13,468.26 56.65,465.80 57.17,463.10 57.69,460.86" fill="none" stroke="#f08a3c" stroke-width="1.3" stroke-linejoin="round"/>
<line x1="57.69" y1="460.61" x2="57.69" y2="528.20" stroke="#f08a3c" stroke-width="1.1" />
<polyline points="44.20,528.20 44.71,523.95 45.23,519.95 45.74,516.63 46.26,513.75 46.77,510.63 47.29,507.81 47.80,505.46 48.31,502.50 48.83,500.66 49.34,497.92 49.86,495.28 50.37,493.57 50.89,491.06 51.40,489.67 51.92,487.60 52.43,485.56 52.94,484.70 53.46,482.85 53.97,482.10 54.49,480.14 55.00,479.15 55.52,478.14 56.03,476.49 56.54,475.18 57.06,473.66 57.57,472.72 58.09,471.54 58.60,469.67 59.12,468.43 59.63,466.67 60.14,464.91 60.66,462.69 61.17,459.57 61.69,456.75" fill="none" stroke="#2e9b62" stroke-width="1.3" stroke-linejoin="round"/>
<line x1="61.69" y1="456.86" x2="61.69" y2="528.20" stroke="#2e9b62" stroke-width="1.1" />
<text x="56.5" y="384.8" font-size="7.3" fill="#000" text-anchor="start" dominant-baseline="central" >4b100PCL/4b10PCL:</text>
<line x1="57.30" y1="394.00" x2="71.50" y2="394.00" stroke="#000" stroke-width="1.6" />
<text x="74.1" y="394" font-size="7.5" fill="#000" text-anchor="start" dominant-baseline="central" >100:0</text>
<line x1="101.10" y1="394.00" x2="115.30" y2="394.00" stroke="#e5181d" stroke-width="1.6" />
<text x="117.9" y="394" font-size="7.5" fill="#000" text-anchor="start" dominant-baseline="central" >90:10</text>
<line x1="144.90" y1="394.00" x2="159.10" y2="394.00" stroke="#1f5fc6" stroke-width="1.6" />
<text x="161.7" y="394" font-size="7.5" fill="#000" text-anchor="start" dominant-baseline="central" >80:20</text>
<line x1="188.70" y1="394.00" x2="202.90" y2="394.00" stroke="#dba418" stroke-width="1.6" />
<text x="205.5" y="394" font-size="7.5" fill="#000" text-anchor="start" dominant-baseline="central" >70:30</text>
<line x1="57.30" y1="403.10" x2="71.50" y2="403.10" stroke="#8840d2" stroke-width="1.6" />
<text x="74.1" y="403.1" font-size="7.5" fill="#000" text-anchor="start" dominant-baseline="central" >60:40</text>
<line x1="101.10" y1="403.10" x2="115.30" y2="403.10" stroke="#2e9b62" stroke-width="1.6" />
<text x="117.9" y="403.1" font-size="7.5" fill="#000" text-anchor="start" dominant-baseline="central" >50:50</text>
<line x1="144.90" y1="403.10" x2="159.10" y2="403.10" stroke="#f08a3c" stroke-width="1.6" />
<text x="161.7" y="403.1" font-size="7.5" fill="#000" text-anchor="start" dominant-baseline="central" >40:60</text>
<line x1="188.70" y1="403.10" x2="202.90" y2="403.10" stroke="#a8d83a" stroke-width="1.6" />
<text x="205.5" y="403.1" font-size="7.5" fill="#000" text-anchor="start" dominant-baseline="central" >30:70</text>
<line x1="57.30" y1="412.20" x2="71.50" y2="412.20" stroke="#d98ae8" stroke-width="1.6" />
<text x="74.1" y="412.2" font-size="7.5" fill="#000" text-anchor="start" dominant-baseline="central" >20:80</text>
<line x1="101.10" y1="412.20" x2="115.30" y2="412.20" stroke="#3cb8e0" stroke-width="1.6" />
<text x="117.9" y="412.2" font-size="7.5" fill="#000" text-anchor="start" dominant-baseline="central" >10:90</text>
<line x1="144.90" y1="412.20" x2="159.10" y2="412.20" stroke="#f2d24a" stroke-width="1.6" />
<text x="161.7" y="412.2" font-size="7.5" fill="#000" text-anchor="start" dominant-baseline="central" >0:100</text>
<text x="259" y="383.5" font-size="12" fill="#000" text-anchor="middle" dominant-baseline="central" >(e)</text>
<path d="M292.8,375.3 H488.5 V526.4 H292.8 Z" fill="none" stroke="#1a1a1a" stroke-width="1.4"/>
<line x1="290.20" y1="526.40" x2="292.80" y2="526.40" stroke="#1a1a1a" stroke-width="1.1" />
<text x="289.8" y="526.4" font-size="6.6" fill="#000" text-anchor="end" dominant-baseline="central" >0.0</text>
<line x1="291.40" y1="513.89" x2="292.80" y2="513.89" stroke="#1a1a1a" stroke-width="0.8" />
<line x1="290.20" y1="501.38" x2="292.80" y2="501.38" stroke="#1a1a1a" stroke-width="1.1" />
<text x="289.8" y="501.38" font-size="6.6" fill="#000" text-anchor="end" dominant-baseline="central" >0.2</text>
<line x1="291.40" y1="488.87" x2="292.80" y2="488.87" stroke="#1a1a1a" stroke-width="0.8" />
<line x1="290.20" y1="476.36" x2="292.80" y2="476.36" stroke="#1a1a1a" stroke-width="1.1" />
<text x="289.8" y="476.36" font-size="6.6" fill="#000" text-anchor="end" dominant-baseline="central" >0.4</text>
<line x1="291.40" y1="463.85" x2="292.80" y2="463.85" stroke="#1a1a1a" stroke-width="0.8" />
<line x1="290.20" y1="451.34" x2="292.80" y2="451.34" stroke="#1a1a1a" stroke-width="1.1" />
<text x="289.8" y="451.34" font-size="6.6" fill="#000" text-anchor="end" dominant-baseline="central" >0.6</text>
<line x1="291.40" y1="438.83" x2="292.80" y2="438.83" stroke="#1a1a1a" stroke-width="0.8" />
<line x1="290.20" y1="426.32" x2="292.80" y2="426.32" stroke="#1a1a1a" stroke-width="1.1" />
<text x="289.8" y="426.32" font-size="6.6" fill="#000" text-anchor="end" dominant-baseline="central" >0.8</text>
<line x1="291.40" y1="413.81" x2="292.80" y2="413.81" stroke="#1a1a1a" stroke-width="0.8" />
<line x1="290.20" y1="401.30" x2="292.80" y2="401.30" stroke="#1a1a1a" stroke-width="1.1" />
<text x="289.8" y="401.3" font-size="6.6" fill="#000" text-anchor="end" dominant-baseline="central" >1.0</text>
<line x1="291.40" y1="388.79" x2="292.80" y2="388.79" stroke="#1a1a1a" stroke-width="0.8" />
<line x1="290.20" y1="376.28" x2="292.80" y2="376.28" stroke="#1a1a1a" stroke-width="1.1" />
<text x="289.8" y="376.28" font-size="6.6" fill="#000" text-anchor="end" dominant-baseline="central" >1.2</text>
<line x1="293.10" y1="526.40" x2="293.10" y2="529.00" stroke="#1a1a1a" stroke-width="1.1" />
<text x="293.1" y="532.8" font-size="6.5" fill="#000" text-anchor="middle" dominant-baseline="central" >0</text>
<line x1="304.62" y1="526.40" x2="304.62" y2="527.90" stroke="#1a1a1a" stroke-width="0.8" />
<line x1="316.14" y1="526.40" x2="316.14" y2="529.00" stroke="#1a1a1a" stroke-width="1.1" />
<text x="316.14" y="532.8" font-size="6.5" fill="#000" text-anchor="middle" dominant-baseline="central" >20</text>
<line x1="327.66" y1="526.40" x2="327.66" y2="527.90" stroke="#1a1a1a" stroke-width="0.8" />
<line x1="339.18" y1="526.40" x2="339.18" y2="529.00" stroke="#1a1a1a" stroke-width="1.1" />
<text x="339.18" y="532.8" font-size="6.5" fill="#000" text-anchor="middle" dominant-baseline="central" >40</text>
<line x1="350.70" y1="526.40" x2="350.70" y2="527.90" stroke="#1a1a1a" stroke-width="0.8" />
<line x1="362.22" y1="526.40" x2="362.22" y2="529.00" stroke="#1a1a1a" stroke-width="1.1" />
<text x="362.22" y="532.8" font-size="6.5" fill="#000" text-anchor="middle" dominant-baseline="central" >60</text>
<line x1="373.74" y1="526.40" x2="373.74" y2="527.90" stroke="#1a1a1a" stroke-width="0.8" />
<line x1="385.26" y1="526.40" x2="385.26" y2="529.00" stroke="#1a1a1a" stroke-width="1.1" />
<text x="385.26" y="532.8" font-size="6.5" fill="#000" text-anchor="middle" dominant-baseline="central" >80</text>
<line x1="396.78" y1="526.40" x2="396.78" y2="527.90" stroke="#1a1a1a" stroke-width="0.8" />
<line x1="408.30" y1="526.40" x2="408.30" y2="529.00" stroke="#1a1a1a" stroke-width="1.1" />
<text x="408.3" y="532.8" font-size="6.5" fill="#000" text-anchor="middle" dominant-baseline="central" >100</text>
<line x1="419.82" y1="526.40" x2="419.82" y2="527.90" stroke="#1a1a1a" stroke-width="0.8" />
<line x1="431.34" y1="526.40" x2="431.34" y2="529.00" stroke="#1a1a1a" stroke-width="1.1" />
<text x="431.34" y="532.8" font-size="6.5" fill="#000" text-anchor="middle" dominant-baseline="central" >120</text>
<line x1="442.86" y1="526.40" x2="442.86" y2="527.90" stroke="#1a1a1a" stroke-width="0.8" />
<line x1="454.38" y1="526.40" x2="454.38" y2="529.00" stroke="#1a1a1a" stroke-width="1.1" />
<text x="454.38" y="532.8" font-size="6.5" fill="#000" text-anchor="middle" dominant-baseline="central" >140</text>
<line x1="465.90" y1="526.40" x2="465.90" y2="527.90" stroke="#1a1a1a" stroke-width="0.8" />
<line x1="477.42" y1="526.40" x2="477.42" y2="529.00" stroke="#1a1a1a" stroke-width="1.1" />
<text x="477.42" y="532.8" font-size="6.5" fill="#000" text-anchor="middle" dominant-baseline="central" >160</text>
<line x1="488.94" y1="526.40" x2="488.94" y2="527.90" stroke="#1a1a1a" stroke-width="0.8" />
<text x="388.9" y="543" font-size="8.1" fill="#000" text-anchor="middle" dominant-baseline="central" >Strain (%)</text>
<text x="271.2" y="450.6" font-size="8.05" fill="#000" text-anchor="middle" dominant-baseline="central" transform="rotate(-90 271.2 450.6)" >Stress (MPa)</text>
<polyline points="293.10,526.40 293.60,525.74 294.10,525.08 294.60,524.77 295.10,523.12 295.60,521.12 296.10,521.75 296.61,522.89 297.11,520.66 297.61,520.56 298.11,518.27 298.61,518.60 299.11,517.69 299.61,516.13 300.11,515.87 300.61,514.63 301.11,516.95 301.61,514.91 302.11,514.33 302.61,514.70 303.11,513.80 303.62,511.71 304.12,513.41 304.62,511.61 305.12,512.62 305.62,509.48 306.12,509.24 306.62,507.63 307.12,509.95 307.62,508.74 308.12,508.94 308.62,506.76 309.12,508.34 309.62,507.18 310.12,506.92 310.63,503.42 311.13,505.95 311.63,505.95 312.13,504.60 312.63,503.00 313.13,503.17 313.63,501.35 314.13,500.57 314.63,502.76 315.13,501.31 315.63,501.73 316.13,498.80 316.63,498.98 317.13,500.09 317.64,497.00 318.14,497.99 318.64,497.27 319.14,495.98 319.64,497.49 320.14,496.67 320.64,495.23 321.14,496.16 321.64,496.53 322.14,492.67 322.64,495.71 323.14,492.47 323.64,492.66 324.15,491.36 324.65,490.33 325.15,491.87 325.65,489.72 326.15,491.14 326.65,492.01 327.15,491.13 327.65,488.26 328.15,487.92 328.65,490.06 329.15,488.34 329.65,489.77 330.15,486.94 330.65,487.36 331.16,486.29 331.66,484.69 332.16,485.84 332.66,485.52 333.16,484.61 333.66,486.57 334.16,485.08 334.66,482.68 335.16,481.59 335.66,481.52 336.16,481.36 336.66,480.85 337.16,480.22 337.66,482.60 338.17,480.40 338.67,480.21 339.17,479.95 339.67,479.76 340.17,478.97 340.67,479.27 341.17,479.08 341.67,477.62 342.17,478.05 342.67,476.33 343.17,476.14 343.67,476.23 344.17,475.89 344.67,475.40 345.18,475.80 345.68,476.12 346.18,475.31 346.68,473.18 347.18,472.37 347.68,472.69 348.18,472.29 348.68,474.28 349.18,474.03 349.68,471.22 350.18,473.22 350.68,473.10 351.18,471.90 351.69,471.22 352.19,469.98 352.69,470.70 353.19,468.98 353.69,468.96 354.19,469.87 354.69,467.87 355.19,470.10 355.69,467.44 356.19,466.29 356.69,467.87 357.19,466.23 357.69,466.45 358.19,466.63 358.70,464.92 359.20,464.58 359.70,466.09 360.20,466.68 360.70,463.19 361.20,462.91 361.70,462.65 362.20,462.26 362.70,461.73 363.20,463.62 363.70,462.85 364.20,461.64 364.70,461.69 365.20,461.56 365.71,460.94 366.21,462.23 366.71,459.44 367.21,460.14 367.71,460.20 368.21,458.58 368.71,459.50 369.21,458.31 369.71,459.92 370.21,457.34 370.71,457.46 371.21,456.92 371.71,456.41 372.21,458.09 372.72,456.39 373.22,458.51 373.72,456.94 374.22,454.84 374.72,455.79 375.22,458.00 375.72,457.04 376.22,457.28 376.72,454.07 377.22,453.73 377.72,453.52 378.22,455.47 378.72,455.92 379.23,452.67 379.73,452.40 380.23,453.79 380.73,452.70 381.23,452.90 381.73,452.79 382.23,454.65 382.73,451.66 383.23,453.35 383.73,451.05 384.23,452.20 384.73,451.71 385.23,449.82 385.73,453.08 386.24,451.84 386.74,451.25 387.24,452.49 387.74,451.04 388.24,448.77 388.74,449.52 389.24,448.87 389.74,451.62 390.24,451.16 390.74,450.19 391.24,450.41 391.74,448.93 392.24,447.12 392.74,450.41 393.25,449.52 393.75,449.77 394.25,448.97 394.75,447.40 395.25,447.97 395.75,445.89 396.25,448.92 396.75,448.32 397.25,445.76 397.75,447.00 398.25,445.40 398.75,445.85 399.25,446.55 399.75,445.08 400.26,445.52 400.76,447.11 401.26,446.73 401.76,446.13 402.26,446.23 402.76,443.76 403.26,444.81 403.76,444.66 404.26,445.75 404.76,442.07 405.26,444.56 405.76,444.00 406.26,443.36 406.77,442.90 407.27,443.12 407.77,443.70 408.27,442.12 408.77,442.86 409.27,441.31 409.77,443.29 410.27,441.92 410.77,442.70 411.27,440.40 411.77,442.30 412.27,440.45 412.77,442.13 413.27,441.33 413.78,438.45 414.28,439.60 414.78,439.11 415.28,438.27 415.78,438.27 416.28,437.13 416.78,440.47 417.28,437.07 417.78,439.66 418.28,438.85 418.78,436.96 419.28,436.76 419.78,438.61 420.28,436.77 420.79,435.52 421.29,436.50 421.79,436.90 422.29,434.33 422.79,436.52 423.29,434.53 423.79,435.78 424.29,436.50 424.79,436.32 425.29,434.01 425.79,435.93 426.29,434.22 426.79,433.93 427.29,434.27 427.80,433.37 428.30,433.65 428.80,435.14 429.30,434.36 429.80,432.33 430.30,431.15 430.80,433.55 431.30,430.53 431.80,432.34 432.30,432.29 432.80,433.36 433.30,432.24 433.80,432.32 434.31,431.16 434.81,430.58 435.31,430.38 435.81,432.09 436.31,428.23 436.81,430.59 437.31,428.45 437.81,429.13 438.31,429.05 438.81,427.45 439.31,427.22 439.81,428.97 440.31,429.98 440.81,426.46 441.32,426.73 441.82,427.63 442.32,426.89 442.82,425.70 443.32,427.39 443.82,426.87 444.32,425.64 444.82,426.07 445.32,425.17 445.82,424.77 446.32,424.40 446.82,423.38 447.32,425.82 447.82,422.49 448.33,424.15 448.83,424.60 449.33,423.76 449.83,421.96 450.33,423.11 450.83,423.62 451.33,422.26 451.83,422.51 452.33,420.81 452.83,420.62 453.33,422.79 453.83,420.33 454.33,421.20 454.83,421.10 455.34,417.71 455.84,421.04 456.34,419.32 456.84,417.21 457.34,418.19 457.84,418.59 458.34,415.99 458.84,414.95 459.34,414.91 459.84,414.01 460.34,415.67 460.84,416.91 461.34,413.14 461.85,415.26 462.35,414.62 462.85,411.34 463.35,414.49 463.85,412.72 464.35,410.87 464.85,413.27 465.35,412.22 465.85,410.15 466.35,411.20 466.85,410.16 467.35,408.88 467.85,408.06 468.35,407.91 468.86,409.49 469.36,409.08" fill="none" stroke="#2c9457" stroke-width="2" stroke-linejoin="round"/>
<line x1="469.36" y1="407.56" x2="469.36" y2="526.40" stroke="#2c9457" stroke-width="1.2" />
<polyline points="293.10,526.40 293.60,525.69 294.10,524.96 294.60,523.92 295.11,524.38 295.61,522.71 296.11,521.86 296.61,520.43 297.11,520.97 297.61,518.98 298.12,520.37 298.62,517.44 299.12,518.85 299.62,515.51 300.12,515.84 300.62,515.44 301.13,515.93 301.63,514.92 302.13,512.64 302.63,512.95 303.13,512.98 303.63,510.31 304.14,511.64 304.64,511.05 305.14,510.95 305.64,508.16 306.14,509.16 306.64,507.76 307.15,508.71 307.65,507.60 308.15,504.80 308.65,507.03 309.15,506.13 309.65,503.97 310.15,505.48 310.66,502.54 311.16,504.34 311.66,502.78 312.16,500.54 312.66,502.37 313.16,500.37 313.67,499.12 314.17,498.88 314.67,498.13 315.17,498.72 315.67,497.72 316.17,499.11 316.68,497.00 317.18,495.67 317.68,494.86 318.18,496.48 318.68,494.19 319.18,496.25 319.69,495.15 320.19,494.12 320.69,493.65 321.19,492.30 321.69,493.69 322.19,491.44 322.69,490.48 323.20,491.32 323.70,491.72 324.20,491.57 324.70,489.34 325.20,488.47 325.70,488.69 326.21,487.18 326.71,488.21 327.21,486.63 327.71,486.43 328.21,487.47 328.71,487.51 329.22,486.11 329.72,484.67 330.22,486.25 330.72,484.77 331.22,484.23 331.72,483.36 332.23,484.22 332.73,482.29 333.23,481.40 333.73,481.58 334.23,481.05 334.73,480.19 335.24,479.67 335.74,480.98 336.24,479.22 336.74,480.68 337.24,479.64 337.74,479.81 338.24,478.91 338.75,476.68 339.25,478.53 339.75,475.80 340.25,476.57 340.75,477.46 341.25,476.20 341.76,476.90 342.26,475.32 342.76,475.72 343.26,474.21 343.76,473.66 344.26,474.17 344.77,473.32 345.27,472.56 345.77,473.50 346.27,471.93 346.77,473.20 347.27,471.55 347.78,470.87 348.28,472.12 348.78,470.49 349.28,469.68 349.78,469.98 350.28,469.29 350.79,467.52 351.29,467.75 351.79,467.56 352.29,468.16 352.79,467.33 353.29,466.84 353.79,466.26 354.30,467.23 354.80,465.58 355.30,464.71 355.80,464.40 356.30,465.80 356.80,464.02 357.31,463.72 357.81,462.76 358.31,462.12 358.81,464.51 359.31,461.37 359.81,461.68 360.32,461.28 360.82,461.03 361.32,462.45 361.82,459.69 362.32,462.03 362.82,460.25 363.33,459.89 363.83,459.65 364.33,460.40 364.83,457.90 365.33,458.49 365.83,457.27 366.33,458.45 366.84,456.68 367.34,458.26 367.84,457.00 368.34,457.92 368.84,457.35 369.34,456.22 369.85,453.95 370.35,454.67 370.85,455.22 371.35,454.47 371.85,454.32 372.35,452.60 372.86,452.15 373.36,452.93 373.86,453.25 374.36,450.88 374.86,452.83 375.36,451.04 375.87,450.78 376.37,451.18 376.87,450.94 377.37,449.34 377.87,450.44 378.37,450.65 378.88,448.79 379.38,450.28 379.88,449.60 380.38,449.36 380.88,448.19 381.38,447.97 381.88,445.93 382.39,447.02 382.89,448.24 383.39,447.84 383.89,444.76 384.39,447.22 384.89,444.49 385.40,444.92 385.90,443.85 386.40,443.65 386.90,444.56 387.40,444.90 387.90,443.16 388.41,444.01 388.91,442.98 389.41,441.66 389.91,441.12 390.41,442.93 390.91,441.55 391.42,442.76 391.92,440.47 392.42,439.54 392.92,441.57 393.42,440.95 393.92,441.26 394.42,438.93 394.93,440.28 395.43,437.93 395.93,439.63 396.43,438.67 396.93,437.23 397.43,436.55 397.94,437.36 398.44,437.43 398.94,436.61 399.44,437.53 399.94,435.08 400.44,435.28 400.95,434.00 401.45,433.86 401.95,435.62 402.45,435.22 402.95,434.73 403.45,433.39 403.96,433.45 404.46,432.06 404.96,431.35 405.46,433.05 405.96,431.02 406.46,432.43 406.97,432.54 407.47,429.64 407.97,430.06 408.47,429.19 408.97,429.01 409.47,430.95 409.97,429.73 410.48,429.33 410.98,428.20 411.48,428.57 411.98,427.84 412.48,426.59 412.98,426.30 413.49,425.88 413.99,425.73 414.49,425.93 414.99,425.84 415.49,424.09 415.99,424.11 416.50,424.99 417.00,424.17 417.50,422.28 418.00,422.92 418.50,423.05 419.00,423.38 419.51,420.97 420.01,420.37 420.51,421.27 421.01,421.52 421.51,418.73 422.01,419.12 422.52,419.73 423.02,418.37 423.52,417.07 424.02,419.20 424.52,418.13 425.02,416.36 425.52,415.48 426.03,415.62 426.53,416.15 427.03,416.10 427.53,416.54 428.03,413.17 428.53,414.47 429.04,414.74" fill="none" stroke="#f47b20" stroke-width="2" stroke-linejoin="round"/>
<line x1="429.04" y1="413.81" x2="429.04" y2="526.40" stroke="#f47b20" stroke-width="1.2" />
<polyline points="293.10,526.40 293.60,525.69 294.10,524.97 294.60,525.42 295.10,523.62 295.60,522.92 296.11,521.98 296.61,520.53 297.11,519.41 297.61,519.57 298.11,519.10 298.61,519.05 299.11,517.23 299.61,518.09 300.11,515.21 300.61,515.87 301.11,513.58 301.61,513.36 302.12,512.44 302.62,513.91 303.12,512.49 303.62,511.53 304.12,511.67 304.62,511.28 305.12,509.22 305.62,509.83 306.12,507.78 306.62,508.22 307.12,507.93 307.63,506.19 308.13,506.29 308.63,505.87 309.13,503.66 309.63,504.76 310.13,502.74 310.63,502.38 311.13,501.67 311.63,501.19 312.13,502.26 312.63,500.39 313.13,500.87 313.64,498.48 314.14,498.18 314.64,497.00 315.14,497.59 315.64,498.21 316.14,496.55 316.64,496.48 317.14,494.51 317.64,493.68 318.14,493.53 318.64,494.80 319.15,493.59 319.65,493.62 320.15,492.67 320.65,490.81 321.15,490.08 321.65,490.59 322.15,488.85 322.65,489.16 323.15,488.75 323.65,487.48 324.15,488.75 324.65,485.90 325.16,487.54 325.66,484.77 326.16,486.57 326.66,484.63 327.16,483.45 327.66,484.10 328.16,483.78 328.66,482.47 329.16,482.14 329.66,482.10 330.16,480.58 330.67,480.17 331.17,480.63 331.67,479.51 332.17,479.97 332.67,478.50 333.17,478.72 333.67,477.78 334.17,476.53 334.67,476.38 335.17,476.40 335.67,475.72 336.17,475.84 336.68,475.31 337.18,474.90 337.68,473.32 338.18,474.44 338.68,474.11 339.18,472.26 339.68,473.19 340.18,471.67 340.68,470.71 341.18,469.74 341.68,470.87 342.19,470.43 342.69,469.91 343.19,468.87 343.69,467.60 344.19,466.91 344.69,468.01 345.19,467.65 345.69,467.95 346.19,467.12 346.69,466.00 347.19,466.62 347.69,463.72 348.20,465.57 348.70,464.03 349.20,463.42 349.70,463.31 350.20,462.15 350.70,462.03 351.20,462.48 351.70,461.49 352.20,461.53 352.70,459.95 353.20,458.64 353.71,458.88 354.21,459.01 354.71,457.37 355.21,457.61 355.71,457.19 356.21,455.87 356.71,454.41 357.21,455.65 357.71,454.07 358.21,455.25 358.71,452.24 359.21,453.43 359.72,452.58 360.22,452.79 360.72,452.13 361.22,451.66 361.72,450.74 362.22,450.02 362.72,449.67 363.22,449.12 363.72,447.95 364.22,447.14 364.72,446.10 365.23,446.13 365.73,445.93 366.23,446.36 366.73,444.18 367.23,445.30 367.73,444.52 368.23,442.94 368.73,443.26 369.23,443.54 369.73,442.82 370.23,442.03 370.73,440.50 371.24,440.15 371.74,439.71 372.24,438.97 372.74,438.95 373.24,439.45 373.74,438.75 374.24,437.17 374.74,437.67 375.24,437.04 375.74,435.37 376.24,435.28 376.75,434.90 377.25,434.02 377.75,435.12 378.25,434.56 378.75,433.45 379.25,434.46 379.75,432.71 380.25,431.74 380.75,431.91 381.25,431.47 381.75,430.45 382.25,430.47 382.76,430.93 383.26,430.32 383.76,428.57 384.26,429.59 384.76,429.00 385.26,427.34 385.76,427.40 386.26,428.07 386.76,427.85 387.26,427.43 387.76,425.88 388.27,426.85 388.77,425.56 389.27,425.45 389.77,424.13 390.27,423.79 390.77,422.92 391.27,422.48 391.77,423.52 392.27,421.55 392.77,422.58 393.27,421.56 393.77,420.89 394.28,420.80 394.78,421.39 395.28,420.35 395.78,419.51 396.28,419.45 396.78,419.01" fill="none" stroke="#9ad22d" stroke-width="2" stroke-linejoin="round"/>
<line x1="396.78" y1="418.81" x2="396.78" y2="526.40" stroke="#9ad22d" stroke-width="1.2" />
<polyline points="293.10,526.40 293.60,525.58 294.10,524.76 294.60,522.75 295.10,524.28 295.60,521.50 296.10,522.68 296.60,521.72 297.10,519.15 297.60,518.96 298.10,517.83 298.60,517.03 299.10,517.15 299.60,516.42 300.10,514.15 300.60,514.06 301.10,513.60 301.60,512.56 302.10,510.57 302.60,510.46 303.10,509.93 303.60,510.25 304.10,509.23 304.60,508.10 305.10,506.36 305.60,507.27 306.10,504.74 306.60,504.26 307.10,503.06 307.60,503.40 308.10,503.18 308.60,502.19 309.10,501.76 309.60,500.70 310.10,499.83 310.60,498.08 311.10,499.11 311.60,498.45 312.10,497.06 312.60,496.99 313.10,495.96 313.60,495.21 314.11,494.17 314.61,493.57 315.11,492.53 315.61,490.38 316.11,491.44 316.61,489.48 317.11,489.49 317.61,489.41 318.11,487.66 318.61,486.38 319.11,486.37 319.61,486.47 320.11,485.67 320.61,485.34 321.11,484.42 321.61,483.45 322.11,481.94 322.61,480.48 323.11,481.67 323.61,478.72 324.11,480.32 324.61,478.86 325.11,477.15 325.61,476.30 326.11,477.01 326.61,474.71 327.11,474.94 327.61,473.45 328.11,472.86 328.61,472.50 329.11,472.85 329.61,470.62 330.11,472.06 330.61,470.86 331.11,469.29 331.61,469.82 332.11,467.57 332.61,467.44 333.11,467.47 333.61,467.77 334.11,466.73 334.61,464.55 335.11,466.30 335.61,463.71 336.11,463.22 336.61,463.66 337.11,461.83 337.61,462.14 338.11,461.09 338.61,461.16 339.11,460.36 339.61,460.01 340.11,459.27 340.61,459.09 341.11,459.01 341.61,457.88 342.11,457.63 342.61,456.52 343.11,456.24 343.61,454.91 344.11,455.33 344.61,454.92 345.11,453.52 345.61,453.38 346.11,453.44 346.61,452.72 347.11,452.54 347.61,451.05 348.11,451.92 348.61,449.67 349.11,451.05 349.61,449.02 350.11,448.27 350.61,447.86 351.11,448.82 351.61,447.60 352.11,447.65 352.61,447.19 353.11,445.28 353.61,445.55 354.11,443.06 354.61,444.41 355.11,442.42 355.61,442.03 356.12,442.29 356.62,441.30 357.12,440.82 357.62,439.65 358.12,439.24 358.62,439.98 359.12,437.14 359.62,436.53 360.12,437.51 360.62,435.51 361.12,435.35 361.62,434.80 362.12,433.59 362.62,433.91 363.12,434.79 363.62,433.91 364.12,431.25 364.62,433.04 365.12,432.23 365.62,431.53 366.12,429.22 366.62,428.97 367.12,427.98 367.62,428.84 368.12,428.20 368.62,426.49 369.12,427.62 369.62,426.44 370.12,425.81 370.62,424.48 371.12,424.98 371.62,423.61 372.12,423.60 372.62,423.34 373.12,420.62 373.62,419.97 374.12,419.86 374.62,420.99 375.12,418.91 375.62,418.44 376.12,418.29 376.62,417.68" fill="none" stroke="#d883ec" stroke-width="2" stroke-linejoin="round"/>
<line x1="376.62" y1="417.56" x2="376.62" y2="526.40" stroke="#d883ec" stroke-width="1.2" />
<polyline points="293.10,526.40 293.60,525.56 294.11,524.73 294.61,523.10 295.11,522.89 295.62,522.97 296.12,521.26 296.62,519.94 297.12,520.04 297.63,518.41 298.13,518.17 298.63,516.56 299.14,516.85 299.64,514.48 300.14,514.15 300.65,514.69 301.15,512.03 301.65,511.84 302.15,510.56 302.66,510.14 303.16,509.70 303.66,509.70 304.17,508.85 304.67,506.64 305.17,506.79 305.68,505.30 306.18,503.70 306.68,503.24 307.19,502.52 307.69,501.88 308.19,502.36 308.69,501.12 309.20,498.79 309.70,499.03 310.20,497.61 310.71,496.74 311.21,497.27 311.71,494.73 312.22,495.38 312.72,494.92 313.22,492.21 313.72,492.05 314.23,492.34 314.73,489.95 315.23,489.85 315.74,488.79 316.24,489.41 316.74,488.47 317.25,487.59 317.75,485.76 318.25,484.63 318.76,485.56 319.26,483.32 319.76,482.53 320.26,481.46 320.77,482.30 321.27,480.71 321.77,479.36 322.28,478.25 322.78,478.43 323.28,476.76 323.79,475.91 324.29,476.17 324.79,475.59 325.29,474.78 325.80,474.83 326.30,472.18 326.80,471.46 327.31,470.76 327.81,471.11 328.31,470.45 328.82,468.75 329.32,468.74 329.82,466.86 330.32,466.25 330.83,465.81 331.33,464.74 331.83,464.27 332.34,463.56 332.84,463.05 333.34,463.25 333.85,462.27 334.35,461.62 334.85,459.45 335.36,460.06 335.86,458.41 336.36,458.79 336.86,457.40 337.37,456.78 337.87,455.82 338.37,453.84 338.88,453.68 339.38,452.66 339.88,452.10 340.39,452.41 340.89,450.88 341.39,449.56 341.89,450.24 342.40,448.39 342.90,447.26 343.40,447.09 343.91,446.30 344.41,445.96 344.91,445.47 345.42,445.01 345.92,443.84 346.42,442.87 346.93,441.76 347.43,441.83 347.93,441.22 348.43,440.86 348.94,439.62 349.44,439.36 349.94,436.81 350.45,436.73 350.95,436.01 351.45,436.05 351.96,435.73 352.46,434.54 352.96,433.07 353.46,433.09 353.97,431.54 354.47,431.58 354.97,429.81 355.48,430.80 355.98,430.44 356.48,428.09 356.99,428.43 357.49,426.45 357.99,425.87 358.50,426.26 359.00,424.43 359.50,424.51 360.00,423.93 360.51,423.97 361.01,423.56 361.51,421.94 362.02,420.32 362.52,420.29 363.02,419.24 363.53,419.34 364.03,418.27 364.53,417.58 365.03,417.33 365.54,416.41 366.04,415.10 366.54,416.08 367.05,414.29 367.55,413.23 368.05,413.07 368.56,413.17" fill="none" stroke="#2ab6e6" stroke-width="2" stroke-linejoin="round"/>
<line x1="368.56" y1="412.56" x2="368.56" y2="526.40" stroke="#2ab6e6" stroke-width="1.2" />
<polyline points="293.10,526.40 293.60,525.34 294.10,524.28 294.60,522.61 295.10,522.29 295.60,521.35 296.10,519.61 296.60,518.34 297.10,518.43 297.60,517.05 298.10,515.16 298.60,514.82 299.10,513.99 299.60,512.94 300.10,512.11 300.60,511.29 301.10,509.70 301.60,509.20 302.10,507.21 302.60,505.70 303.10,505.91 303.60,503.59 304.10,502.31 304.60,501.22 305.10,500.95 305.60,500.61 306.10,498.50 306.60,498.61 307.10,497.43 307.60,495.18 308.10,494.62 308.60,493.77 309.10,492.86 309.60,491.90 310.10,489.69 310.60,489.89 311.10,487.85 311.60,487.48 312.10,486.53 312.60,484.72 313.10,484.73 313.60,483.59 314.10,481.95 314.60,481.94 315.10,479.76 315.60,480.26 316.10,477.64 316.60,478.05 317.10,476.54 317.60,474.78 318.10,474.04 318.60,474.38 319.10,472.83 319.60,471.69 320.11,470.92 320.61,468.89 321.11,468.61 321.61,468.31 322.11,466.21 322.61,465.50 323.11,465.59 323.61,464.45 324.11,462.32 324.61,462.54 325.11,459.79 325.61,459.86 326.11,459.46 326.61,458.24 327.11,457.06 327.61,455.47 328.11,455.81 328.61,454.08 329.11,453.77 329.61,452.84 330.11,451.44 330.61,450.07 331.11,449.46 331.61,447.52 332.11,446.89 332.61,447.11 333.11,444.57 333.61,443.35 334.11,444.03 334.61,442.28 335.11,440.88 335.61,441.14 336.11,439.86 336.61,438.28 337.11,437.38 337.61,436.09 338.11,435.45 338.61,434.86 339.11,433.92 339.61,432.28 340.11,432.49 340.61,429.97 341.11,430.78 341.61,429.44 342.11,427.43 342.61,427.55 343.11,427.18 343.61,425.75 344.11,424.38 344.61,424.36 345.11,423.09 345.61,422.60 346.11,420.39 346.61,420.39 347.11,420.45 347.61,419.00 348.11,419.24 348.61,417.75 349.11,416.36 349.61,416.83 350.11,415.05 350.61,414.77 351.11,415.33 351.61,414.41 352.11,412.87 352.61,412.14 353.11,412.51 353.61,411.12 354.11,410.81 354.61,410.81 355.11,410.15 355.61,409.69 356.11,409.59 356.61,408.31 357.11,408.32 357.61,406.91" fill="none" stroke="#f7cf2e" stroke-width="2" stroke-linejoin="round"/>
<line x1="357.61" y1="407.56" x2="357.61" y2="526.40" stroke="#f7cf2e" stroke-width="1.2" />
<text x="302" y="382" font-size="7.3" fill="#000" text-anchor="start" dominant-baseline="central" >4b100PCL/4b10PCL:</text>
<line x1="301.50" y1="392.00" x2="318.00" y2="392.00" stroke="#2c9457" stroke-width="1.9" />
<text x="324.5" y="392" font-size="7.3" fill="#000" text-anchor="start" dominant-baseline="central" >50:50</text>
<line x1="355.50" y1="392.00" x2="372.00" y2="392.00" stroke="#f47b20" stroke-width="1.9" />
<text x="378.5" y="392" font-size="7.3" fill="#000" text-anchor="start" dominant-baseline="central" >40:60</text>
<line x1="409.50" y1="392.00" x2="426.00" y2="392.00" stroke="#9ad22d" stroke-width="1.9" />
<text x="432.5" y="392" font-size="7.3" fill="#000" text-anchor="start" dominant-baseline="central" >30:70</text>
<line x1="301.50" y1="400.80" x2="318.00" y2="400.80" stroke="#d883ec" stroke-width="1.9" />
<text x="324.5" y="400.8" font-size="7.3" fill="#000" text-anchor="start" dominant-baseline="central" >20:80</text>
<line x1="355.50" y1="400.80" x2="372.00" y2="400.80" stroke="#2ab6e6" stroke-width="1.9" />
<text x="378.5" y="400.8" font-size="7.3" fill="#000" text-anchor="start" dominant-baseline="central" >10:90</text>
<line x1="409.50" y1="400.80" x2="426.00" y2="400.80" stroke="#f7cf2e" stroke-width="1.9" />
<text x="432.5" y="400.8" font-size="7.3" fill="#000" text-anchor="start" dominant-baseline="central" >0:100</text>
</svg></body></html>
